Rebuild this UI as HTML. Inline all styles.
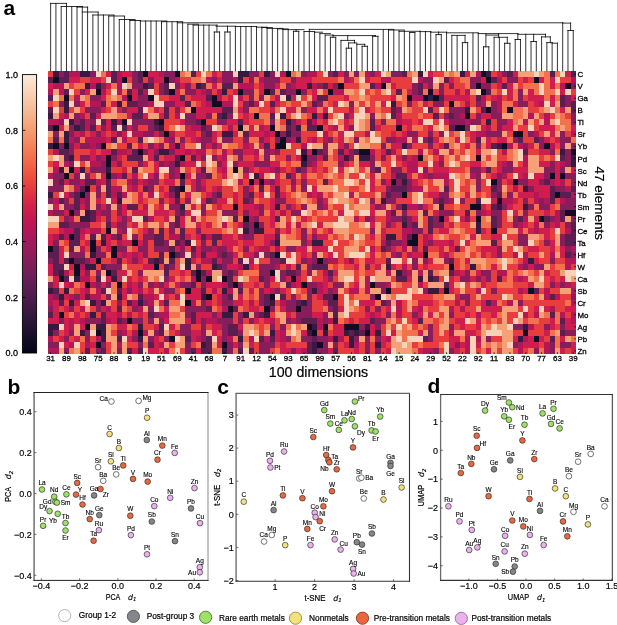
<!DOCTYPE html>
<html><head><meta charset="utf-8"><title>figure</title>
<style>html,body{margin:0;padding:0;background:#fff;}body{width:617px;height:625px;overflow:hidden}svg{display:block}</style>
</head><body>
<svg width="617" height="625" viewBox="0 0 617 625">
<style>.tk{font-family:"Liberation Sans",Arial,sans-serif;fill:#000;stroke:#000;stroke-width:0.28px}.tx{font-family:"Liberation Sans",Arial,sans-serif;fill:#000;stroke:#000;stroke-width:0.2px}.ak{font-family:"Liberation Sans",Arial,sans-serif;fill:#000;stroke:#000;stroke-width:0.16px}.lb{font-family:"Liberation Sans",Arial,sans-serif;fill:#000;stroke:#000;stroke-width:0.12px}</style>
<rect width="617" height="625" fill="#fff"/>
<g shape-rendering="crispEdges">
<path fill="#110c24" d="M143.02 71.20h5.30v6.03h-5.30zM174.70 71.20h5.30v6.03h-5.30zM285.56 71.20h5.30v6.03h-5.30zM480.88 71.20h5.30v6.03h-5.30zM53.28 77.21h5.30v6.03h-5.30zM121.91 77.21h5.30v6.03h-5.30zM164.14 77.21h5.30v6.03h-5.30zM486.16 77.21h5.30v6.03h-5.30zM533.67 77.21h5.30v6.03h-5.30zM338.34 83.23h5.30v6.03h-5.30zM380.58 83.23h5.30v6.03h-5.30zM475.60 83.23h5.30v6.03h-5.30zM565.34 83.23h5.30v6.03h-5.30zM95.51 89.24h5.30v6.03h-5.30zM169.42 89.24h5.30v6.03h-5.30zM238.04 89.24h5.30v6.03h-5.30zM264.44 89.24h5.30v6.03h-5.30zM296.11 89.24h5.30v6.03h-5.30zM327.79 89.24h5.30v6.03h-5.30zM428.09 89.24h5.30v6.03h-5.30zM480.88 89.24h5.30v6.03h-5.30zM63.84 95.26h5.30v6.03h-5.30zM127.19 95.26h5.30v6.03h-5.30zM148.30 95.26h5.30v6.03h-5.30zM211.65 95.26h5.30v6.03h-5.30zM406.97 95.26h5.30v6.03h-5.30zM422.81 95.26h5.30v6.03h-5.30zM433.37 95.26h5.30v6.03h-5.30zM211.65 101.27h5.30v6.03h-5.30zM216.93 101.27h5.30v6.03h-5.30zM449.20 101.27h5.30v6.03h-5.30zM190.53 107.29h5.30v6.03h-5.30zM486.16 107.29h5.30v6.03h-5.30zM507.27 107.29h5.30v6.03h-5.30zM253.88 113.30h5.30v6.03h-5.30zM465.04 113.30h5.30v6.03h-5.30zM121.91 119.32h5.30v6.03h-5.30zM158.86 119.32h5.30v6.03h-5.30zM201.09 119.32h5.30v6.03h-5.30zM53.28 125.33h5.30v6.03h-5.30zM238.04 125.33h5.30v6.03h-5.30zM269.72 125.33h5.30v6.03h-5.30zM317.23 125.33h5.30v6.03h-5.30zM396.41 125.33h5.30v6.03h-5.30zM454.48 125.33h5.30v6.03h-5.30zM459.76 125.33h5.30v6.03h-5.30zM164.14 131.35h5.30v6.03h-5.30zM275.00 131.35h5.30v6.03h-5.30zM512.55 131.35h5.30v6.03h-5.30zM517.83 131.35h5.30v6.03h-5.30zM280.28 137.36h5.30v6.03h-5.30zM53.28 143.38h5.30v6.03h-5.30zM63.84 143.38h5.30v6.03h-5.30zM100.79 143.38h5.30v6.03h-5.30zM275.00 143.38h5.30v6.03h-5.30zM280.28 143.38h5.30v6.03h-5.30zM501.99 143.38h5.30v6.03h-5.30zM544.23 143.38h5.30v6.03h-5.30zM137.74 149.39h5.30v6.03h-5.30zM311.95 149.39h5.30v6.03h-5.30zM359.46 149.39h5.30v6.03h-5.30zM364.74 149.39h5.30v6.03h-5.30zM570.62 149.39h5.30v6.03h-5.30zM106.07 155.41h5.30v6.03h-5.30zM179.97 155.41h5.30v6.03h-5.30zM301.39 155.41h5.30v6.03h-5.30zM417.53 155.41h5.30v6.03h-5.30zM475.60 155.41h5.30v6.03h-5.30zM106.07 161.42h5.30v6.03h-5.30zM69.12 167.44h5.30v6.03h-5.30zM232.76 167.44h5.30v6.03h-5.30zM63.84 173.45h5.30v6.03h-5.30zM106.07 173.45h5.30v6.03h-5.30zM179.97 173.45h5.30v6.03h-5.30zM549.50 173.45h5.30v6.03h-5.30zM560.06 173.45h5.30v6.03h-5.30zM248.60 179.47h5.30v6.03h-5.30zM259.16 179.47h5.30v6.03h-5.30zM391.13 179.47h5.30v6.03h-5.30zM491.44 179.47h5.30v6.03h-5.30zM512.55 179.47h5.30v6.03h-5.30zM84.95 185.48h5.30v6.03h-5.30zM179.97 185.48h5.30v6.03h-5.30zM79.67 191.50h5.30v6.03h-5.30zM401.69 191.50h5.30v6.03h-5.30zM554.78 191.50h5.30v6.03h-5.30zM496.71 197.51h5.30v6.03h-5.30zM232.76 203.53h5.30v6.03h-5.30zM470.32 203.53h5.30v6.03h-5.30zM475.60 203.53h5.30v6.03h-5.30zM69.12 209.54h5.30v6.03h-5.30zM565.34 209.54h5.30v6.03h-5.30zM570.62 209.54h5.30v6.03h-5.30zM243.32 215.56h5.30v6.03h-5.30zM438.65 215.56h5.30v6.03h-5.30zM475.60 215.56h5.30v6.03h-5.30zM538.95 215.56h5.30v6.03h-5.30zM253.88 221.57h5.30v6.03h-5.30zM106.07 227.59h5.30v6.03h-5.30zM491.44 227.59h5.30v6.03h-5.30zM69.12 233.60h5.30v6.03h-5.30zM412.25 233.60h5.30v6.03h-5.30zM90.23 239.62h5.30v6.03h-5.30zM132.46 239.62h5.30v6.03h-5.30zM406.97 239.62h5.30v6.03h-5.30zM412.25 239.62h5.30v6.03h-5.30zM48.00 245.63h5.30v6.03h-5.30zM90.23 245.63h5.30v6.03h-5.30zM111.35 245.63h5.30v6.03h-5.30zM111.35 251.65h5.30v6.03h-5.30zM169.42 251.65h5.30v6.03h-5.30zM275.00 251.65h5.30v6.03h-5.30zM422.81 251.65h5.30v6.03h-5.30zM69.12 257.66h5.30v6.03h-5.30zM95.51 257.66h5.30v6.03h-5.30zM317.23 257.66h5.30v6.03h-5.30zM74.39 263.68h5.30v6.03h-5.30zM153.58 263.68h5.30v6.03h-5.30zM449.20 263.68h5.30v6.03h-5.30zM74.39 269.69h5.30v6.03h-5.30zM106.07 269.69h5.30v6.03h-5.30zM195.81 269.69h5.30v6.03h-5.30zM269.72 269.69h5.30v6.03h-5.30zM58.56 275.71h5.30v6.03h-5.30zM195.81 275.71h5.30v6.03h-5.30zM206.37 275.71h5.30v6.03h-5.30zM222.21 275.71h5.30v6.03h-5.30zM290.83 275.71h5.30v6.03h-5.30zM84.95 281.72h5.30v6.03h-5.30zM116.63 281.72h5.30v6.03h-5.30zM232.76 281.72h5.30v6.03h-5.30zM301.39 281.72h5.30v6.03h-5.30zM370.02 281.72h5.30v6.03h-5.30zM185.25 287.74h5.30v6.03h-5.30zM385.86 287.74h5.30v6.03h-5.30zM443.93 287.74h5.30v6.03h-5.30zM528.39 287.74h5.30v6.03h-5.30zM206.37 293.75h5.30v6.03h-5.30zM269.72 293.75h5.30v6.03h-5.30zM333.07 293.75h5.30v6.03h-5.30zM375.30 293.75h5.30v6.03h-5.30zM185.25 299.77h5.30v6.03h-5.30zM227.49 305.78h5.30v6.03h-5.30zM264.44 305.78h5.30v6.03h-5.30zM296.11 305.78h5.30v6.03h-5.30zM58.56 311.80h5.30v6.03h-5.30zM127.19 317.81h5.30v6.03h-5.30zM84.95 323.83h5.30v6.03h-5.30zM306.67 323.83h5.30v6.03h-5.30zM322.51 323.83h5.30v6.03h-5.30zM343.62 323.83h5.30v6.03h-5.30zM348.90 323.83h5.30v6.03h-5.30zM354.18 323.83h5.30v6.03h-5.30zM95.51 329.84h5.30v6.03h-5.30zM137.74 329.84h5.30v6.03h-5.30zM311.95 329.84h5.30v6.03h-5.30zM364.74 329.84h5.30v6.03h-5.30zM523.11 329.84h5.30v6.03h-5.30zM169.42 335.86h5.30v6.03h-5.30zM533.67 335.86h5.30v6.03h-5.30zM95.51 341.87h5.30v6.03h-5.30zM222.21 341.87h5.30v6.03h-5.30zM317.23 341.87h5.30v6.03h-5.30z"/>
<path fill="#381a40" d="M53.28 71.20h5.30v6.03h-5.30zM79.67 71.20h5.30v6.03h-5.30zM84.95 71.20h5.30v6.03h-5.30zM238.04 71.20h5.30v6.03h-5.30zM243.32 71.20h5.30v6.03h-5.30zM264.44 71.20h5.30v6.03h-5.30zM417.53 71.20h5.30v6.03h-5.30zM459.76 71.20h5.30v6.03h-5.30zM486.16 71.20h5.30v6.03h-5.30zM238.04 77.21h5.30v6.03h-5.30zM84.95 83.23h5.30v6.03h-5.30zM95.51 83.23h5.30v6.03h-5.30zM143.02 83.23h5.30v6.03h-5.30zM195.81 83.23h5.30v6.03h-5.30zM306.67 83.23h5.30v6.03h-5.30zM222.21 89.24h5.30v6.03h-5.30zM285.56 95.26h5.30v6.03h-5.30zM428.09 95.26h5.30v6.03h-5.30zM63.84 101.27h5.30v6.03h-5.30zM116.63 101.27h5.30v6.03h-5.30zM391.13 101.27h5.30v6.03h-5.30zM63.84 107.29h5.30v6.03h-5.30zM465.04 107.29h5.30v6.03h-5.30zM48.00 113.30h5.30v6.03h-5.30zM222.21 113.30h5.30v6.03h-5.30zM280.28 113.30h5.30v6.03h-5.30zM311.95 113.30h5.30v6.03h-5.30zM322.51 113.30h5.30v6.03h-5.30zM69.12 119.32h5.30v6.03h-5.30zM111.35 119.32h5.30v6.03h-5.30zM153.58 119.32h5.30v6.03h-5.30zM285.56 119.32h5.30v6.03h-5.30zM486.16 119.32h5.30v6.03h-5.30zM74.39 125.33h5.30v6.03h-5.30zM158.86 125.33h5.30v6.03h-5.30zM296.11 125.33h5.30v6.03h-5.30zM63.84 131.35h5.30v6.03h-5.30zM222.21 131.35h5.30v6.03h-5.30zM227.49 131.35h5.30v6.03h-5.30zM285.56 131.35h5.30v6.03h-5.30zM63.84 137.36h5.30v6.03h-5.30zM296.11 137.36h5.30v6.03h-5.30zM48.00 143.38h5.30v6.03h-5.30zM174.70 143.38h5.30v6.03h-5.30zM401.69 143.38h5.30v6.03h-5.30zM496.71 143.38h5.30v6.03h-5.30zM158.86 149.39h5.30v6.03h-5.30zM164.14 149.39h5.30v6.03h-5.30zM301.39 149.39h5.30v6.03h-5.30zM560.06 149.39h5.30v6.03h-5.30zM69.12 155.41h5.30v6.03h-5.30zM343.62 155.41h5.30v6.03h-5.30zM359.46 155.41h5.30v6.03h-5.30zM364.74 155.41h5.30v6.03h-5.30zM570.62 155.41h5.30v6.03h-5.30zM174.70 161.42h5.30v6.03h-5.30zM301.39 161.42h5.30v6.03h-5.30zM570.62 161.42h5.30v6.03h-5.30zM58.56 167.44h5.30v6.03h-5.30zM79.67 167.44h5.30v6.03h-5.30zM106.07 167.44h5.30v6.03h-5.30zM253.88 173.45h5.30v6.03h-5.30zM401.69 179.47h5.30v6.03h-5.30zM174.70 185.48h5.30v6.03h-5.30zM523.11 185.48h5.30v6.03h-5.30zM48.00 191.50h5.30v6.03h-5.30zM174.70 191.50h5.30v6.03h-5.30zM116.63 197.51h5.30v6.03h-5.30zM380.58 197.51h5.30v6.03h-5.30zM179.97 203.53h5.30v6.03h-5.30zM275.00 203.53h5.30v6.03h-5.30zM401.69 203.53h5.30v6.03h-5.30zM438.65 203.53h5.30v6.03h-5.30zM496.71 203.53h5.30v6.03h-5.30zM523.11 203.53h5.30v6.03h-5.30zM84.95 209.54h5.30v6.03h-5.30zM79.67 215.56h5.30v6.03h-5.30zM84.95 215.56h5.30v6.03h-5.30zM401.69 221.57h5.30v6.03h-5.30zM475.60 221.57h5.30v6.03h-5.30zM243.32 227.59h5.30v6.03h-5.30zM253.88 227.59h5.30v6.03h-5.30zM259.16 227.59h5.30v6.03h-5.30zM475.60 227.59h5.30v6.03h-5.30zM385.86 233.60h5.30v6.03h-5.30zM391.13 233.60h5.30v6.03h-5.30zM100.79 239.62h5.30v6.03h-5.30zM185.25 239.62h5.30v6.03h-5.30zM275.00 239.62h5.30v6.03h-5.30zM311.95 239.62h5.30v6.03h-5.30zM317.23 239.62h5.30v6.03h-5.30zM90.23 251.65h5.30v6.03h-5.30zM153.58 257.66h5.30v6.03h-5.30zM185.25 257.66h5.30v6.03h-5.30zM528.39 257.66h5.30v6.03h-5.30zM84.95 263.68h5.30v6.03h-5.30zM90.23 263.68h5.30v6.03h-5.30zM185.25 263.68h5.30v6.03h-5.30zM211.65 263.68h5.30v6.03h-5.30zM243.32 263.68h5.30v6.03h-5.30zM385.86 263.68h5.30v6.03h-5.30zM470.32 263.68h5.30v6.03h-5.30zM58.56 269.69h5.30v6.03h-5.30zM396.41 269.69h5.30v6.03h-5.30zM74.39 275.71h5.30v6.03h-5.30zM111.35 275.71h5.30v6.03h-5.30zM417.53 275.71h5.30v6.03h-5.30zM428.09 275.71h5.30v6.03h-5.30zM48.00 287.74h5.30v6.03h-5.30zM63.84 287.74h5.30v6.03h-5.30zM222.21 287.74h5.30v6.03h-5.30zM311.95 287.74h5.30v6.03h-5.30zM428.09 287.74h5.30v6.03h-5.30zM433.37 287.74h5.30v6.03h-5.30zM58.56 293.75h5.30v6.03h-5.30zM116.63 293.75h5.30v6.03h-5.30zM201.09 293.75h5.30v6.03h-5.30zM69.12 299.77h5.30v6.03h-5.30zM90.23 299.77h5.30v6.03h-5.30zM100.79 299.77h5.30v6.03h-5.30zM137.74 299.77h5.30v6.03h-5.30zM269.72 299.77h5.30v6.03h-5.30zM301.39 299.77h5.30v6.03h-5.30zM90.23 311.80h5.30v6.03h-5.30zM222.21 311.80h5.30v6.03h-5.30zM227.49 311.80h5.30v6.03h-5.30zM243.32 311.80h5.30v6.03h-5.30zM264.44 311.80h5.30v6.03h-5.30zM333.07 317.81h5.30v6.03h-5.30zM48.00 323.83h5.30v6.03h-5.30zM53.28 323.83h5.30v6.03h-5.30zM95.51 323.83h5.30v6.03h-5.30zM100.79 323.83h5.30v6.03h-5.30zM137.74 323.83h5.30v6.03h-5.30zM311.95 323.83h5.30v6.03h-5.30zM364.74 323.83h5.30v6.03h-5.30zM523.11 323.83h5.30v6.03h-5.30zM48.00 329.84h5.30v6.03h-5.30zM79.67 329.84h5.30v6.03h-5.30zM100.79 329.84h5.30v6.03h-5.30zM269.72 329.84h5.30v6.03h-5.30zM306.67 329.84h5.30v6.03h-5.30zM322.51 329.84h5.30v6.03h-5.30zM343.62 329.84h5.30v6.03h-5.30zM354.18 329.84h5.30v6.03h-5.30zM375.30 329.84h5.30v6.03h-5.30zM100.79 335.86h5.30v6.03h-5.30zM137.74 335.86h5.30v6.03h-5.30zM238.04 335.86h5.30v6.03h-5.30zM333.07 335.86h5.30v6.03h-5.30zM348.90 335.86h5.30v6.03h-5.30zM517.83 335.86h5.30v6.03h-5.30zM201.09 341.87h5.30v6.03h-5.30zM311.95 341.87h5.30v6.03h-5.30zM348.90 341.87h5.30v6.03h-5.30zM375.30 341.87h5.30v6.03h-5.30zM222.21 347.89h5.30v6.03h-5.30zM311.95 347.89h5.30v6.03h-5.30z"/>
<path fill="#5b1e51" d="M63.84 71.20h5.30v6.03h-5.30zM111.35 71.20h5.30v6.03h-5.30zM137.74 71.20h5.30v6.03h-5.30zM190.53 71.20h5.30v6.03h-5.30zM333.07 71.20h5.30v6.03h-5.30zM401.69 71.20h5.30v6.03h-5.30zM507.27 71.20h5.30v6.03h-5.30zM549.50 71.20h5.30v6.03h-5.30zM570.62 71.20h5.30v6.03h-5.30zM48.00 77.21h5.30v6.03h-5.30zM58.56 77.21h5.30v6.03h-5.30zM63.84 77.21h5.30v6.03h-5.30zM111.35 77.21h5.30v6.03h-5.30zM137.74 77.21h5.30v6.03h-5.30zM443.93 77.21h5.30v6.03h-5.30zM491.44 77.21h5.30v6.03h-5.30zM148.30 83.23h5.30v6.03h-5.30zM164.14 83.23h5.30v6.03h-5.30zM201.09 83.23h5.30v6.03h-5.30zM222.21 83.23h5.30v6.03h-5.30zM227.49 83.23h5.30v6.03h-5.30zM322.51 83.23h5.30v6.03h-5.30zM370.02 83.23h5.30v6.03h-5.30zM417.53 83.23h5.30v6.03h-5.30zM501.99 83.23h5.30v6.03h-5.30zM63.84 89.24h5.30v6.03h-5.30zM127.19 89.24h5.30v6.03h-5.30zM137.74 89.24h5.30v6.03h-5.30zM164.14 89.24h5.30v6.03h-5.30zM269.72 89.24h5.30v6.03h-5.30zM280.28 89.24h5.30v6.03h-5.30zM396.41 89.24h5.30v6.03h-5.30zM417.53 89.24h5.30v6.03h-5.30zM486.16 89.24h5.30v6.03h-5.30zM48.00 95.26h5.30v6.03h-5.30zM179.97 95.26h5.30v6.03h-5.30zM206.37 95.26h5.30v6.03h-5.30zM317.23 95.26h5.30v6.03h-5.30zM322.51 95.26h5.30v6.03h-5.30zM438.65 95.26h5.30v6.03h-5.30zM475.60 95.26h5.30v6.03h-5.30zM560.06 95.26h5.30v6.03h-5.30zM100.79 101.27h5.30v6.03h-5.30zM127.19 101.27h5.30v6.03h-5.30zM132.46 101.27h5.30v6.03h-5.30zM185.25 101.27h5.30v6.03h-5.30zM248.60 101.27h5.30v6.03h-5.30zM269.72 101.27h5.30v6.03h-5.30zM311.95 101.27h5.30v6.03h-5.30zM560.06 101.27h5.30v6.03h-5.30zM570.62 101.27h5.30v6.03h-5.30zM48.00 107.29h5.30v6.03h-5.30zM137.74 107.29h5.30v6.03h-5.30zM164.14 107.29h5.30v6.03h-5.30zM222.21 107.29h5.30v6.03h-5.30zM227.49 107.29h5.30v6.03h-5.30zM391.13 107.29h5.30v6.03h-5.30zM428.09 107.29h5.30v6.03h-5.30zM480.88 107.29h5.30v6.03h-5.30zM570.62 107.29h5.30v6.03h-5.30zM90.23 113.30h5.30v6.03h-5.30zM132.46 113.30h5.30v6.03h-5.30zM137.74 113.30h5.30v6.03h-5.30zM164.14 113.30h5.30v6.03h-5.30zM216.93 113.30h5.30v6.03h-5.30zM269.72 113.30h5.30v6.03h-5.30zM391.13 113.30h5.30v6.03h-5.30zM433.37 113.30h5.30v6.03h-5.30zM449.20 113.30h5.30v6.03h-5.30zM79.67 119.32h5.30v6.03h-5.30zM100.79 119.32h5.30v6.03h-5.30zM195.81 119.32h5.30v6.03h-5.30zM238.04 119.32h5.30v6.03h-5.30zM306.67 119.32h5.30v6.03h-5.30zM370.02 119.32h5.30v6.03h-5.30zM48.00 125.33h5.30v6.03h-5.30zM79.67 125.33h5.30v6.03h-5.30zM90.23 125.33h5.30v6.03h-5.30zM111.35 125.33h5.30v6.03h-5.30zM121.91 125.33h5.30v6.03h-5.30zM153.58 125.33h5.30v6.03h-5.30zM201.09 125.33h5.30v6.03h-5.30zM285.56 125.33h5.30v6.03h-5.30zM306.67 125.33h5.30v6.03h-5.30zM311.95 125.33h5.30v6.03h-5.30zM370.02 125.33h5.30v6.03h-5.30zM449.20 125.33h5.30v6.03h-5.30zM206.37 131.35h5.30v6.03h-5.30zM243.32 131.35h5.30v6.03h-5.30zM53.28 137.36h5.30v6.03h-5.30zM111.35 137.36h5.30v6.03h-5.30zM137.74 137.36h5.30v6.03h-5.30zM428.09 137.36h5.30v6.03h-5.30zM475.60 137.36h5.30v6.03h-5.30zM517.83 137.36h5.30v6.03h-5.30zM533.67 137.36h5.30v6.03h-5.30zM127.19 143.38h5.30v6.03h-5.30zM264.44 143.38h5.30v6.03h-5.30zM443.93 143.38h5.30v6.03h-5.30zM491.44 143.38h5.30v6.03h-5.30zM58.56 149.39h5.30v6.03h-5.30zM63.84 149.39h5.30v6.03h-5.30zM111.35 149.39h5.30v6.03h-5.30zM132.46 149.39h5.30v6.03h-5.30zM317.23 149.39h5.30v6.03h-5.30zM338.34 149.39h5.30v6.03h-5.30zM354.18 149.39h5.30v6.03h-5.30zM385.86 149.39h5.30v6.03h-5.30zM523.11 149.39h5.30v6.03h-5.30zM63.84 155.41h5.30v6.03h-5.30zM127.19 155.41h5.30v6.03h-5.30zM132.46 155.41h5.30v6.03h-5.30zM137.74 155.41h5.30v6.03h-5.30zM153.58 155.41h5.30v6.03h-5.30zM174.70 155.41h5.30v6.03h-5.30zM190.53 155.41h5.30v6.03h-5.30zM322.51 155.41h5.30v6.03h-5.30zM560.06 155.41h5.30v6.03h-5.30zM132.46 167.44h5.30v6.03h-5.30zM201.09 167.44h5.30v6.03h-5.30zM296.11 167.44h5.30v6.03h-5.30zM375.30 167.44h5.30v6.03h-5.30zM486.16 167.44h5.30v6.03h-5.30zM121.91 173.45h5.30v6.03h-5.30zM206.37 173.45h5.30v6.03h-5.30zM285.56 173.45h5.30v6.03h-5.30zM396.41 173.45h5.30v6.03h-5.30zM401.69 173.45h5.30v6.03h-5.30zM58.56 179.47h5.30v6.03h-5.30zM84.95 179.47h5.30v6.03h-5.30zM90.23 179.47h5.30v6.03h-5.30zM106.07 179.47h5.30v6.03h-5.30zM179.97 179.47h5.30v6.03h-5.30zM322.51 179.47h5.30v6.03h-5.30zM544.23 179.47h5.30v6.03h-5.30zM79.67 185.48h5.30v6.03h-5.30zM106.07 185.48h5.30v6.03h-5.30zM143.02 185.48h5.30v6.03h-5.30zM169.42 185.48h5.30v6.03h-5.30zM259.16 185.48h5.30v6.03h-5.30zM275.00 185.48h5.30v6.03h-5.30zM391.13 185.48h5.30v6.03h-5.30zM396.41 185.48h5.30v6.03h-5.30zM401.69 185.48h5.30v6.03h-5.30zM443.93 185.48h5.30v6.03h-5.30zM491.44 185.48h5.30v6.03h-5.30zM549.50 185.48h5.30v6.03h-5.30zM570.62 185.48h5.30v6.03h-5.30zM74.39 191.50h5.30v6.03h-5.30zM106.07 191.50h5.30v6.03h-5.30zM116.63 191.50h5.30v6.03h-5.30zM216.93 191.50h5.30v6.03h-5.30zM248.60 191.50h5.30v6.03h-5.30zM275.00 191.50h5.30v6.03h-5.30zM385.86 191.50h5.30v6.03h-5.30zM496.71 191.50h5.30v6.03h-5.30zM549.50 191.50h5.30v6.03h-5.30zM560.06 191.50h5.30v6.03h-5.30zM565.34 191.50h5.30v6.03h-5.30zM58.56 197.51h5.30v6.03h-5.30zM74.39 197.51h5.30v6.03h-5.30zM174.70 197.51h5.30v6.03h-5.30zM206.37 197.51h5.30v6.03h-5.30zM243.32 197.51h5.30v6.03h-5.30zM438.65 197.51h5.30v6.03h-5.30zM475.60 197.51h5.30v6.03h-5.30zM549.50 197.51h5.30v6.03h-5.30zM74.39 203.53h5.30v6.03h-5.30zM127.19 203.53h5.30v6.03h-5.30zM132.46 203.53h5.30v6.03h-5.30zM491.44 203.53h5.30v6.03h-5.30zM90.23 209.54h5.30v6.03h-5.30zM179.97 209.54h5.30v6.03h-5.30zM391.13 209.54h5.30v6.03h-5.30zM422.81 209.54h5.30v6.03h-5.30zM465.04 209.54h5.30v6.03h-5.30zM560.06 209.54h5.30v6.03h-5.30zM90.23 215.56h5.30v6.03h-5.30zM143.02 215.56h5.30v6.03h-5.30zM174.70 215.56h5.30v6.03h-5.30zM232.76 215.56h5.30v6.03h-5.30zM275.00 215.56h5.30v6.03h-5.30zM401.69 215.56h5.30v6.03h-5.30zM428.09 215.56h5.30v6.03h-5.30zM491.44 215.56h5.30v6.03h-5.30zM517.83 215.56h5.30v6.03h-5.30zM544.23 215.56h5.30v6.03h-5.30zM560.06 215.56h5.30v6.03h-5.30zM58.56 221.57h5.30v6.03h-5.30zM63.84 221.57h5.30v6.03h-5.30zM106.07 221.57h5.30v6.03h-5.30zM174.70 221.57h5.30v6.03h-5.30zM243.32 221.57h5.30v6.03h-5.30zM412.25 221.57h5.30v6.03h-5.30zM428.09 221.57h5.30v6.03h-5.30zM491.44 221.57h5.30v6.03h-5.30zM570.62 221.57h5.30v6.03h-5.30zM74.39 227.59h5.30v6.03h-5.30zM158.86 227.59h5.30v6.03h-5.30zM179.97 227.59h5.30v6.03h-5.30zM428.09 227.59h5.30v6.03h-5.30zM570.62 227.59h5.30v6.03h-5.30zM58.56 233.60h5.30v6.03h-5.30zM74.39 233.60h5.30v6.03h-5.30zM90.23 233.60h5.30v6.03h-5.30zM100.79 233.60h5.30v6.03h-5.30zM116.63 233.60h5.30v6.03h-5.30zM153.58 233.60h5.30v6.03h-5.30zM158.86 233.60h5.30v6.03h-5.30zM179.97 233.60h5.30v6.03h-5.30zM201.09 233.60h5.30v6.03h-5.30zM211.65 233.60h5.30v6.03h-5.30zM216.93 233.60h5.30v6.03h-5.30zM275.00 233.60h5.30v6.03h-5.30zM406.97 233.60h5.30v6.03h-5.30zM565.34 233.60h5.30v6.03h-5.30zM570.62 233.60h5.30v6.03h-5.30zM69.12 239.62h5.30v6.03h-5.30zM74.39 239.62h5.30v6.03h-5.30zM153.58 239.62h5.30v6.03h-5.30zM158.86 239.62h5.30v6.03h-5.30zM174.70 239.62h5.30v6.03h-5.30zM211.65 239.62h5.30v6.03h-5.30zM385.86 239.62h5.30v6.03h-5.30zM491.44 239.62h5.30v6.03h-5.30zM565.34 239.62h5.30v6.03h-5.30zM570.62 239.62h5.30v6.03h-5.30zM53.28 245.63h5.30v6.03h-5.30zM69.12 245.63h5.30v6.03h-5.30zM169.42 245.63h5.30v6.03h-5.30zM190.53 245.63h5.30v6.03h-5.30zM380.58 245.63h5.30v6.03h-5.30zM422.81 245.63h5.30v6.03h-5.30zM454.48 245.63h5.30v6.03h-5.30zM48.00 251.65h5.30v6.03h-5.30zM53.28 251.65h5.30v6.03h-5.30zM158.86 251.65h5.30v6.03h-5.30zM174.70 251.65h5.30v6.03h-5.30zM201.09 251.65h5.30v6.03h-5.30zM222.21 251.65h5.30v6.03h-5.30zM269.72 251.65h5.30v6.03h-5.30zM565.34 251.65h5.30v6.03h-5.30zM53.28 257.66h5.30v6.03h-5.30zM63.84 257.66h5.30v6.03h-5.30zM74.39 257.66h5.30v6.03h-5.30zM79.67 257.66h5.30v6.03h-5.30zM116.63 257.66h5.30v6.03h-5.30zM148.30 257.66h5.30v6.03h-5.30zM158.86 257.66h5.30v6.03h-5.30zM169.42 257.66h5.30v6.03h-5.30zM211.65 257.66h5.30v6.03h-5.30zM238.04 257.66h5.30v6.03h-5.30zM280.28 257.66h5.30v6.03h-5.30zM385.86 257.66h5.30v6.03h-5.30zM449.20 257.66h5.30v6.03h-5.30zM53.28 263.68h5.30v6.03h-5.30zM58.56 263.68h5.30v6.03h-5.30zM100.79 263.68h5.30v6.03h-5.30zM164.14 263.68h5.30v6.03h-5.30zM216.93 263.68h5.30v6.03h-5.30zM296.11 263.68h5.30v6.03h-5.30zM311.95 263.68h5.30v6.03h-5.30zM317.23 263.68h5.30v6.03h-5.30zM322.51 263.68h5.30v6.03h-5.30zM53.28 269.69h5.30v6.03h-5.30zM111.35 269.69h5.30v6.03h-5.30zM164.14 269.69h5.30v6.03h-5.30zM190.53 269.69h5.30v6.03h-5.30zM201.09 269.69h5.30v6.03h-5.30zM227.49 269.69h5.30v6.03h-5.30zM285.56 269.69h5.30v6.03h-5.30zM290.83 269.69h5.30v6.03h-5.30zM327.79 269.69h5.30v6.03h-5.30zM428.09 269.69h5.30v6.03h-5.30zM449.20 269.69h5.30v6.03h-5.30zM63.84 275.71h5.30v6.03h-5.30zM95.51 275.71h5.30v6.03h-5.30zM227.49 275.71h5.30v6.03h-5.30zM259.16 275.71h5.30v6.03h-5.30zM396.41 275.71h5.30v6.03h-5.30zM401.69 275.71h5.30v6.03h-5.30zM433.37 275.71h5.30v6.03h-5.30zM496.71 275.71h5.30v6.03h-5.30zM190.53 281.72h5.30v6.03h-5.30zM227.49 281.72h5.30v6.03h-5.30zM285.56 281.72h5.30v6.03h-5.30zM443.93 281.72h5.30v6.03h-5.30zM53.28 287.74h5.30v6.03h-5.30zM100.79 287.74h5.30v6.03h-5.30zM116.63 287.74h5.30v6.03h-5.30zM201.09 287.74h5.30v6.03h-5.30zM238.04 287.74h5.30v6.03h-5.30zM533.67 287.74h5.30v6.03h-5.30zM84.95 293.75h5.30v6.03h-5.30zM137.74 293.75h5.30v6.03h-5.30zM227.49 293.75h5.30v6.03h-5.30zM264.44 293.75h5.30v6.03h-5.30zM280.28 293.75h5.30v6.03h-5.30zM322.51 293.75h5.30v6.03h-5.30zM327.79 293.75h5.30v6.03h-5.30zM549.50 293.75h5.30v6.03h-5.30zM58.56 299.77h5.30v6.03h-5.30zM127.19 299.77h5.30v6.03h-5.30zM164.14 299.77h5.30v6.03h-5.30zM264.44 299.77h5.30v6.03h-5.30zM296.11 299.77h5.30v6.03h-5.30zM327.79 299.77h5.30v6.03h-5.30zM333.07 299.77h5.30v6.03h-5.30zM380.58 299.77h5.30v6.03h-5.30zM486.16 299.77h5.30v6.03h-5.30zM116.63 305.78h5.30v6.03h-5.30zM206.37 305.78h5.30v6.03h-5.30zM232.76 305.78h5.30v6.03h-5.30zM333.07 305.78h5.30v6.03h-5.30zM48.00 311.80h5.30v6.03h-5.30zM100.79 311.80h5.30v6.03h-5.30zM148.30 311.80h5.30v6.03h-5.30zM190.53 311.80h5.30v6.03h-5.30zM259.16 311.80h5.30v6.03h-5.30zM333.07 311.80h5.30v6.03h-5.30zM549.50 311.80h5.30v6.03h-5.30zM100.79 317.81h5.30v6.03h-5.30zM116.63 317.81h5.30v6.03h-5.30zM190.53 317.81h5.30v6.03h-5.30zM301.39 317.81h5.30v6.03h-5.30zM306.67 317.81h5.30v6.03h-5.30zM311.95 317.81h5.30v6.03h-5.30zM370.02 317.81h5.30v6.03h-5.30zM417.53 317.81h5.30v6.03h-5.30zM560.06 317.81h5.30v6.03h-5.30zM158.86 323.83h5.30v6.03h-5.30zM227.49 323.83h5.30v6.03h-5.30zM232.76 323.83h5.30v6.03h-5.30zM158.86 329.84h5.30v6.03h-5.30zM227.49 329.84h5.30v6.03h-5.30zM232.76 329.84h5.30v6.03h-5.30zM348.90 329.84h5.30v6.03h-5.30zM359.46 329.84h5.30v6.03h-5.30zM560.06 329.84h5.30v6.03h-5.30zM116.63 335.86h5.30v6.03h-5.30zM185.25 335.86h5.30v6.03h-5.30zM206.37 335.86h5.30v6.03h-5.30zM259.16 335.86h5.30v6.03h-5.30zM269.72 335.86h5.30v6.03h-5.30zM311.95 335.86h5.30v6.03h-5.30zM422.81 335.86h5.30v6.03h-5.30zM549.50 335.86h5.30v6.03h-5.30zM148.30 341.87h5.30v6.03h-5.30zM206.37 341.87h5.30v6.03h-5.30zM306.67 341.87h5.30v6.03h-5.30zM84.95 347.89h5.30v6.03h-5.30zM100.79 347.89h5.30v6.03h-5.30zM127.19 347.89h5.30v6.03h-5.30zM137.74 347.89h5.30v6.03h-5.30zM190.53 347.89h5.30v6.03h-5.30zM201.09 347.89h5.30v6.03h-5.30zM206.37 347.89h5.30v6.03h-5.30zM238.04 347.89h5.30v6.03h-5.30zM248.60 347.89h5.30v6.03h-5.30zM306.67 347.89h5.30v6.03h-5.30zM333.07 347.89h5.30v6.03h-5.30z"/>
<path fill="#871e5b" d="M58.56 71.20h5.30v6.03h-5.30zM90.23 71.20h5.30v6.03h-5.30zM132.46 71.20h5.30v6.03h-5.30zM164.14 71.20h5.30v6.03h-5.30zM169.42 71.20h5.30v6.03h-5.30zM222.21 71.20h5.30v6.03h-5.30zM227.49 71.20h5.30v6.03h-5.30zM248.60 71.20h5.30v6.03h-5.30zM253.88 71.20h5.30v6.03h-5.30zM269.72 71.20h5.30v6.03h-5.30zM301.39 71.20h5.30v6.03h-5.30zM327.79 71.20h5.30v6.03h-5.30zM343.62 71.20h5.30v6.03h-5.30zM354.18 71.20h5.30v6.03h-5.30zM370.02 71.20h5.30v6.03h-5.30zM391.13 71.20h5.30v6.03h-5.30zM396.41 71.20h5.30v6.03h-5.30zM501.99 71.20h5.30v6.03h-5.30zM132.46 77.21h5.30v6.03h-5.30zM148.30 77.21h5.30v6.03h-5.30zM169.42 77.21h5.30v6.03h-5.30zM211.65 77.21h5.30v6.03h-5.30zM222.21 77.21h5.30v6.03h-5.30zM227.49 77.21h5.30v6.03h-5.30zM248.60 77.21h5.30v6.03h-5.30zM264.44 77.21h5.30v6.03h-5.30zM269.72 77.21h5.30v6.03h-5.30zM275.00 77.21h5.30v6.03h-5.30zM290.83 77.21h5.30v6.03h-5.30zM422.81 77.21h5.30v6.03h-5.30zM428.09 77.21h5.30v6.03h-5.30zM470.32 77.21h5.30v6.03h-5.30zM475.60 77.21h5.30v6.03h-5.30zM507.27 77.21h5.30v6.03h-5.30zM512.55 77.21h5.30v6.03h-5.30zM100.79 83.23h5.30v6.03h-5.30zM132.46 83.23h5.30v6.03h-5.30zM137.74 83.23h5.30v6.03h-5.30zM158.86 83.23h5.30v6.03h-5.30zM174.70 83.23h5.30v6.03h-5.30zM185.25 83.23h5.30v6.03h-5.30zM264.44 83.23h5.30v6.03h-5.30zM269.72 83.23h5.30v6.03h-5.30zM285.56 83.23h5.30v6.03h-5.30zM317.23 83.23h5.30v6.03h-5.30zM333.07 83.23h5.30v6.03h-5.30zM412.25 83.23h5.30v6.03h-5.30zM428.09 83.23h5.30v6.03h-5.30zM438.65 83.23h5.30v6.03h-5.30zM449.20 83.23h5.30v6.03h-5.30zM470.32 83.23h5.30v6.03h-5.30zM480.88 83.23h5.30v6.03h-5.30zM486.16 83.23h5.30v6.03h-5.30zM570.62 83.23h5.30v6.03h-5.30zM79.67 89.24h5.30v6.03h-5.30zM158.86 89.24h5.30v6.03h-5.30zM185.25 89.24h5.30v6.03h-5.30zM190.53 89.24h5.30v6.03h-5.30zM206.37 89.24h5.30v6.03h-5.30zM243.32 89.24h5.30v6.03h-5.30zM248.60 89.24h5.30v6.03h-5.30zM285.56 89.24h5.30v6.03h-5.30zM290.83 89.24h5.30v6.03h-5.30zM301.39 89.24h5.30v6.03h-5.30zM412.25 89.24h5.30v6.03h-5.30zM438.65 89.24h5.30v6.03h-5.30zM517.83 89.24h5.30v6.03h-5.30zM90.23 95.26h5.30v6.03h-5.30zM95.51 95.26h5.30v6.03h-5.30zM137.74 95.26h5.30v6.03h-5.30zM143.02 95.26h5.30v6.03h-5.30zM248.60 95.26h5.30v6.03h-5.30zM259.16 95.26h5.30v6.03h-5.30zM517.83 95.26h5.30v6.03h-5.30zM565.34 95.26h5.30v6.03h-5.30zM58.56 101.27h5.30v6.03h-5.30zM74.39 101.27h5.30v6.03h-5.30zM137.74 101.27h5.30v6.03h-5.30zM143.02 101.27h5.30v6.03h-5.30zM164.14 101.27h5.30v6.03h-5.30zM169.42 101.27h5.30v6.03h-5.30zM243.32 101.27h5.30v6.03h-5.30zM317.23 101.27h5.30v6.03h-5.30zM348.90 101.27h5.30v6.03h-5.30zM406.97 101.27h5.30v6.03h-5.30zM433.37 101.27h5.30v6.03h-5.30zM438.65 101.27h5.30v6.03h-5.30zM475.60 101.27h5.30v6.03h-5.30zM491.44 101.27h5.30v6.03h-5.30zM517.83 101.27h5.30v6.03h-5.30zM523.11 101.27h5.30v6.03h-5.30zM565.34 101.27h5.30v6.03h-5.30zM84.95 107.29h5.30v6.03h-5.30zM90.23 107.29h5.30v6.03h-5.30zM95.51 107.29h5.30v6.03h-5.30zM121.91 107.29h5.30v6.03h-5.30zM174.70 107.29h5.30v6.03h-5.30zM243.32 107.29h5.30v6.03h-5.30zM301.39 107.29h5.30v6.03h-5.30zM396.41 107.29h5.30v6.03h-5.30zM449.20 107.29h5.30v6.03h-5.30zM454.48 107.29h5.30v6.03h-5.30zM459.76 107.29h5.30v6.03h-5.30zM491.44 107.29h5.30v6.03h-5.30zM74.39 113.30h5.30v6.03h-5.30zM185.25 113.30h5.30v6.03h-5.30zM190.53 113.30h5.30v6.03h-5.30zM206.37 113.30h5.30v6.03h-5.30zM227.49 113.30h5.30v6.03h-5.30zM343.62 113.30h5.30v6.03h-5.30zM370.02 113.30h5.30v6.03h-5.30zM443.93 113.30h5.30v6.03h-5.30zM454.48 113.30h5.30v6.03h-5.30zM475.60 113.30h5.30v6.03h-5.30zM491.44 113.30h5.30v6.03h-5.30zM496.71 113.30h5.30v6.03h-5.30zM570.62 113.30h5.30v6.03h-5.30zM58.56 119.32h5.30v6.03h-5.30zM74.39 119.32h5.30v6.03h-5.30zM90.23 119.32h5.30v6.03h-5.30zM132.46 119.32h5.30v6.03h-5.30zM137.74 119.32h5.30v6.03h-5.30zM143.02 119.32h5.30v6.03h-5.30zM148.30 119.32h5.30v6.03h-5.30zM185.25 119.32h5.30v6.03h-5.30zM190.53 119.32h5.30v6.03h-5.30zM216.93 119.32h5.30v6.03h-5.30zM222.21 119.32h5.30v6.03h-5.30zM269.72 119.32h5.30v6.03h-5.30zM290.83 119.32h5.30v6.03h-5.30zM380.58 119.32h5.30v6.03h-5.30zM449.20 119.32h5.30v6.03h-5.30zM454.48 119.32h5.30v6.03h-5.30zM459.76 119.32h5.30v6.03h-5.30zM470.32 119.32h5.30v6.03h-5.30zM475.60 119.32h5.30v6.03h-5.30zM496.71 119.32h5.30v6.03h-5.30zM501.99 119.32h5.30v6.03h-5.30zM570.62 119.32h5.30v6.03h-5.30zM69.12 125.33h5.30v6.03h-5.30zM100.79 125.33h5.30v6.03h-5.30zM132.46 125.33h5.30v6.03h-5.30zM148.30 125.33h5.30v6.03h-5.30zM206.37 125.33h5.30v6.03h-5.30zM290.83 125.33h5.30v6.03h-5.30zM348.90 125.33h5.30v6.03h-5.30zM465.04 125.33h5.30v6.03h-5.30zM496.71 125.33h5.30v6.03h-5.30zM53.28 131.35h5.30v6.03h-5.30zM69.12 131.35h5.30v6.03h-5.30zM95.51 131.35h5.30v6.03h-5.30zM116.63 131.35h5.30v6.03h-5.30zM143.02 131.35h5.30v6.03h-5.30zM148.30 131.35h5.30v6.03h-5.30zM158.86 131.35h5.30v6.03h-5.30zM201.09 131.35h5.30v6.03h-5.30zM280.28 131.35h5.30v6.03h-5.30zM290.83 131.35h5.30v6.03h-5.30zM296.11 131.35h5.30v6.03h-5.30zM406.97 131.35h5.30v6.03h-5.30zM412.25 131.35h5.30v6.03h-5.30zM428.09 131.35h5.30v6.03h-5.30zM438.65 131.35h5.30v6.03h-5.30zM486.16 131.35h5.30v6.03h-5.30zM491.44 131.35h5.30v6.03h-5.30zM496.71 131.35h5.30v6.03h-5.30zM528.39 131.35h5.30v6.03h-5.30zM560.06 131.35h5.30v6.03h-5.30zM74.39 137.36h5.30v6.03h-5.30zM169.42 137.36h5.30v6.03h-5.30zM179.97 137.36h5.30v6.03h-5.30zM201.09 137.36h5.30v6.03h-5.30zM206.37 137.36h5.30v6.03h-5.30zM222.21 137.36h5.30v6.03h-5.30zM227.49 137.36h5.30v6.03h-5.30zM243.32 137.36h5.30v6.03h-5.30zM259.16 137.36h5.30v6.03h-5.30zM275.00 137.36h5.30v6.03h-5.30zM285.56 137.36h5.30v6.03h-5.30zM327.79 137.36h5.30v6.03h-5.30zM354.18 137.36h5.30v6.03h-5.30zM385.86 137.36h5.30v6.03h-5.30zM391.13 137.36h5.30v6.03h-5.30zM422.81 137.36h5.30v6.03h-5.30zM512.55 137.36h5.30v6.03h-5.30zM538.95 137.36h5.30v6.03h-5.30zM560.06 137.36h5.30v6.03h-5.30zM565.34 137.36h5.30v6.03h-5.30zM58.56 143.38h5.30v6.03h-5.30zM69.12 143.38h5.30v6.03h-5.30zM79.67 143.38h5.30v6.03h-5.30zM84.95 143.38h5.30v6.03h-5.30zM95.51 143.38h5.30v6.03h-5.30zM148.30 143.38h5.30v6.03h-5.30zM158.86 143.38h5.30v6.03h-5.30zM201.09 143.38h5.30v6.03h-5.30zM211.65 143.38h5.30v6.03h-5.30zM322.51 143.38h5.30v6.03h-5.30zM343.62 143.38h5.30v6.03h-5.30zM380.58 143.38h5.30v6.03h-5.30zM406.97 143.38h5.30v6.03h-5.30zM428.09 143.38h5.30v6.03h-5.30zM475.60 143.38h5.30v6.03h-5.30zM523.11 143.38h5.30v6.03h-5.30zM538.95 143.38h5.30v6.03h-5.30zM560.06 143.38h5.30v6.03h-5.30zM570.62 143.38h5.30v6.03h-5.30zM69.12 149.39h5.30v6.03h-5.30zM143.02 149.39h5.30v6.03h-5.30zM153.58 149.39h5.30v6.03h-5.30zM169.42 149.39h5.30v6.03h-5.30zM232.76 149.39h5.30v6.03h-5.30zM238.04 149.39h5.30v6.03h-5.30zM264.44 149.39h5.30v6.03h-5.30zM275.00 149.39h5.30v6.03h-5.30zM322.51 149.39h5.30v6.03h-5.30zM348.90 149.39h5.30v6.03h-5.30zM549.50 149.39h5.30v6.03h-5.30zM565.34 149.39h5.30v6.03h-5.30zM79.67 155.41h5.30v6.03h-5.30zM84.95 155.41h5.30v6.03h-5.30zM95.51 155.41h5.30v6.03h-5.30zM111.35 155.41h5.30v6.03h-5.30zM201.09 155.41h5.30v6.03h-5.30zM211.65 155.41h5.30v6.03h-5.30zM238.04 155.41h5.30v6.03h-5.30zM264.44 155.41h5.30v6.03h-5.30zM285.56 155.41h5.30v6.03h-5.30zM306.67 155.41h5.30v6.03h-5.30zM311.95 155.41h5.30v6.03h-5.30zM348.90 155.41h5.30v6.03h-5.30zM370.02 155.41h5.30v6.03h-5.30zM380.58 155.41h5.30v6.03h-5.30zM401.69 155.41h5.30v6.03h-5.30zM565.34 155.41h5.30v6.03h-5.30zM69.12 161.42h5.30v6.03h-5.30zM100.79 161.42h5.30v6.03h-5.30zM116.63 161.42h5.30v6.03h-5.30zM137.74 161.42h5.30v6.03h-5.30zM158.86 161.42h5.30v6.03h-5.30zM169.42 161.42h5.30v6.03h-5.30zM216.93 161.42h5.30v6.03h-5.30zM232.76 161.42h5.30v6.03h-5.30zM253.88 161.42h5.30v6.03h-5.30zM259.16 161.42h5.30v6.03h-5.30zM264.44 161.42h5.30v6.03h-5.30zM306.67 161.42h5.30v6.03h-5.30zM338.34 161.42h5.30v6.03h-5.30zM370.02 161.42h5.30v6.03h-5.30zM438.65 161.42h5.30v6.03h-5.30zM507.27 161.42h5.30v6.03h-5.30zM549.50 161.42h5.30v6.03h-5.30zM565.34 161.42h5.30v6.03h-5.30zM90.23 167.44h5.30v6.03h-5.30zM95.51 167.44h5.30v6.03h-5.30zM100.79 167.44h5.30v6.03h-5.30zM169.42 167.44h5.30v6.03h-5.30zM243.32 167.44h5.30v6.03h-5.30zM275.00 167.44h5.30v6.03h-5.30zM301.39 167.44h5.30v6.03h-5.30zM370.02 167.44h5.30v6.03h-5.30zM391.13 167.44h5.30v6.03h-5.30zM396.41 167.44h5.30v6.03h-5.30zM422.81 167.44h5.30v6.03h-5.30zM470.32 167.44h5.30v6.03h-5.30zM475.60 167.44h5.30v6.03h-5.30zM501.99 167.44h5.30v6.03h-5.30zM507.27 167.44h5.30v6.03h-5.30zM544.23 167.44h5.30v6.03h-5.30zM549.50 167.44h5.30v6.03h-5.30zM560.06 167.44h5.30v6.03h-5.30zM53.28 173.45h5.30v6.03h-5.30zM58.56 173.45h5.30v6.03h-5.30zM74.39 173.45h5.30v6.03h-5.30zM84.95 173.45h5.30v6.03h-5.30zM111.35 173.45h5.30v6.03h-5.30zM153.58 173.45h5.30v6.03h-5.30zM169.42 173.45h5.30v6.03h-5.30zM195.81 173.45h5.30v6.03h-5.30zM201.09 173.45h5.30v6.03h-5.30zM428.09 173.45h5.30v6.03h-5.30zM475.60 173.45h5.30v6.03h-5.30zM496.71 173.45h5.30v6.03h-5.30zM544.23 173.45h5.30v6.03h-5.30zM565.34 173.45h5.30v6.03h-5.30zM570.62 173.45h5.30v6.03h-5.30zM53.28 179.47h5.30v6.03h-5.30zM69.12 179.47h5.30v6.03h-5.30zM74.39 179.47h5.30v6.03h-5.30zM132.46 179.47h5.30v6.03h-5.30zM148.30 179.47h5.30v6.03h-5.30zM153.58 179.47h5.30v6.03h-5.30zM195.81 179.47h5.30v6.03h-5.30zM269.72 179.47h5.30v6.03h-5.30zM290.83 179.47h5.30v6.03h-5.30zM301.39 179.47h5.30v6.03h-5.30zM380.58 179.47h5.30v6.03h-5.30zM396.41 179.47h5.30v6.03h-5.30zM406.97 179.47h5.30v6.03h-5.30zM475.60 179.47h5.30v6.03h-5.30zM496.71 179.47h5.30v6.03h-5.30zM517.83 179.47h5.30v6.03h-5.30zM523.11 179.47h5.30v6.03h-5.30zM538.95 179.47h5.30v6.03h-5.30zM570.62 179.47h5.30v6.03h-5.30zM48.00 185.48h5.30v6.03h-5.30zM53.28 185.48h5.30v6.03h-5.30zM58.56 185.48h5.30v6.03h-5.30zM95.51 185.48h5.30v6.03h-5.30zM148.30 185.48h5.30v6.03h-5.30zM195.81 185.48h5.30v6.03h-5.30zM243.32 185.48h5.30v6.03h-5.30zM301.39 185.48h5.30v6.03h-5.30zM385.86 185.48h5.30v6.03h-5.30zM406.97 185.48h5.30v6.03h-5.30zM475.60 185.48h5.30v6.03h-5.30zM496.71 185.48h5.30v6.03h-5.30zM528.39 185.48h5.30v6.03h-5.30zM554.78 185.48h5.30v6.03h-5.30zM560.06 185.48h5.30v6.03h-5.30zM69.12 191.50h5.30v6.03h-5.30zM84.95 191.50h5.30v6.03h-5.30zM95.51 191.50h5.30v6.03h-5.30zM169.42 191.50h5.30v6.03h-5.30zM211.65 191.50h5.30v6.03h-5.30zM243.32 191.50h5.30v6.03h-5.30zM391.13 191.50h5.30v6.03h-5.30zM396.41 191.50h5.30v6.03h-5.30zM438.65 191.50h5.30v6.03h-5.30zM443.93 191.50h5.30v6.03h-5.30zM491.44 191.50h5.30v6.03h-5.30zM507.27 191.50h5.30v6.03h-5.30zM48.00 197.51h5.30v6.03h-5.30zM63.84 197.51h5.30v6.03h-5.30zM84.95 197.51h5.30v6.03h-5.30zM158.86 197.51h5.30v6.03h-5.30zM185.25 197.51h5.30v6.03h-5.30zM211.65 197.51h5.30v6.03h-5.30zM248.60 197.51h5.30v6.03h-5.30zM275.00 197.51h5.30v6.03h-5.30zM280.28 197.51h5.30v6.03h-5.30zM317.23 197.51h5.30v6.03h-5.30zM370.02 197.51h5.30v6.03h-5.30zM385.86 197.51h5.30v6.03h-5.30zM391.13 197.51h5.30v6.03h-5.30zM433.37 197.51h5.30v6.03h-5.30zM443.93 197.51h5.30v6.03h-5.30zM459.76 197.51h5.30v6.03h-5.30zM523.11 197.51h5.30v6.03h-5.30zM538.95 197.51h5.30v6.03h-5.30zM565.34 197.51h5.30v6.03h-5.30zM570.62 197.51h5.30v6.03h-5.30zM63.84 203.53h5.30v6.03h-5.30zM69.12 203.53h5.30v6.03h-5.30zM84.95 203.53h5.30v6.03h-5.30zM95.51 203.53h5.30v6.03h-5.30zM106.07 203.53h5.30v6.03h-5.30zM116.63 203.53h5.30v6.03h-5.30zM169.42 203.53h5.30v6.03h-5.30zM174.70 203.53h5.30v6.03h-5.30zM201.09 203.53h5.30v6.03h-5.30zM259.16 203.53h5.30v6.03h-5.30zM285.56 203.53h5.30v6.03h-5.30zM301.39 203.53h5.30v6.03h-5.30zM317.23 203.53h5.30v6.03h-5.30zM375.30 203.53h5.30v6.03h-5.30zM396.41 203.53h5.30v6.03h-5.30zM417.53 203.53h5.30v6.03h-5.30zM501.99 203.53h5.30v6.03h-5.30zM528.39 203.53h5.30v6.03h-5.30zM538.95 203.53h5.30v6.03h-5.30zM544.23 203.53h5.30v6.03h-5.30zM560.06 203.53h5.30v6.03h-5.30zM565.34 203.53h5.30v6.03h-5.30zM570.62 203.53h5.30v6.03h-5.30zM53.28 209.54h5.30v6.03h-5.30zM58.56 209.54h5.30v6.03h-5.30zM74.39 209.54h5.30v6.03h-5.30zM100.79 209.54h5.30v6.03h-5.30zM106.07 209.54h5.30v6.03h-5.30zM116.63 209.54h5.30v6.03h-5.30zM174.70 209.54h5.30v6.03h-5.30zM201.09 209.54h5.30v6.03h-5.30zM222.21 209.54h5.30v6.03h-5.30zM227.49 209.54h5.30v6.03h-5.30zM232.76 209.54h5.30v6.03h-5.30zM243.32 209.54h5.30v6.03h-5.30zM259.16 209.54h5.30v6.03h-5.30zM290.83 209.54h5.30v6.03h-5.30zM296.11 209.54h5.30v6.03h-5.30zM401.69 209.54h5.30v6.03h-5.30zM438.65 209.54h5.30v6.03h-5.30zM443.93 209.54h5.30v6.03h-5.30zM449.20 209.54h5.30v6.03h-5.30zM475.60 209.54h5.30v6.03h-5.30zM491.44 209.54h5.30v6.03h-5.30zM496.71 209.54h5.30v6.03h-5.30zM523.11 209.54h5.30v6.03h-5.30zM63.84 215.56h5.30v6.03h-5.30zM106.07 215.56h5.30v6.03h-5.30zM121.91 215.56h5.30v6.03h-5.30zM253.88 215.56h5.30v6.03h-5.30zM364.74 215.56h5.30v6.03h-5.30zM391.13 215.56h5.30v6.03h-5.30zM396.41 215.56h5.30v6.03h-5.30zM406.97 215.56h5.30v6.03h-5.30zM433.37 215.56h5.30v6.03h-5.30zM465.04 215.56h5.30v6.03h-5.30zM496.71 215.56h5.30v6.03h-5.30zM512.55 215.56h5.30v6.03h-5.30zM549.50 215.56h5.30v6.03h-5.30zM570.62 215.56h5.30v6.03h-5.30zM69.12 221.57h5.30v6.03h-5.30zM74.39 221.57h5.30v6.03h-5.30zM79.67 221.57h5.30v6.03h-5.30zM84.95 221.57h5.30v6.03h-5.30zM116.63 221.57h5.30v6.03h-5.30zM121.91 221.57h5.30v6.03h-5.30zM169.42 221.57h5.30v6.03h-5.30zM248.60 221.57h5.30v6.03h-5.30zM259.16 221.57h5.30v6.03h-5.30zM385.86 221.57h5.30v6.03h-5.30zM406.97 221.57h5.30v6.03h-5.30zM433.37 221.57h5.30v6.03h-5.30zM438.65 221.57h5.30v6.03h-5.30zM496.71 221.57h5.30v6.03h-5.30zM512.55 221.57h5.30v6.03h-5.30zM544.23 221.57h5.30v6.03h-5.30zM565.34 221.57h5.30v6.03h-5.30zM121.91 227.59h5.30v6.03h-5.30zM148.30 227.59h5.30v6.03h-5.30zM169.42 227.59h5.30v6.03h-5.30zM195.81 227.59h5.30v6.03h-5.30zM248.60 227.59h5.30v6.03h-5.30zM275.00 227.59h5.30v6.03h-5.30zM301.39 227.59h5.30v6.03h-5.30zM370.02 227.59h5.30v6.03h-5.30zM412.25 227.59h5.30v6.03h-5.30zM417.53 227.59h5.30v6.03h-5.30zM111.35 233.60h5.30v6.03h-5.30zM132.46 233.60h5.30v6.03h-5.30zM143.02 233.60h5.30v6.03h-5.30zM148.30 233.60h5.30v6.03h-5.30zM243.32 233.60h5.30v6.03h-5.30zM248.60 233.60h5.30v6.03h-5.30zM301.39 233.60h5.30v6.03h-5.30zM311.95 233.60h5.30v6.03h-5.30zM517.83 233.60h5.30v6.03h-5.30zM523.11 233.60h5.30v6.03h-5.30zM560.06 233.60h5.30v6.03h-5.30zM53.28 239.62h5.30v6.03h-5.30zM143.02 239.62h5.30v6.03h-5.30zM164.14 239.62h5.30v6.03h-5.30zM179.97 239.62h5.30v6.03h-5.30zM201.09 239.62h5.30v6.03h-5.30zM269.72 239.62h5.30v6.03h-5.30zM301.39 239.62h5.30v6.03h-5.30zM391.13 239.62h5.30v6.03h-5.30zM396.41 239.62h5.30v6.03h-5.30zM428.09 239.62h5.30v6.03h-5.30zM517.83 239.62h5.30v6.03h-5.30zM523.11 239.62h5.30v6.03h-5.30zM544.23 239.62h5.30v6.03h-5.30zM560.06 239.62h5.30v6.03h-5.30zM95.51 245.63h5.30v6.03h-5.30zM116.63 245.63h5.30v6.03h-5.30zM121.91 245.63h5.30v6.03h-5.30zM137.74 245.63h5.30v6.03h-5.30zM143.02 245.63h5.30v6.03h-5.30zM153.58 245.63h5.30v6.03h-5.30zM158.86 245.63h5.30v6.03h-5.30zM164.14 245.63h5.30v6.03h-5.30zM179.97 245.63h5.30v6.03h-5.30zM201.09 245.63h5.30v6.03h-5.30zM206.37 245.63h5.30v6.03h-5.30zM216.93 245.63h5.30v6.03h-5.30zM222.21 245.63h5.30v6.03h-5.30zM243.32 245.63h5.30v6.03h-5.30zM285.56 245.63h5.30v6.03h-5.30zM290.83 245.63h5.30v6.03h-5.30zM385.86 245.63h5.30v6.03h-5.30zM412.25 245.63h5.30v6.03h-5.30zM496.71 245.63h5.30v6.03h-5.30zM565.34 245.63h5.30v6.03h-5.30zM69.12 251.65h5.30v6.03h-5.30zM74.39 251.65h5.30v6.03h-5.30zM79.67 251.65h5.30v6.03h-5.30zM95.51 251.65h5.30v6.03h-5.30zM100.79 251.65h5.30v6.03h-5.30zM143.02 251.65h5.30v6.03h-5.30zM179.97 251.65h5.30v6.03h-5.30zM190.53 251.65h5.30v6.03h-5.30zM216.93 251.65h5.30v6.03h-5.30zM227.49 251.65h5.30v6.03h-5.30zM253.88 251.65h5.30v6.03h-5.30zM264.44 251.65h5.30v6.03h-5.30zM311.95 251.65h5.30v6.03h-5.30zM396.41 251.65h5.30v6.03h-5.30zM496.71 251.65h5.30v6.03h-5.30zM570.62 251.65h5.30v6.03h-5.30zM48.00 257.66h5.30v6.03h-5.30zM84.95 257.66h5.30v6.03h-5.30zM132.46 257.66h5.30v6.03h-5.30zM222.21 257.66h5.30v6.03h-5.30zM227.49 257.66h5.30v6.03h-5.30zM269.72 257.66h5.30v6.03h-5.30zM275.00 257.66h5.30v6.03h-5.30zM301.39 257.66h5.30v6.03h-5.30zM311.95 257.66h5.30v6.03h-5.30zM322.51 257.66h5.30v6.03h-5.30zM348.90 257.66h5.30v6.03h-5.30zM412.25 257.66h5.30v6.03h-5.30zM422.81 257.66h5.30v6.03h-5.30zM443.93 257.66h5.30v6.03h-5.30zM549.50 257.66h5.30v6.03h-5.30zM106.07 263.68h5.30v6.03h-5.30zM111.35 263.68h5.30v6.03h-5.30zM116.63 263.68h5.30v6.03h-5.30zM169.42 263.68h5.30v6.03h-5.30zM195.81 263.68h5.30v6.03h-5.30zM222.21 263.68h5.30v6.03h-5.30zM259.16 263.68h5.30v6.03h-5.30zM264.44 263.68h5.30v6.03h-5.30zM269.72 263.68h5.30v6.03h-5.30zM306.67 263.68h5.30v6.03h-5.30zM364.74 263.68h5.30v6.03h-5.30zM412.25 263.68h5.30v6.03h-5.30zM523.11 263.68h5.30v6.03h-5.30zM533.67 263.68h5.30v6.03h-5.30zM538.95 263.68h5.30v6.03h-5.30zM84.95 269.69h5.30v6.03h-5.30zM95.51 269.69h5.30v6.03h-5.30zM137.74 269.69h5.30v6.03h-5.30zM222.21 269.69h5.30v6.03h-5.30zM232.76 269.69h5.30v6.03h-5.30zM259.16 269.69h5.30v6.03h-5.30zM264.44 269.69h5.30v6.03h-5.30zM280.28 269.69h5.30v6.03h-5.30zM296.11 269.69h5.30v6.03h-5.30zM306.67 269.69h5.30v6.03h-5.30zM401.69 269.69h5.30v6.03h-5.30zM465.04 269.69h5.30v6.03h-5.30zM480.88 269.69h5.30v6.03h-5.30zM486.16 269.69h5.30v6.03h-5.30zM164.14 275.71h5.30v6.03h-5.30zM201.09 275.71h5.30v6.03h-5.30zM264.44 275.71h5.30v6.03h-5.30zM280.28 275.71h5.30v6.03h-5.30zM327.79 275.71h5.30v6.03h-5.30zM459.76 275.71h5.30v6.03h-5.30zM465.04 275.71h5.30v6.03h-5.30zM475.60 275.71h5.30v6.03h-5.30zM486.16 275.71h5.30v6.03h-5.30zM48.00 281.72h5.30v6.03h-5.30zM95.51 281.72h5.30v6.03h-5.30zM106.07 281.72h5.30v6.03h-5.30zM137.74 281.72h5.30v6.03h-5.30zM148.30 281.72h5.30v6.03h-5.30zM158.86 281.72h5.30v6.03h-5.30zM179.97 281.72h5.30v6.03h-5.30zM185.25 281.72h5.30v6.03h-5.30zM201.09 281.72h5.30v6.03h-5.30zM238.04 281.72h5.30v6.03h-5.30zM264.44 281.72h5.30v6.03h-5.30zM306.67 281.72h5.30v6.03h-5.30zM311.95 281.72h5.30v6.03h-5.30zM333.07 281.72h5.30v6.03h-5.30zM338.34 281.72h5.30v6.03h-5.30zM375.30 281.72h5.30v6.03h-5.30zM380.58 281.72h5.30v6.03h-5.30zM549.50 281.72h5.30v6.03h-5.30zM560.06 281.72h5.30v6.03h-5.30zM127.19 287.74h5.30v6.03h-5.30zM164.14 287.74h5.30v6.03h-5.30zM169.42 287.74h5.30v6.03h-5.30zM259.16 287.74h5.30v6.03h-5.30zM275.00 287.74h5.30v6.03h-5.30zM306.67 287.74h5.30v6.03h-5.30zM327.79 287.74h5.30v6.03h-5.30zM380.58 287.74h5.30v6.03h-5.30zM422.81 287.74h5.30v6.03h-5.30zM491.44 287.74h5.30v6.03h-5.30zM53.28 293.75h5.30v6.03h-5.30zM74.39 293.75h5.30v6.03h-5.30zM106.07 293.75h5.30v6.03h-5.30zM222.21 293.75h5.30v6.03h-5.30zM259.16 293.75h5.30v6.03h-5.30zM290.83 293.75h5.30v6.03h-5.30zM306.67 293.75h5.30v6.03h-5.30zM370.02 293.75h5.30v6.03h-5.30zM459.76 293.75h5.30v6.03h-5.30zM465.04 293.75h5.30v6.03h-5.30zM570.62 293.75h5.30v6.03h-5.30zM95.51 299.77h5.30v6.03h-5.30zM116.63 299.77h5.30v6.03h-5.30zM143.02 299.77h5.30v6.03h-5.30zM201.09 299.77h5.30v6.03h-5.30zM222.21 299.77h5.30v6.03h-5.30zM227.49 299.77h5.30v6.03h-5.30zM259.16 299.77h5.30v6.03h-5.30zM285.56 299.77h5.30v6.03h-5.30zM290.83 299.77h5.30v6.03h-5.30zM306.67 299.77h5.30v6.03h-5.30zM385.86 299.77h5.30v6.03h-5.30zM465.04 299.77h5.30v6.03h-5.30zM517.83 299.77h5.30v6.03h-5.30zM48.00 305.78h5.30v6.03h-5.30zM69.12 305.78h5.30v6.03h-5.30zM95.51 305.78h5.30v6.03h-5.30zM132.46 305.78h5.30v6.03h-5.30zM148.30 305.78h5.30v6.03h-5.30zM185.25 305.78h5.30v6.03h-5.30zM190.53 305.78h5.30v6.03h-5.30zM195.81 305.78h5.30v6.03h-5.30zM201.09 305.78h5.30v6.03h-5.30zM269.72 305.78h5.30v6.03h-5.30zM285.56 305.78h5.30v6.03h-5.30zM290.83 305.78h5.30v6.03h-5.30zM301.39 305.78h5.30v6.03h-5.30zM306.67 305.78h5.30v6.03h-5.30zM327.79 305.78h5.30v6.03h-5.30zM364.74 305.78h5.30v6.03h-5.30zM375.30 305.78h5.30v6.03h-5.30zM153.58 311.80h5.30v6.03h-5.30zM185.25 311.80h5.30v6.03h-5.30zM211.65 311.80h5.30v6.03h-5.30zM238.04 311.80h5.30v6.03h-5.30zM253.88 311.80h5.30v6.03h-5.30zM296.11 311.80h5.30v6.03h-5.30zM301.39 311.80h5.30v6.03h-5.30zM306.67 311.80h5.30v6.03h-5.30zM322.51 311.80h5.30v6.03h-5.30zM385.86 311.80h5.30v6.03h-5.30zM412.25 311.80h5.30v6.03h-5.30zM449.20 311.80h5.30v6.03h-5.30zM58.56 317.81h5.30v6.03h-5.30zM84.95 317.81h5.30v6.03h-5.30zM90.23 317.81h5.30v6.03h-5.30zM95.51 317.81h5.30v6.03h-5.30zM121.91 317.81h5.30v6.03h-5.30zM132.46 317.81h5.30v6.03h-5.30zM137.74 317.81h5.30v6.03h-5.30zM148.30 317.81h5.30v6.03h-5.30zM158.86 317.81h5.30v6.03h-5.30zM201.09 317.81h5.30v6.03h-5.30zM216.93 317.81h5.30v6.03h-5.30zM222.21 317.81h5.30v6.03h-5.30zM227.49 317.81h5.30v6.03h-5.30zM238.04 317.81h5.30v6.03h-5.30zM248.60 317.81h5.30v6.03h-5.30zM285.56 317.81h5.30v6.03h-5.30zM296.11 317.81h5.30v6.03h-5.30zM322.51 317.81h5.30v6.03h-5.30zM375.30 317.81h5.30v6.03h-5.30zM380.58 317.81h5.30v6.03h-5.30zM179.97 323.83h5.30v6.03h-5.30zM185.25 323.83h5.30v6.03h-5.30zM201.09 323.83h5.30v6.03h-5.30zM222.21 323.83h5.30v6.03h-5.30zM269.72 323.83h5.30v6.03h-5.30zM280.28 323.83h5.30v6.03h-5.30zM359.46 323.83h5.30v6.03h-5.30zM375.30 323.83h5.30v6.03h-5.30zM428.09 323.83h5.30v6.03h-5.30zM449.20 323.83h5.30v6.03h-5.30zM512.55 323.83h5.30v6.03h-5.30zM517.83 323.83h5.30v6.03h-5.30zM544.23 323.83h5.30v6.03h-5.30zM560.06 323.83h5.30v6.03h-5.30zM53.28 329.84h5.30v6.03h-5.30zM69.12 329.84h5.30v6.03h-5.30zM84.95 329.84h5.30v6.03h-5.30zM116.63 329.84h5.30v6.03h-5.30zM153.58 329.84h5.30v6.03h-5.30zM179.97 329.84h5.30v6.03h-5.30zM185.25 329.84h5.30v6.03h-5.30zM201.09 329.84h5.30v6.03h-5.30zM222.21 329.84h5.30v6.03h-5.30zM238.04 329.84h5.30v6.03h-5.30zM428.09 329.84h5.30v6.03h-5.30zM565.34 329.84h5.30v6.03h-5.30zM570.62 329.84h5.30v6.03h-5.30zM63.84 335.86h5.30v6.03h-5.30zM84.95 335.86h5.30v6.03h-5.30zM132.46 335.86h5.30v6.03h-5.30zM148.30 335.86h5.30v6.03h-5.30zM164.14 335.86h5.30v6.03h-5.30zM201.09 335.86h5.30v6.03h-5.30zM222.21 335.86h5.30v6.03h-5.30zM285.56 335.86h5.30v6.03h-5.30zM301.39 335.86h5.30v6.03h-5.30zM306.67 335.86h5.30v6.03h-5.30zM317.23 335.86h5.30v6.03h-5.30zM322.51 335.86h5.30v6.03h-5.30zM354.18 335.86h5.30v6.03h-5.30zM364.74 335.86h5.30v6.03h-5.30zM375.30 335.86h5.30v6.03h-5.30zM428.09 335.86h5.30v6.03h-5.30zM486.16 335.86h5.30v6.03h-5.30zM48.00 341.87h5.30v6.03h-5.30zM53.28 341.87h5.30v6.03h-5.30zM100.79 341.87h5.30v6.03h-5.30zM137.74 341.87h5.30v6.03h-5.30zM185.25 341.87h5.30v6.03h-5.30zM227.49 341.87h5.30v6.03h-5.30zM238.04 341.87h5.30v6.03h-5.30zM259.16 341.87h5.30v6.03h-5.30zM264.44 341.87h5.30v6.03h-5.30zM269.72 341.87h5.30v6.03h-5.30zM322.51 341.87h5.30v6.03h-5.30zM333.07 341.87h5.30v6.03h-5.30zM364.74 341.87h5.30v6.03h-5.30zM454.48 341.87h5.30v6.03h-5.30zM512.55 341.87h5.30v6.03h-5.30zM549.50 341.87h5.30v6.03h-5.30zM560.06 341.87h5.30v6.03h-5.30zM565.34 341.87h5.30v6.03h-5.30zM63.84 347.89h5.30v6.03h-5.30zM95.51 347.89h5.30v6.03h-5.30zM116.63 347.89h5.30v6.03h-5.30zM185.25 347.89h5.30v6.03h-5.30zM227.49 347.89h5.30v6.03h-5.30zM259.16 347.89h5.30v6.03h-5.30zM264.44 347.89h5.30v6.03h-5.30zM290.83 347.89h5.30v6.03h-5.30zM317.23 347.89h5.30v6.03h-5.30zM322.51 347.89h5.30v6.03h-5.30zM364.74 347.89h5.30v6.03h-5.30zM375.30 347.89h5.30v6.03h-5.30zM433.37 347.89h5.30v6.03h-5.30zM449.20 347.89h5.30v6.03h-5.30zM533.67 347.89h5.30v6.03h-5.30zM549.50 347.89h5.30v6.03h-5.30z"/>
<path fill="#b51657" d="M69.12 71.20h5.30v6.03h-5.30zM74.39 71.20h5.30v6.03h-5.30zM116.63 71.20h5.30v6.03h-5.30zM158.86 71.20h5.30v6.03h-5.30zM280.28 71.20h5.30v6.03h-5.30zM306.67 71.20h5.30v6.03h-5.30zM311.95 71.20h5.30v6.03h-5.30zM364.74 71.20h5.30v6.03h-5.30zM475.60 71.20h5.30v6.03h-5.30zM116.63 77.21h5.30v6.03h-5.30zM174.70 77.21h5.30v6.03h-5.30zM206.37 77.21h5.30v6.03h-5.30zM232.76 77.21h5.30v6.03h-5.30zM259.16 77.21h5.30v6.03h-5.30zM343.62 77.21h5.30v6.03h-5.30zM380.58 77.21h5.30v6.03h-5.30zM385.86 77.21h5.30v6.03h-5.30zM417.53 77.21h5.30v6.03h-5.30zM496.71 77.21h5.30v6.03h-5.30zM570.62 77.21h5.30v6.03h-5.30zM53.28 83.23h5.30v6.03h-5.30zM58.56 83.23h5.30v6.03h-5.30zM90.23 83.23h5.30v6.03h-5.30zM116.63 83.23h5.30v6.03h-5.30zM238.04 83.23h5.30v6.03h-5.30zM243.32 83.23h5.30v6.03h-5.30zM248.60 83.23h5.30v6.03h-5.30zM290.83 83.23h5.30v6.03h-5.30zM311.95 83.23h5.30v6.03h-5.30zM375.30 83.23h5.30v6.03h-5.30zM560.06 83.23h5.30v6.03h-5.30zM48.00 89.24h5.30v6.03h-5.30zM58.56 89.24h5.30v6.03h-5.30zM100.79 89.24h5.30v6.03h-5.30zM116.63 89.24h5.30v6.03h-5.30zM143.02 89.24h5.30v6.03h-5.30zM201.09 89.24h5.30v6.03h-5.30zM216.93 89.24h5.30v6.03h-5.30zM333.07 89.24h5.30v6.03h-5.30zM338.34 89.24h5.30v6.03h-5.30zM454.48 89.24h5.30v6.03h-5.30zM465.04 89.24h5.30v6.03h-5.30zM74.39 95.26h5.30v6.03h-5.30zM121.91 95.26h5.30v6.03h-5.30zM216.93 95.26h5.30v6.03h-5.30zM238.04 95.26h5.30v6.03h-5.30zM275.00 95.26h5.30v6.03h-5.30zM412.25 95.26h5.30v6.03h-5.30zM417.53 95.26h5.30v6.03h-5.30zM480.88 95.26h5.30v6.03h-5.30zM496.71 95.26h5.30v6.03h-5.30zM90.23 101.27h5.30v6.03h-5.30zM95.51 101.27h5.30v6.03h-5.30zM148.30 101.27h5.30v6.03h-5.30zM206.37 101.27h5.30v6.03h-5.30zM222.21 101.27h5.30v6.03h-5.30zM227.49 101.27h5.30v6.03h-5.30zM253.88 101.27h5.30v6.03h-5.30zM465.04 101.27h5.30v6.03h-5.30zM480.88 101.27h5.30v6.03h-5.30zM496.71 101.27h5.30v6.03h-5.30zM538.95 101.27h5.30v6.03h-5.30zM348.90 107.29h5.30v6.03h-5.30zM496.71 107.29h5.30v6.03h-5.30zM63.84 113.30h5.30v6.03h-5.30zM79.67 113.30h5.30v6.03h-5.30zM174.70 113.30h5.30v6.03h-5.30zM396.41 113.30h5.30v6.03h-5.30zM459.76 113.30h5.30v6.03h-5.30zM528.39 113.30h5.30v6.03h-5.30zM544.23 113.30h5.30v6.03h-5.30zM48.00 119.32h5.30v6.03h-5.30zM53.28 119.32h5.30v6.03h-5.30zM84.95 119.32h5.30v6.03h-5.30zM116.63 119.32h5.30v6.03h-5.30zM311.95 119.32h5.30v6.03h-5.30zM396.41 119.32h5.30v6.03h-5.30zM465.04 119.32h5.30v6.03h-5.30zM523.11 119.32h5.30v6.03h-5.30zM544.23 119.32h5.30v6.03h-5.30zM84.95 125.33h5.30v6.03h-5.30zM190.53 125.33h5.30v6.03h-5.30zM195.81 125.33h5.30v6.03h-5.30zM227.49 125.33h5.30v6.03h-5.30zM259.16 125.33h5.30v6.03h-5.30zM333.07 125.33h5.30v6.03h-5.30zM486.16 125.33h5.30v6.03h-5.30zM79.67 131.35h5.30v6.03h-5.30zM132.46 131.35h5.30v6.03h-5.30zM137.74 131.35h5.30v6.03h-5.30zM169.42 131.35h5.30v6.03h-5.30zM264.44 131.35h5.30v6.03h-5.30zM322.51 131.35h5.30v6.03h-5.30zM364.74 131.35h5.30v6.03h-5.30zM475.60 131.35h5.30v6.03h-5.30zM480.88 131.35h5.30v6.03h-5.30zM533.67 131.35h5.30v6.03h-5.30zM570.62 131.35h5.30v6.03h-5.30zM69.12 137.36h5.30v6.03h-5.30zM84.95 137.36h5.30v6.03h-5.30zM90.23 137.36h5.30v6.03h-5.30zM95.51 137.36h5.30v6.03h-5.30zM100.79 137.36h5.30v6.03h-5.30zM121.91 137.36h5.30v6.03h-5.30zM164.14 137.36h5.30v6.03h-5.30zM195.81 137.36h5.30v6.03h-5.30zM290.83 137.36h5.30v6.03h-5.30zM311.95 137.36h5.30v6.03h-5.30zM322.51 137.36h5.30v6.03h-5.30zM396.41 137.36h5.30v6.03h-5.30zM401.69 137.36h5.30v6.03h-5.30zM412.25 137.36h5.30v6.03h-5.30zM90.23 143.38h5.30v6.03h-5.30zM169.42 143.38h5.30v6.03h-5.30zM243.32 143.38h5.30v6.03h-5.30zM301.39 143.38h5.30v6.03h-5.30zM507.27 143.38h5.30v6.03h-5.30zM517.83 143.38h5.30v6.03h-5.30zM549.50 143.38h5.30v6.03h-5.30zM53.28 149.39h5.30v6.03h-5.30zM116.63 149.39h5.30v6.03h-5.30zM121.91 149.39h5.30v6.03h-5.30zM185.25 149.39h5.30v6.03h-5.30zM195.81 149.39h5.30v6.03h-5.30zM201.09 149.39h5.30v6.03h-5.30zM222.21 149.39h5.30v6.03h-5.30zM253.88 149.39h5.30v6.03h-5.30zM269.72 149.39h5.30v6.03h-5.30zM370.02 149.39h5.30v6.03h-5.30zM391.13 149.39h5.30v6.03h-5.30zM417.53 149.39h5.30v6.03h-5.30zM433.37 149.39h5.30v6.03h-5.30zM501.99 149.39h5.30v6.03h-5.30zM100.79 155.41h5.30v6.03h-5.30zM222.21 155.41h5.30v6.03h-5.30zM338.34 155.41h5.30v6.03h-5.30zM412.25 155.41h5.30v6.03h-5.30zM438.65 155.41h5.30v6.03h-5.30zM523.11 155.41h5.30v6.03h-5.30zM63.84 161.42h5.30v6.03h-5.30zM90.23 161.42h5.30v6.03h-5.30zM95.51 161.42h5.30v6.03h-5.30zM164.14 161.42h5.30v6.03h-5.30zM179.97 161.42h5.30v6.03h-5.30zM311.95 161.42h5.30v6.03h-5.30zM406.97 161.42h5.30v6.03h-5.30zM412.25 161.42h5.30v6.03h-5.30zM501.99 161.42h5.30v6.03h-5.30zM523.11 161.42h5.30v6.03h-5.30zM560.06 161.42h5.30v6.03h-5.30zM53.28 167.44h5.30v6.03h-5.30zM174.70 167.44h5.30v6.03h-5.30zM222.21 167.44h5.30v6.03h-5.30zM269.72 167.44h5.30v6.03h-5.30zM406.97 167.44h5.30v6.03h-5.30zM412.25 167.44h5.30v6.03h-5.30zM48.00 173.45h5.30v6.03h-5.30zM116.63 173.45h5.30v6.03h-5.30zM132.46 173.45h5.30v6.03h-5.30zM174.70 173.45h5.30v6.03h-5.30zM259.16 173.45h5.30v6.03h-5.30zM290.83 173.45h5.30v6.03h-5.30zM391.13 173.45h5.30v6.03h-5.30zM422.81 173.45h5.30v6.03h-5.30zM433.37 173.45h5.30v6.03h-5.30zM438.65 173.45h5.30v6.03h-5.30zM443.93 173.45h5.30v6.03h-5.30zM470.32 173.45h5.30v6.03h-5.30zM501.99 173.45h5.30v6.03h-5.30zM523.11 173.45h5.30v6.03h-5.30zM79.67 179.47h5.30v6.03h-5.30zM95.51 179.47h5.30v6.03h-5.30zM127.19 179.47h5.30v6.03h-5.30zM143.02 179.47h5.30v6.03h-5.30zM238.04 179.47h5.30v6.03h-5.30zM264.44 179.47h5.30v6.03h-5.30zM443.93 179.47h5.30v6.03h-5.30zM549.50 179.47h5.30v6.03h-5.30zM560.06 179.47h5.30v6.03h-5.30zM74.39 185.48h5.30v6.03h-5.30zM111.35 185.48h5.30v6.03h-5.30zM116.63 185.48h5.30v6.03h-5.30zM132.46 185.48h5.30v6.03h-5.30zM201.09 185.48h5.30v6.03h-5.30zM216.93 185.48h5.30v6.03h-5.30zM290.83 185.48h5.30v6.03h-5.30zM412.25 185.48h5.30v6.03h-5.30zM417.53 185.48h5.30v6.03h-5.30zM512.55 185.48h5.30v6.03h-5.30zM565.34 185.48h5.30v6.03h-5.30zM111.35 191.50h5.30v6.03h-5.30zM121.91 191.50h5.30v6.03h-5.30zM148.30 191.50h5.30v6.03h-5.30zM306.67 191.50h5.30v6.03h-5.30zM317.23 191.50h5.30v6.03h-5.30zM348.90 191.50h5.30v6.03h-5.30zM533.67 191.50h5.30v6.03h-5.30zM570.62 191.50h5.30v6.03h-5.30zM53.28 197.51h5.30v6.03h-5.30zM79.67 197.51h5.30v6.03h-5.30zM449.20 197.51h5.30v6.03h-5.30zM501.99 197.51h5.30v6.03h-5.30zM507.27 197.51h5.30v6.03h-5.30zM533.67 197.51h5.30v6.03h-5.30zM544.23 197.51h5.30v6.03h-5.30zM560.06 197.51h5.30v6.03h-5.30zM143.02 203.53h5.30v6.03h-5.30zM253.88 203.53h5.30v6.03h-5.30zM322.51 203.53h5.30v6.03h-5.30zM380.58 203.53h5.30v6.03h-5.30zM406.97 203.53h5.30v6.03h-5.30zM412.25 203.53h5.30v6.03h-5.30zM48.00 209.54h5.30v6.03h-5.30zM95.51 209.54h5.30v6.03h-5.30zM280.28 209.54h5.30v6.03h-5.30zM385.86 209.54h5.30v6.03h-5.30zM480.88 209.54h5.30v6.03h-5.30zM554.78 209.54h5.30v6.03h-5.30zM69.12 215.56h5.30v6.03h-5.30zM148.30 215.56h5.30v6.03h-5.30zM190.53 215.56h5.30v6.03h-5.30zM248.60 215.56h5.30v6.03h-5.30zM354.18 215.56h5.30v6.03h-5.30zM370.02 215.56h5.30v6.03h-5.30zM385.86 215.56h5.30v6.03h-5.30zM523.11 215.56h5.30v6.03h-5.30zM554.78 215.56h5.30v6.03h-5.30zM222.21 221.57h5.30v6.03h-5.30zM296.11 221.57h5.30v6.03h-5.30zM517.83 221.57h5.30v6.03h-5.30zM533.67 221.57h5.30v6.03h-5.30zM554.78 221.57h5.30v6.03h-5.30zM63.84 227.59h5.30v6.03h-5.30zM69.12 227.59h5.30v6.03h-5.30zM79.67 227.59h5.30v6.03h-5.30zM90.23 227.59h5.30v6.03h-5.30zM95.51 227.59h5.30v6.03h-5.30zM116.63 227.59h5.30v6.03h-5.30zM401.69 227.59h5.30v6.03h-5.30zM406.97 227.59h5.30v6.03h-5.30zM533.67 227.59h5.30v6.03h-5.30zM565.34 227.59h5.30v6.03h-5.30zM53.28 233.60h5.30v6.03h-5.30zM63.84 233.60h5.30v6.03h-5.30zM169.42 233.60h5.30v6.03h-5.30zM174.70 233.60h5.30v6.03h-5.30zM206.37 233.60h5.30v6.03h-5.30zM238.04 233.60h5.30v6.03h-5.30zM401.69 233.60h5.30v6.03h-5.30zM422.81 233.60h5.30v6.03h-5.30zM116.63 239.62h5.30v6.03h-5.30zM380.58 239.62h5.30v6.03h-5.30zM401.69 239.62h5.30v6.03h-5.30zM422.81 239.62h5.30v6.03h-5.30zM449.20 239.62h5.30v6.03h-5.30zM79.67 245.63h5.30v6.03h-5.30zM211.65 245.63h5.30v6.03h-5.30zM259.16 245.63h5.30v6.03h-5.30zM264.44 245.63h5.30v6.03h-5.30zM275.00 245.63h5.30v6.03h-5.30zM370.02 245.63h5.30v6.03h-5.30zM401.69 245.63h5.30v6.03h-5.30zM570.62 245.63h5.30v6.03h-5.30zM121.91 251.65h5.30v6.03h-5.30zM132.46 251.65h5.30v6.03h-5.30zM391.13 251.65h5.30v6.03h-5.30zM406.97 251.65h5.30v6.03h-5.30zM443.93 251.65h5.30v6.03h-5.30zM512.55 251.65h5.30v6.03h-5.30zM523.11 251.65h5.30v6.03h-5.30zM549.50 251.65h5.30v6.03h-5.30zM201.09 257.66h5.30v6.03h-5.30zM206.37 257.66h5.30v6.03h-5.30zM248.60 257.66h5.30v6.03h-5.30zM306.67 257.66h5.30v6.03h-5.30zM327.79 257.66h5.30v6.03h-5.30zM333.07 257.66h5.30v6.03h-5.30zM523.11 257.66h5.30v6.03h-5.30zM565.34 257.66h5.30v6.03h-5.30zM570.62 257.66h5.30v6.03h-5.30zM79.67 263.68h5.30v6.03h-5.30zM238.04 263.68h5.30v6.03h-5.30zM275.00 263.68h5.30v6.03h-5.30zM285.56 263.68h5.30v6.03h-5.30zM401.69 263.68h5.30v6.03h-5.30zM517.83 263.68h5.30v6.03h-5.30zM565.34 263.68h5.30v6.03h-5.30zM63.84 269.69h5.30v6.03h-5.30zM206.37 269.69h5.30v6.03h-5.30zM322.51 269.69h5.30v6.03h-5.30zM385.86 269.69h5.30v6.03h-5.30zM406.97 269.69h5.30v6.03h-5.30zM417.53 269.69h5.30v6.03h-5.30zM454.48 269.69h5.30v6.03h-5.30zM496.71 269.69h5.30v6.03h-5.30zM501.99 269.69h5.30v6.03h-5.30zM79.67 275.71h5.30v6.03h-5.30zM84.95 275.71h5.30v6.03h-5.30zM190.53 275.71h5.30v6.03h-5.30zM364.74 275.71h5.30v6.03h-5.30zM517.83 275.71h5.30v6.03h-5.30zM69.12 281.72h5.30v6.03h-5.30zM90.23 281.72h5.30v6.03h-5.30zM127.19 281.72h5.30v6.03h-5.30zM153.58 281.72h5.30v6.03h-5.30zM222.21 281.72h5.30v6.03h-5.30zM290.83 281.72h5.30v6.03h-5.30zM317.23 281.72h5.30v6.03h-5.30zM364.74 281.72h5.30v6.03h-5.30zM385.86 281.72h5.30v6.03h-5.30zM417.53 281.72h5.30v6.03h-5.30zM565.34 281.72h5.30v6.03h-5.30zM84.95 287.74h5.30v6.03h-5.30zM95.51 287.74h5.30v6.03h-5.30zM137.74 287.74h5.30v6.03h-5.30zM211.65 287.74h5.30v6.03h-5.30zM227.49 287.74h5.30v6.03h-5.30zM269.72 287.74h5.30v6.03h-5.30zM317.23 287.74h5.30v6.03h-5.30zM333.07 287.74h5.30v6.03h-5.30zM348.90 287.74h5.30v6.03h-5.30zM354.18 287.74h5.30v6.03h-5.30zM364.74 287.74h5.30v6.03h-5.30zM475.60 287.74h5.30v6.03h-5.30zM517.83 287.74h5.30v6.03h-5.30zM544.23 287.74h5.30v6.03h-5.30zM570.62 287.74h5.30v6.03h-5.30zM48.00 293.75h5.30v6.03h-5.30zM69.12 293.75h5.30v6.03h-5.30zM90.23 293.75h5.30v6.03h-5.30zM95.51 293.75h5.30v6.03h-5.30zM143.02 293.75h5.30v6.03h-5.30zM148.30 293.75h5.30v6.03h-5.30zM174.70 293.75h5.30v6.03h-5.30zM544.23 293.75h5.30v6.03h-5.30zM554.78 293.75h5.30v6.03h-5.30zM48.00 299.77h5.30v6.03h-5.30zM132.46 299.77h5.30v6.03h-5.30zM148.30 299.77h5.30v6.03h-5.30zM190.53 299.77h5.30v6.03h-5.30zM248.60 299.77h5.30v6.03h-5.30zM280.28 299.77h5.30v6.03h-5.30zM396.41 299.77h5.30v6.03h-5.30zM454.48 299.77h5.30v6.03h-5.30zM491.44 299.77h5.30v6.03h-5.30zM507.27 299.77h5.30v6.03h-5.30zM570.62 299.77h5.30v6.03h-5.30zM79.67 305.78h5.30v6.03h-5.30zM106.07 305.78h5.30v6.03h-5.30zM137.74 305.78h5.30v6.03h-5.30zM222.21 305.78h5.30v6.03h-5.30zM396.41 305.78h5.30v6.03h-5.30zM417.53 305.78h5.30v6.03h-5.30zM449.20 305.78h5.30v6.03h-5.30zM459.76 305.78h5.30v6.03h-5.30zM549.50 305.78h5.30v6.03h-5.30zM116.63 311.80h5.30v6.03h-5.30zM127.19 311.80h5.30v6.03h-5.30zM158.86 311.80h5.30v6.03h-5.30zM164.14 311.80h5.30v6.03h-5.30zM370.02 311.80h5.30v6.03h-5.30zM396.41 311.80h5.30v6.03h-5.30zM475.60 311.80h5.30v6.03h-5.30zM523.11 311.80h5.30v6.03h-5.30zM533.67 311.80h5.30v6.03h-5.30zM560.06 311.80h5.30v6.03h-5.30zM570.62 311.80h5.30v6.03h-5.30zM69.12 317.81h5.30v6.03h-5.30zM79.67 317.81h5.30v6.03h-5.30zM106.07 317.81h5.30v6.03h-5.30zM206.37 317.81h5.30v6.03h-5.30zM211.65 317.81h5.30v6.03h-5.30zM269.72 317.81h5.30v6.03h-5.30zM290.83 317.81h5.30v6.03h-5.30zM317.23 317.81h5.30v6.03h-5.30zM327.79 317.81h5.30v6.03h-5.30zM570.62 317.81h5.30v6.03h-5.30zM69.12 323.83h5.30v6.03h-5.30zM317.23 323.83h5.30v6.03h-5.30zM528.39 323.83h5.30v6.03h-5.30zM121.91 329.84h5.30v6.03h-5.30zM132.46 329.84h5.30v6.03h-5.30zM143.02 329.84h5.30v6.03h-5.30zM280.28 329.84h5.30v6.03h-5.30zM449.20 329.84h5.30v6.03h-5.30zM48.00 335.86h5.30v6.03h-5.30zM95.51 335.86h5.30v6.03h-5.30zM195.81 335.86h5.30v6.03h-5.30zM227.49 335.86h5.30v6.03h-5.30zM248.60 335.86h5.30v6.03h-5.30zM264.44 335.86h5.30v6.03h-5.30zM280.28 335.86h5.30v6.03h-5.30zM327.79 335.86h5.30v6.03h-5.30zM338.34 335.86h5.30v6.03h-5.30zM385.86 335.86h5.30v6.03h-5.30zM465.04 335.86h5.30v6.03h-5.30zM475.60 335.86h5.30v6.03h-5.30zM523.11 335.86h5.30v6.03h-5.30zM69.12 341.87h5.30v6.03h-5.30zM84.95 341.87h5.30v6.03h-5.30zM116.63 341.87h5.30v6.03h-5.30zM158.86 341.87h5.30v6.03h-5.30zM354.18 341.87h5.30v6.03h-5.30zM465.04 341.87h5.30v6.03h-5.30zM517.83 341.87h5.30v6.03h-5.30zM544.23 341.87h5.30v6.03h-5.30zM48.00 347.89h5.30v6.03h-5.30zM53.28 347.89h5.30v6.03h-5.30zM164.14 347.89h5.30v6.03h-5.30zM301.39 347.89h5.30v6.03h-5.30zM422.81 347.89h5.30v6.03h-5.30zM428.09 347.89h5.30v6.03h-5.30zM465.04 347.89h5.30v6.03h-5.30zM517.83 347.89h5.30v6.03h-5.30zM544.23 347.89h5.30v6.03h-5.30z"/>
<path fill="#ce1d4e" d="M106.07 71.20h5.30v6.03h-5.30zM121.91 71.20h5.30v6.03h-5.30zM127.19 71.20h5.30v6.03h-5.30zM148.30 71.20h5.30v6.03h-5.30zM153.58 71.20h5.30v6.03h-5.30zM211.65 71.20h5.30v6.03h-5.30zM338.34 71.20h5.30v6.03h-5.30zM375.30 71.20h5.30v6.03h-5.30zM428.09 71.20h5.30v6.03h-5.30zM465.04 71.20h5.30v6.03h-5.30zM496.71 71.20h5.30v6.03h-5.30zM512.55 71.20h5.30v6.03h-5.30zM565.34 71.20h5.30v6.03h-5.30zM69.12 77.21h5.30v6.03h-5.30zM74.39 77.21h5.30v6.03h-5.30zM90.23 77.21h5.30v6.03h-5.30zM95.51 77.21h5.30v6.03h-5.30zM153.58 77.21h5.30v6.03h-5.30zM158.86 77.21h5.30v6.03h-5.30zM216.93 77.21h5.30v6.03h-5.30zM296.11 77.21h5.30v6.03h-5.30zM301.39 77.21h5.30v6.03h-5.30zM306.67 77.21h5.30v6.03h-5.30zM348.90 77.21h5.30v6.03h-5.30zM364.74 77.21h5.30v6.03h-5.30zM449.20 77.21h5.30v6.03h-5.30zM480.88 77.21h5.30v6.03h-5.30zM523.11 77.21h5.30v6.03h-5.30zM538.95 77.21h5.30v6.03h-5.30zM549.50 77.21h5.30v6.03h-5.30zM48.00 83.23h5.30v6.03h-5.30zM106.07 83.23h5.30v6.03h-5.30zM179.97 83.23h5.30v6.03h-5.30zM211.65 83.23h5.30v6.03h-5.30zM259.16 83.23h5.30v6.03h-5.30zM275.00 83.23h5.30v6.03h-5.30zM296.11 83.23h5.30v6.03h-5.30zM301.39 83.23h5.30v6.03h-5.30zM327.79 83.23h5.30v6.03h-5.30zM391.13 83.23h5.30v6.03h-5.30zM422.81 83.23h5.30v6.03h-5.30zM496.71 83.23h5.30v6.03h-5.30zM507.27 83.23h5.30v6.03h-5.30zM549.50 83.23h5.30v6.03h-5.30zM84.95 89.24h5.30v6.03h-5.30zM132.46 89.24h5.30v6.03h-5.30zM174.70 89.24h5.30v6.03h-5.30zM195.81 89.24h5.30v6.03h-5.30zM232.76 89.24h5.30v6.03h-5.30zM259.16 89.24h5.30v6.03h-5.30zM311.95 89.24h5.30v6.03h-5.30zM406.97 89.24h5.30v6.03h-5.30zM507.27 89.24h5.30v6.03h-5.30zM528.39 89.24h5.30v6.03h-5.30zM560.06 89.24h5.30v6.03h-5.30zM100.79 95.26h5.30v6.03h-5.30zM132.46 95.26h5.30v6.03h-5.30zM169.42 95.26h5.30v6.03h-5.30zM174.70 95.26h5.30v6.03h-5.30zM190.53 95.26h5.30v6.03h-5.30zM195.81 95.26h5.30v6.03h-5.30zM201.09 95.26h5.30v6.03h-5.30zM227.49 95.26h5.30v6.03h-5.30zM290.83 95.26h5.30v6.03h-5.30zM311.95 95.26h5.30v6.03h-5.30zM343.62 95.26h5.30v6.03h-5.30zM391.13 95.26h5.30v6.03h-5.30zM443.93 95.26h5.30v6.03h-5.30zM449.20 95.26h5.30v6.03h-5.30zM454.48 95.26h5.30v6.03h-5.30zM459.76 95.26h5.30v6.03h-5.30zM465.04 95.26h5.30v6.03h-5.30zM491.44 95.26h5.30v6.03h-5.30zM507.27 95.26h5.30v6.03h-5.30zM528.39 95.26h5.30v6.03h-5.30zM533.67 95.26h5.30v6.03h-5.30zM538.95 95.26h5.30v6.03h-5.30zM549.50 95.26h5.30v6.03h-5.30zM570.62 95.26h5.30v6.03h-5.30zM79.67 101.27h5.30v6.03h-5.30zM111.35 101.27h5.30v6.03h-5.30zM174.70 101.27h5.30v6.03h-5.30zM179.97 101.27h5.30v6.03h-5.30zM201.09 101.27h5.30v6.03h-5.30zM275.00 101.27h5.30v6.03h-5.30zM333.07 101.27h5.30v6.03h-5.30zM380.58 101.27h5.30v6.03h-5.30zM422.81 101.27h5.30v6.03h-5.30zM512.55 101.27h5.30v6.03h-5.30zM533.67 101.27h5.30v6.03h-5.30zM549.50 101.27h5.30v6.03h-5.30zM100.79 107.29h5.30v6.03h-5.30zM116.63 107.29h5.30v6.03h-5.30zM127.19 107.29h5.30v6.03h-5.30zM132.46 107.29h5.30v6.03h-5.30zM153.58 107.29h5.30v6.03h-5.30zM195.81 107.29h5.30v6.03h-5.30zM201.09 107.29h5.30v6.03h-5.30zM206.37 107.29h5.30v6.03h-5.30zM211.65 107.29h5.30v6.03h-5.30zM216.93 107.29h5.30v6.03h-5.30zM238.04 107.29h5.30v6.03h-5.30zM269.72 107.29h5.30v6.03h-5.30zM285.56 107.29h5.30v6.03h-5.30zM290.83 107.29h5.30v6.03h-5.30zM306.67 107.29h5.30v6.03h-5.30zM311.95 107.29h5.30v6.03h-5.30zM322.51 107.29h5.30v6.03h-5.30zM364.74 107.29h5.30v6.03h-5.30zM560.06 107.29h5.30v6.03h-5.30zM58.56 113.30h5.30v6.03h-5.30zM95.51 113.30h5.30v6.03h-5.30zM127.19 113.30h5.30v6.03h-5.30zM143.02 113.30h5.30v6.03h-5.30zM158.86 113.30h5.30v6.03h-5.30zM195.81 113.30h5.30v6.03h-5.30zM201.09 113.30h5.30v6.03h-5.30zM243.32 113.30h5.30v6.03h-5.30zM317.23 113.30h5.30v6.03h-5.30zM348.90 113.30h5.30v6.03h-5.30zM480.88 113.30h5.30v6.03h-5.30zM486.16 113.30h5.30v6.03h-5.30zM106.07 119.32h5.30v6.03h-5.30zM179.97 119.32h5.30v6.03h-5.30zM227.49 119.32h5.30v6.03h-5.30zM232.76 119.32h5.30v6.03h-5.30zM243.32 119.32h5.30v6.03h-5.30zM296.11 119.32h5.30v6.03h-5.30zM322.51 119.32h5.30v6.03h-5.30zM343.62 119.32h5.30v6.03h-5.30zM401.69 119.32h5.30v6.03h-5.30zM406.97 119.32h5.30v6.03h-5.30zM417.53 119.32h5.30v6.03h-5.30zM443.93 119.32h5.30v6.03h-5.30zM507.27 119.32h5.30v6.03h-5.30zM58.56 125.33h5.30v6.03h-5.30zM106.07 125.33h5.30v6.03h-5.30zM127.19 125.33h5.30v6.03h-5.30zM185.25 125.33h5.30v6.03h-5.30zM248.60 125.33h5.30v6.03h-5.30zM264.44 125.33h5.30v6.03h-5.30zM327.79 125.33h5.30v6.03h-5.30zM343.62 125.33h5.30v6.03h-5.30zM375.30 125.33h5.30v6.03h-5.30zM406.97 125.33h5.30v6.03h-5.30zM428.09 125.33h5.30v6.03h-5.30zM480.88 125.33h5.30v6.03h-5.30zM501.99 125.33h5.30v6.03h-5.30zM507.27 125.33h5.30v6.03h-5.30zM538.95 125.33h5.30v6.03h-5.30zM544.23 125.33h5.30v6.03h-5.30zM549.50 125.33h5.30v6.03h-5.30zM570.62 125.33h5.30v6.03h-5.30zM74.39 131.35h5.30v6.03h-5.30zM90.23 131.35h5.30v6.03h-5.30zM100.79 131.35h5.30v6.03h-5.30zM111.35 131.35h5.30v6.03h-5.30zM121.91 131.35h5.30v6.03h-5.30zM153.58 131.35h5.30v6.03h-5.30zM185.25 131.35h5.30v6.03h-5.30zM190.53 131.35h5.30v6.03h-5.30zM211.65 131.35h5.30v6.03h-5.30zM232.76 131.35h5.30v6.03h-5.30zM248.60 131.35h5.30v6.03h-5.30zM253.88 131.35h5.30v6.03h-5.30zM259.16 131.35h5.30v6.03h-5.30zM269.72 131.35h5.30v6.03h-5.30zM338.34 131.35h5.30v6.03h-5.30zM391.13 131.35h5.30v6.03h-5.30zM401.69 131.35h5.30v6.03h-5.30zM470.32 131.35h5.30v6.03h-5.30zM549.50 131.35h5.30v6.03h-5.30zM106.07 137.36h5.30v6.03h-5.30zM190.53 137.36h5.30v6.03h-5.30zM211.65 137.36h5.30v6.03h-5.30zM264.44 137.36h5.30v6.03h-5.30zM306.67 137.36h5.30v6.03h-5.30zM338.34 137.36h5.30v6.03h-5.30zM433.37 137.36h5.30v6.03h-5.30zM454.48 137.36h5.30v6.03h-5.30zM470.32 137.36h5.30v6.03h-5.30zM486.16 137.36h5.30v6.03h-5.30zM496.71 137.36h5.30v6.03h-5.30zM501.99 137.36h5.30v6.03h-5.30zM544.23 137.36h5.30v6.03h-5.30zM554.78 137.36h5.30v6.03h-5.30zM74.39 143.38h5.30v6.03h-5.30zM137.74 143.38h5.30v6.03h-5.30zM153.58 143.38h5.30v6.03h-5.30zM179.97 143.38h5.30v6.03h-5.30zM206.37 143.38h5.30v6.03h-5.30zM216.93 143.38h5.30v6.03h-5.30zM248.60 143.38h5.30v6.03h-5.30zM259.16 143.38h5.30v6.03h-5.30zM338.34 143.38h5.30v6.03h-5.30zM391.13 143.38h5.30v6.03h-5.30zM396.41 143.38h5.30v6.03h-5.30zM438.65 143.38h5.30v6.03h-5.30zM465.04 143.38h5.30v6.03h-5.30zM486.16 143.38h5.30v6.03h-5.30zM528.39 143.38h5.30v6.03h-5.30zM90.23 149.39h5.30v6.03h-5.30zM100.79 149.39h5.30v6.03h-5.30zM106.07 149.39h5.30v6.03h-5.30zM127.19 149.39h5.30v6.03h-5.30zM148.30 149.39h5.30v6.03h-5.30zM174.70 149.39h5.30v6.03h-5.30zM179.97 149.39h5.30v6.03h-5.30zM190.53 149.39h5.30v6.03h-5.30zM243.32 149.39h5.30v6.03h-5.30zM248.60 149.39h5.30v6.03h-5.30zM306.67 149.39h5.30v6.03h-5.30zM343.62 149.39h5.30v6.03h-5.30zM380.58 149.39h5.30v6.03h-5.30zM449.20 149.39h5.30v6.03h-5.30zM475.60 149.39h5.30v6.03h-5.30zM538.95 149.39h5.30v6.03h-5.30zM544.23 149.39h5.30v6.03h-5.30zM90.23 155.41h5.30v6.03h-5.30zM116.63 155.41h5.30v6.03h-5.30zM148.30 155.41h5.30v6.03h-5.30zM164.14 155.41h5.30v6.03h-5.30zM169.42 155.41h5.30v6.03h-5.30zM195.81 155.41h5.30v6.03h-5.30zM216.93 155.41h5.30v6.03h-5.30zM253.88 155.41h5.30v6.03h-5.30zM296.11 155.41h5.30v6.03h-5.30zM317.23 155.41h5.30v6.03h-5.30zM396.41 155.41h5.30v6.03h-5.30zM406.97 155.41h5.30v6.03h-5.30zM53.28 161.42h5.30v6.03h-5.30zM111.35 161.42h5.30v6.03h-5.30zM143.02 161.42h5.30v6.03h-5.30zM153.58 161.42h5.30v6.03h-5.30zM185.25 161.42h5.30v6.03h-5.30zM190.53 161.42h5.30v6.03h-5.30zM222.21 161.42h5.30v6.03h-5.30zM238.04 161.42h5.30v6.03h-5.30zM243.32 161.42h5.30v6.03h-5.30zM248.60 161.42h5.30v6.03h-5.30zM269.72 161.42h5.30v6.03h-5.30zM275.00 161.42h5.30v6.03h-5.30zM343.62 161.42h5.30v6.03h-5.30zM359.46 161.42h5.30v6.03h-5.30zM364.74 161.42h5.30v6.03h-5.30zM401.69 161.42h5.30v6.03h-5.30zM433.37 161.42h5.30v6.03h-5.30zM470.32 161.42h5.30v6.03h-5.30zM475.60 161.42h5.30v6.03h-5.30zM496.71 161.42h5.30v6.03h-5.30zM538.95 161.42h5.30v6.03h-5.30zM544.23 161.42h5.30v6.03h-5.30zM554.78 161.42h5.30v6.03h-5.30zM74.39 167.44h5.30v6.03h-5.30zM121.91 167.44h5.30v6.03h-5.30zM153.58 167.44h5.30v6.03h-5.30zM195.81 167.44h5.30v6.03h-5.30zM216.93 167.44h5.30v6.03h-5.30zM248.60 167.44h5.30v6.03h-5.30zM259.16 167.44h5.30v6.03h-5.30zM264.44 167.44h5.30v6.03h-5.30zM280.28 167.44h5.30v6.03h-5.30zM290.83 167.44h5.30v6.03h-5.30zM311.95 167.44h5.30v6.03h-5.30zM322.51 167.44h5.30v6.03h-5.30zM338.34 167.44h5.30v6.03h-5.30zM433.37 167.44h5.30v6.03h-5.30zM438.65 167.44h5.30v6.03h-5.30zM443.93 167.44h5.30v6.03h-5.30zM480.88 167.44h5.30v6.03h-5.30zM496.71 167.44h5.30v6.03h-5.30zM512.55 167.44h5.30v6.03h-5.30zM517.83 167.44h5.30v6.03h-5.30zM523.11 167.44h5.30v6.03h-5.30zM554.78 167.44h5.30v6.03h-5.30zM570.62 167.44h5.30v6.03h-5.30zM100.79 173.45h5.30v6.03h-5.30zM148.30 173.45h5.30v6.03h-5.30zM185.25 173.45h5.30v6.03h-5.30zM222.21 173.45h5.30v6.03h-5.30zM243.32 173.45h5.30v6.03h-5.30zM275.00 173.45h5.30v6.03h-5.30zM301.39 173.45h5.30v6.03h-5.30zM370.02 173.45h5.30v6.03h-5.30zM406.97 173.45h5.30v6.03h-5.30zM417.53 173.45h5.30v6.03h-5.30zM491.44 173.45h5.30v6.03h-5.30zM517.83 173.45h5.30v6.03h-5.30zM533.67 173.45h5.30v6.03h-5.30zM538.95 173.45h5.30v6.03h-5.30zM554.78 173.45h5.30v6.03h-5.30zM63.84 179.47h5.30v6.03h-5.30zM100.79 179.47h5.30v6.03h-5.30zM137.74 179.47h5.30v6.03h-5.30zM164.14 179.47h5.30v6.03h-5.30zM169.42 179.47h5.30v6.03h-5.30zM190.53 179.47h5.30v6.03h-5.30zM201.09 179.47h5.30v6.03h-5.30zM253.88 179.47h5.30v6.03h-5.30zM275.00 179.47h5.30v6.03h-5.30zM370.02 179.47h5.30v6.03h-5.30zM385.86 179.47h5.30v6.03h-5.30zM412.25 179.47h5.30v6.03h-5.30zM507.27 179.47h5.30v6.03h-5.30zM528.39 179.47h5.30v6.03h-5.30zM533.67 179.47h5.30v6.03h-5.30zM554.78 179.47h5.30v6.03h-5.30zM127.19 185.48h5.30v6.03h-5.30zM158.86 185.48h5.30v6.03h-5.30zM190.53 185.48h5.30v6.03h-5.30zM211.65 185.48h5.30v6.03h-5.30zM248.60 185.48h5.30v6.03h-5.30zM269.72 185.48h5.30v6.03h-5.30zM311.95 185.48h5.30v6.03h-5.30zM370.02 185.48h5.30v6.03h-5.30zM533.67 185.48h5.30v6.03h-5.30zM538.95 185.48h5.30v6.03h-5.30zM544.23 185.48h5.30v6.03h-5.30zM63.84 191.50h5.30v6.03h-5.30zM137.74 191.50h5.30v6.03h-5.30zM164.14 191.50h5.30v6.03h-5.30zM185.25 191.50h5.30v6.03h-5.30zM206.37 191.50h5.30v6.03h-5.30zM232.76 191.50h5.30v6.03h-5.30zM259.16 191.50h5.30v6.03h-5.30zM280.28 191.50h5.30v6.03h-5.30zM311.95 191.50h5.30v6.03h-5.30zM380.58 191.50h5.30v6.03h-5.30zM428.09 191.50h5.30v6.03h-5.30zM433.37 191.50h5.30v6.03h-5.30zM465.04 191.50h5.30v6.03h-5.30zM517.83 191.50h5.30v6.03h-5.30zM523.11 191.50h5.30v6.03h-5.30zM528.39 191.50h5.30v6.03h-5.30zM538.95 191.50h5.30v6.03h-5.30zM544.23 191.50h5.30v6.03h-5.30zM95.51 197.51h5.30v6.03h-5.30zM111.35 197.51h5.30v6.03h-5.30zM137.74 197.51h5.30v6.03h-5.30zM169.42 197.51h5.30v6.03h-5.30zM201.09 197.51h5.30v6.03h-5.30zM216.93 197.51h5.30v6.03h-5.30zM222.21 197.51h5.30v6.03h-5.30zM232.76 197.51h5.30v6.03h-5.30zM269.72 197.51h5.30v6.03h-5.30zM322.51 197.51h5.30v6.03h-5.30zM491.44 197.51h5.30v6.03h-5.30zM512.55 197.51h5.30v6.03h-5.30zM53.28 203.53h5.30v6.03h-5.30zM79.67 203.53h5.30v6.03h-5.30zM100.79 203.53h5.30v6.03h-5.30zM121.91 203.53h5.30v6.03h-5.30zM158.86 203.53h5.30v6.03h-5.30zM190.53 203.53h5.30v6.03h-5.30zM216.93 203.53h5.30v6.03h-5.30zM243.32 203.53h5.30v6.03h-5.30zM248.60 203.53h5.30v6.03h-5.30zM269.72 203.53h5.30v6.03h-5.30zM290.83 203.53h5.30v6.03h-5.30zM370.02 203.53h5.30v6.03h-5.30zM422.81 203.53h5.30v6.03h-5.30zM480.88 203.53h5.30v6.03h-5.30zM507.27 203.53h5.30v6.03h-5.30zM63.84 209.54h5.30v6.03h-5.30zM121.91 209.54h5.30v6.03h-5.30zM132.46 209.54h5.30v6.03h-5.30zM137.74 209.54h5.30v6.03h-5.30zM143.02 209.54h5.30v6.03h-5.30zM153.58 209.54h5.30v6.03h-5.30zM158.86 209.54h5.30v6.03h-5.30zM164.14 209.54h5.30v6.03h-5.30zM185.25 209.54h5.30v6.03h-5.30zM248.60 209.54h5.30v6.03h-5.30zM253.88 209.54h5.30v6.03h-5.30zM269.72 209.54h5.30v6.03h-5.30zM338.34 209.54h5.30v6.03h-5.30zM370.02 209.54h5.30v6.03h-5.30zM433.37 209.54h5.30v6.03h-5.30zM486.16 209.54h5.30v6.03h-5.30zM512.55 209.54h5.30v6.03h-5.30zM544.23 209.54h5.30v6.03h-5.30zM95.51 215.56h5.30v6.03h-5.30zM116.63 215.56h5.30v6.03h-5.30zM127.19 215.56h5.30v6.03h-5.30zM164.14 215.56h5.30v6.03h-5.30zM179.97 215.56h5.30v6.03h-5.30zM269.72 215.56h5.30v6.03h-5.30zM301.39 215.56h5.30v6.03h-5.30zM412.25 215.56h5.30v6.03h-5.30zM443.93 215.56h5.30v6.03h-5.30zM459.76 215.56h5.30v6.03h-5.30zM533.67 215.56h5.30v6.03h-5.30zM111.35 221.57h5.30v6.03h-5.30zM132.46 221.57h5.30v6.03h-5.30zM179.97 221.57h5.30v6.03h-5.30zM195.81 221.57h5.30v6.03h-5.30zM206.37 221.57h5.30v6.03h-5.30zM238.04 221.57h5.30v6.03h-5.30zM269.72 221.57h5.30v6.03h-5.30zM285.56 221.57h5.30v6.03h-5.30zM317.23 221.57h5.30v6.03h-5.30zM370.02 221.57h5.30v6.03h-5.30zM391.13 221.57h5.30v6.03h-5.30zM449.20 221.57h5.30v6.03h-5.30zM523.11 221.57h5.30v6.03h-5.30zM549.50 221.57h5.30v6.03h-5.30zM58.56 227.59h5.30v6.03h-5.30zM84.95 227.59h5.30v6.03h-5.30zM143.02 227.59h5.30v6.03h-5.30zM285.56 227.59h5.30v6.03h-5.30zM311.95 227.59h5.30v6.03h-5.30zM327.79 227.59h5.30v6.03h-5.30zM380.58 227.59h5.30v6.03h-5.30zM438.65 227.59h5.30v6.03h-5.30zM443.93 227.59h5.30v6.03h-5.30zM480.88 227.59h5.30v6.03h-5.30zM517.83 227.59h5.30v6.03h-5.30zM528.39 227.59h5.30v6.03h-5.30zM538.95 227.59h5.30v6.03h-5.30zM544.23 227.59h5.30v6.03h-5.30zM48.00 233.60h5.30v6.03h-5.30zM79.67 233.60h5.30v6.03h-5.30zM106.07 233.60h5.30v6.03h-5.30zM185.25 233.60h5.30v6.03h-5.30zM195.81 233.60h5.30v6.03h-5.30zM222.21 233.60h5.30v6.03h-5.30zM227.49 233.60h5.30v6.03h-5.30zM264.44 233.60h5.30v6.03h-5.30zM269.72 233.60h5.30v6.03h-5.30zM317.23 233.60h5.30v6.03h-5.30zM322.51 233.60h5.30v6.03h-5.30zM370.02 233.60h5.30v6.03h-5.30zM380.58 233.60h5.30v6.03h-5.30zM428.09 233.60h5.30v6.03h-5.30zM470.32 233.60h5.30v6.03h-5.30zM491.44 233.60h5.30v6.03h-5.30zM496.71 233.60h5.30v6.03h-5.30zM544.23 233.60h5.30v6.03h-5.30zM48.00 239.62h5.30v6.03h-5.30zM84.95 239.62h5.30v6.03h-5.30zM106.07 239.62h5.30v6.03h-5.30zM121.91 239.62h5.30v6.03h-5.30zM127.19 239.62h5.30v6.03h-5.30zM137.74 239.62h5.30v6.03h-5.30zM222.21 239.62h5.30v6.03h-5.30zM227.49 239.62h5.30v6.03h-5.30zM232.76 239.62h5.30v6.03h-5.30zM243.32 239.62h5.30v6.03h-5.30zM248.60 239.62h5.30v6.03h-5.30zM264.44 239.62h5.30v6.03h-5.30zM306.67 239.62h5.30v6.03h-5.30zM433.37 239.62h5.30v6.03h-5.30zM438.65 239.62h5.30v6.03h-5.30zM443.93 239.62h5.30v6.03h-5.30zM465.04 239.62h5.30v6.03h-5.30zM549.50 239.62h5.30v6.03h-5.30zM58.56 245.63h5.30v6.03h-5.30zM106.07 245.63h5.30v6.03h-5.30zM174.70 245.63h5.30v6.03h-5.30zM195.81 245.63h5.30v6.03h-5.30zM227.49 245.63h5.30v6.03h-5.30zM253.88 245.63h5.30v6.03h-5.30zM296.11 245.63h5.30v6.03h-5.30zM301.39 245.63h5.30v6.03h-5.30zM311.95 245.63h5.30v6.03h-5.30zM317.23 245.63h5.30v6.03h-5.30zM322.51 245.63h5.30v6.03h-5.30zM391.13 245.63h5.30v6.03h-5.30zM438.65 245.63h5.30v6.03h-5.30zM449.20 245.63h5.30v6.03h-5.30zM480.88 245.63h5.30v6.03h-5.30zM486.16 245.63h5.30v6.03h-5.30zM491.44 245.63h5.30v6.03h-5.30zM528.39 245.63h5.30v6.03h-5.30zM533.67 245.63h5.30v6.03h-5.30zM549.50 245.63h5.30v6.03h-5.30zM560.06 245.63h5.30v6.03h-5.30zM58.56 251.65h5.30v6.03h-5.30zM116.63 251.65h5.30v6.03h-5.30zM127.19 251.65h5.30v6.03h-5.30zM137.74 251.65h5.30v6.03h-5.30zM195.81 251.65h5.30v6.03h-5.30zM206.37 251.65h5.30v6.03h-5.30zM211.65 251.65h5.30v6.03h-5.30zM232.76 251.65h5.30v6.03h-5.30zM243.32 251.65h5.30v6.03h-5.30zM248.60 251.65h5.30v6.03h-5.30zM301.39 251.65h5.30v6.03h-5.30zM327.79 251.65h5.30v6.03h-5.30zM370.02 251.65h5.30v6.03h-5.30zM412.25 251.65h5.30v6.03h-5.30zM417.53 251.65h5.30v6.03h-5.30zM438.65 251.65h5.30v6.03h-5.30zM480.88 251.65h5.30v6.03h-5.30zM491.44 251.65h5.30v6.03h-5.30zM560.06 251.65h5.30v6.03h-5.30zM58.56 257.66h5.30v6.03h-5.30zM90.23 257.66h5.30v6.03h-5.30zM111.35 257.66h5.30v6.03h-5.30zM127.19 257.66h5.30v6.03h-5.30zM137.74 257.66h5.30v6.03h-5.30zM190.53 257.66h5.30v6.03h-5.30zM216.93 257.66h5.30v6.03h-5.30zM343.62 257.66h5.30v6.03h-5.30zM364.74 257.66h5.30v6.03h-5.30zM370.02 257.66h5.30v6.03h-5.30zM428.09 257.66h5.30v6.03h-5.30zM465.04 257.66h5.30v6.03h-5.30zM533.67 257.66h5.30v6.03h-5.30zM48.00 263.68h5.30v6.03h-5.30zM69.12 263.68h5.30v6.03h-5.30zM143.02 263.68h5.30v6.03h-5.30zM148.30 263.68h5.30v6.03h-5.30zM227.49 263.68h5.30v6.03h-5.30zM232.76 263.68h5.30v6.03h-5.30zM248.60 263.68h5.30v6.03h-5.30zM354.18 263.68h5.30v6.03h-5.30zM375.30 263.68h5.30v6.03h-5.30zM391.13 263.68h5.30v6.03h-5.30zM422.81 263.68h5.30v6.03h-5.30zM491.44 263.68h5.30v6.03h-5.30zM528.39 263.68h5.30v6.03h-5.30zM48.00 269.69h5.30v6.03h-5.30zM79.67 269.69h5.30v6.03h-5.30zM116.63 269.69h5.30v6.03h-5.30zM121.91 269.69h5.30v6.03h-5.30zM179.97 269.69h5.30v6.03h-5.30zM333.07 269.69h5.30v6.03h-5.30zM459.76 269.69h5.30v6.03h-5.30zM475.60 269.69h5.30v6.03h-5.30zM544.23 269.69h5.30v6.03h-5.30zM53.28 275.71h5.30v6.03h-5.30zM106.07 275.71h5.30v6.03h-5.30zM116.63 275.71h5.30v6.03h-5.30zM127.19 275.71h5.30v6.03h-5.30zM137.74 275.71h5.30v6.03h-5.30zM169.42 275.71h5.30v6.03h-5.30zM269.72 275.71h5.30v6.03h-5.30zM285.56 275.71h5.30v6.03h-5.30zM296.11 275.71h5.30v6.03h-5.30zM322.51 275.71h5.30v6.03h-5.30zM406.97 275.71h5.30v6.03h-5.30zM449.20 275.71h5.30v6.03h-5.30zM470.32 275.71h5.30v6.03h-5.30zM480.88 275.71h5.30v6.03h-5.30zM512.55 275.71h5.30v6.03h-5.30zM523.11 275.71h5.30v6.03h-5.30zM549.50 275.71h5.30v6.03h-5.30zM560.06 275.71h5.30v6.03h-5.30zM53.28 281.72h5.30v6.03h-5.30zM63.84 281.72h5.30v6.03h-5.30zM100.79 281.72h5.30v6.03h-5.30zM132.46 281.72h5.30v6.03h-5.30zM164.14 281.72h5.30v6.03h-5.30zM174.70 281.72h5.30v6.03h-5.30zM206.37 281.72h5.30v6.03h-5.30zM211.65 281.72h5.30v6.03h-5.30zM216.93 281.72h5.30v6.03h-5.30zM253.88 281.72h5.30v6.03h-5.30zM296.11 281.72h5.30v6.03h-5.30zM322.51 281.72h5.30v6.03h-5.30zM354.18 281.72h5.30v6.03h-5.30zM449.20 281.72h5.30v6.03h-5.30zM480.88 281.72h5.30v6.03h-5.30zM528.39 281.72h5.30v6.03h-5.30zM554.78 281.72h5.30v6.03h-5.30zM570.62 281.72h5.30v6.03h-5.30zM79.67 287.74h5.30v6.03h-5.30zM121.91 287.74h5.30v6.03h-5.30zM132.46 287.74h5.30v6.03h-5.30zM148.30 287.74h5.30v6.03h-5.30zM158.86 287.74h5.30v6.03h-5.30zM190.53 287.74h5.30v6.03h-5.30zM195.81 287.74h5.30v6.03h-5.30zM248.60 287.74h5.30v6.03h-5.30zM264.44 287.74h5.30v6.03h-5.30zM280.28 287.74h5.30v6.03h-5.30zM322.51 287.74h5.30v6.03h-5.30zM438.65 287.74h5.30v6.03h-5.30zM449.20 287.74h5.30v6.03h-5.30zM523.11 287.74h5.30v6.03h-5.30zM63.84 293.75h5.30v6.03h-5.30zM79.67 293.75h5.30v6.03h-5.30zM121.91 293.75h5.30v6.03h-5.30zM153.58 293.75h5.30v6.03h-5.30zM164.14 293.75h5.30v6.03h-5.30zM185.25 293.75h5.30v6.03h-5.30zM190.53 293.75h5.30v6.03h-5.30zM195.81 293.75h5.30v6.03h-5.30zM216.93 293.75h5.30v6.03h-5.30zM238.04 293.75h5.30v6.03h-5.30zM317.23 293.75h5.30v6.03h-5.30zM454.48 293.75h5.30v6.03h-5.30zM53.28 299.77h5.30v6.03h-5.30zM74.39 299.77h5.30v6.03h-5.30zM158.86 299.77h5.30v6.03h-5.30zM206.37 299.77h5.30v6.03h-5.30zM216.93 299.77h5.30v6.03h-5.30zM232.76 299.77h5.30v6.03h-5.30zM238.04 299.77h5.30v6.03h-5.30zM322.51 299.77h5.30v6.03h-5.30zM359.46 299.77h5.30v6.03h-5.30zM364.74 299.77h5.30v6.03h-5.30zM370.02 299.77h5.30v6.03h-5.30zM417.53 299.77h5.30v6.03h-5.30zM422.81 299.77h5.30v6.03h-5.30zM428.09 299.77h5.30v6.03h-5.30zM480.88 299.77h5.30v6.03h-5.30zM53.28 305.78h5.30v6.03h-5.30zM63.84 305.78h5.30v6.03h-5.30zM100.79 305.78h5.30v6.03h-5.30zM164.14 305.78h5.30v6.03h-5.30zM248.60 305.78h5.30v6.03h-5.30zM253.88 305.78h5.30v6.03h-5.30zM280.28 305.78h5.30v6.03h-5.30zM338.34 305.78h5.30v6.03h-5.30zM385.86 305.78h5.30v6.03h-5.30zM412.25 305.78h5.30v6.03h-5.30zM480.88 305.78h5.30v6.03h-5.30zM486.16 305.78h5.30v6.03h-5.30zM491.44 305.78h5.30v6.03h-5.30zM496.71 305.78h5.30v6.03h-5.30zM533.67 305.78h5.30v6.03h-5.30zM544.23 305.78h5.30v6.03h-5.30zM565.34 305.78h5.30v6.03h-5.30zM570.62 305.78h5.30v6.03h-5.30zM53.28 311.80h5.30v6.03h-5.30zM74.39 311.80h5.30v6.03h-5.30zM84.95 311.80h5.30v6.03h-5.30zM106.07 311.80h5.30v6.03h-5.30zM111.35 311.80h5.30v6.03h-5.30zM137.74 311.80h5.30v6.03h-5.30zM195.81 311.80h5.30v6.03h-5.30zM201.09 311.80h5.30v6.03h-5.30zM206.37 311.80h5.30v6.03h-5.30zM216.93 311.80h5.30v6.03h-5.30zM285.56 311.80h5.30v6.03h-5.30zM311.95 311.80h5.30v6.03h-5.30zM317.23 311.80h5.30v6.03h-5.30zM364.74 311.80h5.30v6.03h-5.30zM375.30 311.80h5.30v6.03h-5.30zM417.53 311.80h5.30v6.03h-5.30zM428.09 311.80h5.30v6.03h-5.30zM465.04 311.80h5.30v6.03h-5.30zM491.44 311.80h5.30v6.03h-5.30zM48.00 317.81h5.30v6.03h-5.30zM53.28 317.81h5.30v6.03h-5.30zM63.84 317.81h5.30v6.03h-5.30zM74.39 317.81h5.30v6.03h-5.30zM111.35 317.81h5.30v6.03h-5.30zM164.14 317.81h5.30v6.03h-5.30zM185.25 317.81h5.30v6.03h-5.30zM195.81 317.81h5.30v6.03h-5.30zM253.88 317.81h5.30v6.03h-5.30zM264.44 317.81h5.30v6.03h-5.30zM348.90 317.81h5.30v6.03h-5.30zM359.46 317.81h5.30v6.03h-5.30zM364.74 317.81h5.30v6.03h-5.30zM412.25 317.81h5.30v6.03h-5.30zM454.48 317.81h5.30v6.03h-5.30zM459.76 317.81h5.30v6.03h-5.30zM475.60 317.81h5.30v6.03h-5.30zM549.50 317.81h5.30v6.03h-5.30zM565.34 317.81h5.30v6.03h-5.30zM63.84 323.83h5.30v6.03h-5.30zM79.67 323.83h5.30v6.03h-5.30zM116.63 323.83h5.30v6.03h-5.30zM121.91 323.83h5.30v6.03h-5.30zM153.58 323.83h5.30v6.03h-5.30zM169.42 323.83h5.30v6.03h-5.30zM211.65 323.83h5.30v6.03h-5.30zM216.93 323.83h5.30v6.03h-5.30zM238.04 323.83h5.30v6.03h-5.30zM333.07 323.83h5.30v6.03h-5.30zM338.34 323.83h5.30v6.03h-5.30zM370.02 323.83h5.30v6.03h-5.30zM459.76 323.83h5.30v6.03h-5.30zM475.60 323.83h5.30v6.03h-5.30zM549.50 323.83h5.30v6.03h-5.30zM565.34 323.83h5.30v6.03h-5.30zM570.62 323.83h5.30v6.03h-5.30zM63.84 329.84h5.30v6.03h-5.30zM174.70 329.84h5.30v6.03h-5.30zM190.53 329.84h5.30v6.03h-5.30zM195.81 329.84h5.30v6.03h-5.30zM211.65 329.84h5.30v6.03h-5.30zM275.00 329.84h5.30v6.03h-5.30zM301.39 329.84h5.30v6.03h-5.30zM333.07 329.84h5.30v6.03h-5.30zM338.34 329.84h5.30v6.03h-5.30zM370.02 329.84h5.30v6.03h-5.30zM391.13 329.84h5.30v6.03h-5.30zM417.53 329.84h5.30v6.03h-5.30zM465.04 329.84h5.30v6.03h-5.30zM470.32 329.84h5.30v6.03h-5.30zM544.23 329.84h5.30v6.03h-5.30zM58.56 335.86h5.30v6.03h-5.30zM74.39 335.86h5.30v6.03h-5.30zM127.19 335.86h5.30v6.03h-5.30zM153.58 335.86h5.30v6.03h-5.30zM190.53 335.86h5.30v6.03h-5.30zM216.93 335.86h5.30v6.03h-5.30zM275.00 335.86h5.30v6.03h-5.30zM380.58 335.86h5.30v6.03h-5.30zM449.20 335.86h5.30v6.03h-5.30zM454.48 335.86h5.30v6.03h-5.30zM512.55 335.86h5.30v6.03h-5.30zM528.39 335.86h5.30v6.03h-5.30zM538.95 335.86h5.30v6.03h-5.30zM560.06 335.86h5.30v6.03h-5.30zM63.84 341.87h5.30v6.03h-5.30zM90.23 341.87h5.30v6.03h-5.30zM153.58 341.87h5.30v6.03h-5.30zM216.93 341.87h5.30v6.03h-5.30zM232.76 341.87h5.30v6.03h-5.30zM248.60 341.87h5.30v6.03h-5.30zM280.28 341.87h5.30v6.03h-5.30zM343.62 341.87h5.30v6.03h-5.30zM380.58 341.87h5.30v6.03h-5.30zM449.20 341.87h5.30v6.03h-5.30zM459.76 341.87h5.30v6.03h-5.30zM475.60 341.87h5.30v6.03h-5.30zM523.11 341.87h5.30v6.03h-5.30zM528.39 341.87h5.30v6.03h-5.30zM533.67 341.87h5.30v6.03h-5.30zM570.62 341.87h5.30v6.03h-5.30zM132.46 347.89h5.30v6.03h-5.30zM148.30 347.89h5.30v6.03h-5.30zM153.58 347.89h5.30v6.03h-5.30zM195.81 347.89h5.30v6.03h-5.30zM280.28 347.89h5.30v6.03h-5.30zM285.56 347.89h5.30v6.03h-5.30zM296.11 347.89h5.30v6.03h-5.30zM327.79 347.89h5.30v6.03h-5.30zM354.18 347.89h5.30v6.03h-5.30zM385.86 347.89h5.30v6.03h-5.30zM417.53 347.89h5.30v6.03h-5.30zM454.48 347.89h5.30v6.03h-5.30zM486.16 347.89h5.30v6.03h-5.30zM560.06 347.89h5.30v6.03h-5.30zM570.62 347.89h5.30v6.03h-5.30z"/>
<path fill="#e73d3f" d="M48.00 71.20h5.30v6.03h-5.30zM195.81 71.20h5.30v6.03h-5.30zM216.93 71.20h5.30v6.03h-5.30zM259.16 71.20h5.30v6.03h-5.30zM317.23 71.20h5.30v6.03h-5.30zM433.37 71.20h5.30v6.03h-5.30zM438.65 71.20h5.30v6.03h-5.30zM491.44 71.20h5.30v6.03h-5.30zM79.67 77.21h5.30v6.03h-5.30zM84.95 77.21h5.30v6.03h-5.30zM100.79 77.21h5.30v6.03h-5.30zM127.19 77.21h5.30v6.03h-5.30zM143.02 77.21h5.30v6.03h-5.30zM179.97 77.21h5.30v6.03h-5.30zM185.25 77.21h5.30v6.03h-5.30zM243.32 77.21h5.30v6.03h-5.30zM280.28 77.21h5.30v6.03h-5.30zM285.56 77.21h5.30v6.03h-5.30zM311.95 77.21h5.30v6.03h-5.30zM317.23 77.21h5.30v6.03h-5.30zM322.51 77.21h5.30v6.03h-5.30zM327.79 77.21h5.30v6.03h-5.30zM333.07 77.21h5.30v6.03h-5.30zM370.02 77.21h5.30v6.03h-5.30zM375.30 77.21h5.30v6.03h-5.30zM391.13 77.21h5.30v6.03h-5.30zM396.41 77.21h5.30v6.03h-5.30zM401.69 77.21h5.30v6.03h-5.30zM406.97 77.21h5.30v6.03h-5.30zM454.48 77.21h5.30v6.03h-5.30zM501.99 77.21h5.30v6.03h-5.30zM517.83 77.21h5.30v6.03h-5.30zM528.39 77.21h5.30v6.03h-5.30zM560.06 77.21h5.30v6.03h-5.30zM565.34 77.21h5.30v6.03h-5.30zM69.12 83.23h5.30v6.03h-5.30zM153.58 83.23h5.30v6.03h-5.30zM190.53 83.23h5.30v6.03h-5.30zM253.88 83.23h5.30v6.03h-5.30zM343.62 83.23h5.30v6.03h-5.30zM348.90 83.23h5.30v6.03h-5.30zM354.18 83.23h5.30v6.03h-5.30zM396.41 83.23h5.30v6.03h-5.30zM401.69 83.23h5.30v6.03h-5.30zM406.97 83.23h5.30v6.03h-5.30zM443.93 83.23h5.30v6.03h-5.30zM454.48 83.23h5.30v6.03h-5.30zM459.76 83.23h5.30v6.03h-5.30zM491.44 83.23h5.30v6.03h-5.30zM517.83 83.23h5.30v6.03h-5.30zM74.39 89.24h5.30v6.03h-5.30zM106.07 89.24h5.30v6.03h-5.30zM153.58 89.24h5.30v6.03h-5.30zM211.65 89.24h5.30v6.03h-5.30zM227.49 89.24h5.30v6.03h-5.30zM306.67 89.24h5.30v6.03h-5.30zM322.51 89.24h5.30v6.03h-5.30zM364.74 89.24h5.30v6.03h-5.30zM375.30 89.24h5.30v6.03h-5.30zM391.13 89.24h5.30v6.03h-5.30zM433.37 89.24h5.30v6.03h-5.30zM443.93 89.24h5.30v6.03h-5.30zM449.20 89.24h5.30v6.03h-5.30zM459.76 89.24h5.30v6.03h-5.30zM496.71 89.24h5.30v6.03h-5.30zM570.62 89.24h5.30v6.03h-5.30zM158.86 95.26h5.30v6.03h-5.30zM164.14 95.26h5.30v6.03h-5.30zM185.25 95.26h5.30v6.03h-5.30zM222.21 95.26h5.30v6.03h-5.30zM243.32 95.26h5.30v6.03h-5.30zM269.72 95.26h5.30v6.03h-5.30zM301.39 95.26h5.30v6.03h-5.30zM327.79 95.26h5.30v6.03h-5.30zM333.07 95.26h5.30v6.03h-5.30zM338.34 95.26h5.30v6.03h-5.30zM370.02 95.26h5.30v6.03h-5.30zM375.30 95.26h5.30v6.03h-5.30zM380.58 95.26h5.30v6.03h-5.30zM385.86 95.26h5.30v6.03h-5.30zM470.32 95.26h5.30v6.03h-5.30zM486.16 95.26h5.30v6.03h-5.30zM501.99 95.26h5.30v6.03h-5.30zM523.11 95.26h5.30v6.03h-5.30zM48.00 101.27h5.30v6.03h-5.30zM195.81 101.27h5.30v6.03h-5.30zM238.04 101.27h5.30v6.03h-5.30zM264.44 101.27h5.30v6.03h-5.30zM280.28 101.27h5.30v6.03h-5.30zM290.83 101.27h5.30v6.03h-5.30zM296.11 101.27h5.30v6.03h-5.30zM306.67 101.27h5.30v6.03h-5.30zM327.79 101.27h5.30v6.03h-5.30zM359.46 101.27h5.30v6.03h-5.30zM370.02 101.27h5.30v6.03h-5.30zM396.41 101.27h5.30v6.03h-5.30zM412.25 101.27h5.30v6.03h-5.30zM428.09 101.27h5.30v6.03h-5.30zM443.93 101.27h5.30v6.03h-5.30zM459.76 101.27h5.30v6.03h-5.30zM470.32 101.27h5.30v6.03h-5.30zM528.39 101.27h5.30v6.03h-5.30zM58.56 107.29h5.30v6.03h-5.30zM69.12 107.29h5.30v6.03h-5.30zM79.67 107.29h5.30v6.03h-5.30zM106.07 107.29h5.30v6.03h-5.30zM158.86 107.29h5.30v6.03h-5.30zM169.42 107.29h5.30v6.03h-5.30zM179.97 107.29h5.30v6.03h-5.30zM259.16 107.29h5.30v6.03h-5.30zM264.44 107.29h5.30v6.03h-5.30zM333.07 107.29h5.30v6.03h-5.30zM338.34 107.29h5.30v6.03h-5.30zM343.62 107.29h5.30v6.03h-5.30zM370.02 107.29h5.30v6.03h-5.30zM380.58 107.29h5.30v6.03h-5.30zM385.86 107.29h5.30v6.03h-5.30zM412.25 107.29h5.30v6.03h-5.30zM417.53 107.29h5.30v6.03h-5.30zM433.37 107.29h5.30v6.03h-5.30zM475.60 107.29h5.30v6.03h-5.30zM528.39 107.29h5.30v6.03h-5.30zM533.67 107.29h5.30v6.03h-5.30zM84.95 113.30h5.30v6.03h-5.30zM169.42 113.30h5.30v6.03h-5.30zM238.04 113.30h5.30v6.03h-5.30zM248.60 113.30h5.30v6.03h-5.30zM285.56 113.30h5.30v6.03h-5.30zM306.67 113.30h5.30v6.03h-5.30zM327.79 113.30h5.30v6.03h-5.30zM401.69 113.30h5.30v6.03h-5.30zM406.97 113.30h5.30v6.03h-5.30zM412.25 113.30h5.30v6.03h-5.30zM422.81 113.30h5.30v6.03h-5.30zM428.09 113.30h5.30v6.03h-5.30zM438.65 113.30h5.30v6.03h-5.30zM470.32 113.30h5.30v6.03h-5.30zM538.95 113.30h5.30v6.03h-5.30zM549.50 113.30h5.30v6.03h-5.30zM565.34 113.30h5.30v6.03h-5.30zM164.14 119.32h5.30v6.03h-5.30zM169.42 119.32h5.30v6.03h-5.30zM174.70 119.32h5.30v6.03h-5.30zM206.37 119.32h5.30v6.03h-5.30zM211.65 119.32h5.30v6.03h-5.30zM248.60 119.32h5.30v6.03h-5.30zM253.88 119.32h5.30v6.03h-5.30zM259.16 119.32h5.30v6.03h-5.30zM280.28 119.32h5.30v6.03h-5.30zM301.39 119.32h5.30v6.03h-5.30zM317.23 119.32h5.30v6.03h-5.30zM348.90 119.32h5.30v6.03h-5.30zM375.30 119.32h5.30v6.03h-5.30zM412.25 119.32h5.30v6.03h-5.30zM433.37 119.32h5.30v6.03h-5.30zM480.88 119.32h5.30v6.03h-5.30zM491.44 119.32h5.30v6.03h-5.30zM533.67 119.32h5.30v6.03h-5.30zM95.51 125.33h5.30v6.03h-5.30zM137.74 125.33h5.30v6.03h-5.30zM143.02 125.33h5.30v6.03h-5.30zM164.14 125.33h5.30v6.03h-5.30zM222.21 125.33h5.30v6.03h-5.30zM232.76 125.33h5.30v6.03h-5.30zM322.51 125.33h5.30v6.03h-5.30zM380.58 125.33h5.30v6.03h-5.30zM385.86 125.33h5.30v6.03h-5.30zM391.13 125.33h5.30v6.03h-5.30zM401.69 125.33h5.30v6.03h-5.30zM422.81 125.33h5.30v6.03h-5.30zM491.44 125.33h5.30v6.03h-5.30zM517.83 125.33h5.30v6.03h-5.30zM523.11 125.33h5.30v6.03h-5.30zM533.67 125.33h5.30v6.03h-5.30zM84.95 131.35h5.30v6.03h-5.30zM106.07 131.35h5.30v6.03h-5.30zM174.70 131.35h5.30v6.03h-5.30zM179.97 131.35h5.30v6.03h-5.30zM195.81 131.35h5.30v6.03h-5.30zM216.93 131.35h5.30v6.03h-5.30zM301.39 131.35h5.30v6.03h-5.30zM306.67 131.35h5.30v6.03h-5.30zM311.95 131.35h5.30v6.03h-5.30zM327.79 131.35h5.30v6.03h-5.30zM354.18 131.35h5.30v6.03h-5.30zM359.46 131.35h5.30v6.03h-5.30zM380.58 131.35h5.30v6.03h-5.30zM385.86 131.35h5.30v6.03h-5.30zM396.41 131.35h5.30v6.03h-5.30zM417.53 131.35h5.30v6.03h-5.30zM422.81 131.35h5.30v6.03h-5.30zM433.37 131.35h5.30v6.03h-5.30zM449.20 131.35h5.30v6.03h-5.30zM465.04 131.35h5.30v6.03h-5.30zM507.27 131.35h5.30v6.03h-5.30zM523.11 131.35h5.30v6.03h-5.30zM538.95 131.35h5.30v6.03h-5.30zM565.34 131.35h5.30v6.03h-5.30zM127.19 137.36h5.30v6.03h-5.30zM132.46 137.36h5.30v6.03h-5.30zM185.25 137.36h5.30v6.03h-5.30zM232.76 137.36h5.30v6.03h-5.30zM238.04 137.36h5.30v6.03h-5.30zM269.72 137.36h5.30v6.03h-5.30zM301.39 137.36h5.30v6.03h-5.30zM317.23 137.36h5.30v6.03h-5.30zM333.07 137.36h5.30v6.03h-5.30zM380.58 137.36h5.30v6.03h-5.30zM491.44 137.36h5.30v6.03h-5.30zM523.11 137.36h5.30v6.03h-5.30zM528.39 137.36h5.30v6.03h-5.30zM549.50 137.36h5.30v6.03h-5.30zM116.63 143.38h5.30v6.03h-5.30zM121.91 143.38h5.30v6.03h-5.30zM143.02 143.38h5.30v6.03h-5.30zM238.04 143.38h5.30v6.03h-5.30zM269.72 143.38h5.30v6.03h-5.30zM290.83 143.38h5.30v6.03h-5.30zM296.11 143.38h5.30v6.03h-5.30zM348.90 143.38h5.30v6.03h-5.30zM412.25 143.38h5.30v6.03h-5.30zM417.53 143.38h5.30v6.03h-5.30zM422.81 143.38h5.30v6.03h-5.30zM433.37 143.38h5.30v6.03h-5.30zM459.76 143.38h5.30v6.03h-5.30zM554.78 143.38h5.30v6.03h-5.30zM48.00 149.39h5.30v6.03h-5.30zM74.39 149.39h5.30v6.03h-5.30zM79.67 149.39h5.30v6.03h-5.30zM84.95 149.39h5.30v6.03h-5.30zM95.51 149.39h5.30v6.03h-5.30zM211.65 149.39h5.30v6.03h-5.30zM227.49 149.39h5.30v6.03h-5.30zM280.28 149.39h5.30v6.03h-5.30zM285.56 149.39h5.30v6.03h-5.30zM290.83 149.39h5.30v6.03h-5.30zM333.07 149.39h5.30v6.03h-5.30zM375.30 149.39h5.30v6.03h-5.30zM396.41 149.39h5.30v6.03h-5.30zM428.09 149.39h5.30v6.03h-5.30zM459.76 149.39h5.30v6.03h-5.30zM496.71 149.39h5.30v6.03h-5.30zM528.39 149.39h5.30v6.03h-5.30zM533.67 149.39h5.30v6.03h-5.30zM74.39 155.41h5.30v6.03h-5.30zM121.91 155.41h5.30v6.03h-5.30zM158.86 155.41h5.30v6.03h-5.30zM185.25 155.41h5.30v6.03h-5.30zM243.32 155.41h5.30v6.03h-5.30zM248.60 155.41h5.30v6.03h-5.30zM275.00 155.41h5.30v6.03h-5.30zM280.28 155.41h5.30v6.03h-5.30zM290.83 155.41h5.30v6.03h-5.30zM333.07 155.41h5.30v6.03h-5.30zM375.30 155.41h5.30v6.03h-5.30zM385.86 155.41h5.30v6.03h-5.30zM433.37 155.41h5.30v6.03h-5.30zM454.48 155.41h5.30v6.03h-5.30zM486.16 155.41h5.30v6.03h-5.30zM496.71 155.41h5.30v6.03h-5.30zM501.99 155.41h5.30v6.03h-5.30zM538.95 155.41h5.30v6.03h-5.30zM549.50 155.41h5.30v6.03h-5.30zM48.00 161.42h5.30v6.03h-5.30zM79.67 161.42h5.30v6.03h-5.30zM121.91 161.42h5.30v6.03h-5.30zM127.19 161.42h5.30v6.03h-5.30zM132.46 161.42h5.30v6.03h-5.30zM201.09 161.42h5.30v6.03h-5.30zM285.56 161.42h5.30v6.03h-5.30zM317.23 161.42h5.30v6.03h-5.30zM348.90 161.42h5.30v6.03h-5.30zM380.58 161.42h5.30v6.03h-5.30zM385.86 161.42h5.30v6.03h-5.30zM396.41 161.42h5.30v6.03h-5.30zM417.53 161.42h5.30v6.03h-5.30zM422.81 161.42h5.30v6.03h-5.30zM459.76 161.42h5.30v6.03h-5.30zM465.04 161.42h5.30v6.03h-5.30zM517.83 161.42h5.30v6.03h-5.30zM84.95 167.44h5.30v6.03h-5.30zM111.35 167.44h5.30v6.03h-5.30zM116.63 167.44h5.30v6.03h-5.30zM185.25 167.44h5.30v6.03h-5.30zM253.88 167.44h5.30v6.03h-5.30zM285.56 167.44h5.30v6.03h-5.30zM306.67 167.44h5.30v6.03h-5.30zM317.23 167.44h5.30v6.03h-5.30zM359.46 167.44h5.30v6.03h-5.30zM385.86 167.44h5.30v6.03h-5.30zM401.69 167.44h5.30v6.03h-5.30zM428.09 167.44h5.30v6.03h-5.30zM449.20 167.44h5.30v6.03h-5.30zM454.48 167.44h5.30v6.03h-5.30zM459.76 167.44h5.30v6.03h-5.30zM491.44 167.44h5.30v6.03h-5.30zM69.12 173.45h5.30v6.03h-5.30zM90.23 173.45h5.30v6.03h-5.30zM127.19 173.45h5.30v6.03h-5.30zM164.14 173.45h5.30v6.03h-5.30zM216.93 173.45h5.30v6.03h-5.30zM317.23 173.45h5.30v6.03h-5.30zM338.34 173.45h5.30v6.03h-5.30zM348.90 173.45h5.30v6.03h-5.30zM354.18 173.45h5.30v6.03h-5.30zM380.58 173.45h5.30v6.03h-5.30zM385.86 173.45h5.30v6.03h-5.30zM486.16 173.45h5.30v6.03h-5.30zM507.27 173.45h5.30v6.03h-5.30zM111.35 179.47h5.30v6.03h-5.30zM158.86 179.47h5.30v6.03h-5.30zM185.25 179.47h5.30v6.03h-5.30zM206.37 179.47h5.30v6.03h-5.30zM211.65 179.47h5.30v6.03h-5.30zM216.93 179.47h5.30v6.03h-5.30zM243.32 179.47h5.30v6.03h-5.30zM280.28 179.47h5.30v6.03h-5.30zM285.56 179.47h5.30v6.03h-5.30zM296.11 179.47h5.30v6.03h-5.30zM306.67 179.47h5.30v6.03h-5.30zM311.95 179.47h5.30v6.03h-5.30zM327.79 179.47h5.30v6.03h-5.30zM359.46 179.47h5.30v6.03h-5.30zM417.53 179.47h5.30v6.03h-5.30zM428.09 179.47h5.30v6.03h-5.30zM449.20 179.47h5.30v6.03h-5.30zM465.04 179.47h5.30v6.03h-5.30zM480.88 179.47h5.30v6.03h-5.30zM501.99 179.47h5.30v6.03h-5.30zM565.34 179.47h5.30v6.03h-5.30zM90.23 185.48h5.30v6.03h-5.30zM137.74 185.48h5.30v6.03h-5.30zM164.14 185.48h5.30v6.03h-5.30zM206.37 185.48h5.30v6.03h-5.30zM222.21 185.48h5.30v6.03h-5.30zM227.49 185.48h5.30v6.03h-5.30zM238.04 185.48h5.30v6.03h-5.30zM280.28 185.48h5.30v6.03h-5.30zM348.90 185.48h5.30v6.03h-5.30zM354.18 185.48h5.30v6.03h-5.30zM375.30 185.48h5.30v6.03h-5.30zM380.58 185.48h5.30v6.03h-5.30zM428.09 185.48h5.30v6.03h-5.30zM433.37 185.48h5.30v6.03h-5.30zM449.20 185.48h5.30v6.03h-5.30zM459.76 185.48h5.30v6.03h-5.30zM465.04 185.48h5.30v6.03h-5.30zM480.88 185.48h5.30v6.03h-5.30zM486.16 185.48h5.30v6.03h-5.30zM507.27 185.48h5.30v6.03h-5.30zM517.83 185.48h5.30v6.03h-5.30zM53.28 191.50h5.30v6.03h-5.30zM100.79 191.50h5.30v6.03h-5.30zM158.86 191.50h5.30v6.03h-5.30zM201.09 191.50h5.30v6.03h-5.30zM222.21 191.50h5.30v6.03h-5.30zM227.49 191.50h5.30v6.03h-5.30zM238.04 191.50h5.30v6.03h-5.30zM253.88 191.50h5.30v6.03h-5.30zM269.72 191.50h5.30v6.03h-5.30zM285.56 191.50h5.30v6.03h-5.30zM327.79 191.50h5.30v6.03h-5.30zM359.46 191.50h5.30v6.03h-5.30zM364.74 191.50h5.30v6.03h-5.30zM370.02 191.50h5.30v6.03h-5.30zM406.97 191.50h5.30v6.03h-5.30zM422.81 191.50h5.30v6.03h-5.30zM475.60 191.50h5.30v6.03h-5.30zM486.16 191.50h5.30v6.03h-5.30zM69.12 197.51h5.30v6.03h-5.30zM100.79 197.51h5.30v6.03h-5.30zM143.02 197.51h5.30v6.03h-5.30zM164.14 197.51h5.30v6.03h-5.30zM179.97 197.51h5.30v6.03h-5.30zM238.04 197.51h5.30v6.03h-5.30zM259.16 197.51h5.30v6.03h-5.30zM264.44 197.51h5.30v6.03h-5.30zM285.56 197.51h5.30v6.03h-5.30zM290.83 197.51h5.30v6.03h-5.30zM311.95 197.51h5.30v6.03h-5.30zM354.18 197.51h5.30v6.03h-5.30zM396.41 197.51h5.30v6.03h-5.30zM401.69 197.51h5.30v6.03h-5.30zM406.97 197.51h5.30v6.03h-5.30zM465.04 197.51h5.30v6.03h-5.30zM470.32 197.51h5.30v6.03h-5.30zM517.83 197.51h5.30v6.03h-5.30zM528.39 197.51h5.30v6.03h-5.30zM554.78 197.51h5.30v6.03h-5.30zM137.74 203.53h5.30v6.03h-5.30zM153.58 203.53h5.30v6.03h-5.30zM211.65 203.53h5.30v6.03h-5.30zM222.21 203.53h5.30v6.03h-5.30zM227.49 203.53h5.30v6.03h-5.30zM238.04 203.53h5.30v6.03h-5.30zM264.44 203.53h5.30v6.03h-5.30zM280.28 203.53h5.30v6.03h-5.30zM296.11 203.53h5.30v6.03h-5.30zM333.07 203.53h5.30v6.03h-5.30zM338.34 203.53h5.30v6.03h-5.30zM391.13 203.53h5.30v6.03h-5.30zM428.09 203.53h5.30v6.03h-5.30zM443.93 203.53h5.30v6.03h-5.30zM449.20 203.53h5.30v6.03h-5.30zM459.76 203.53h5.30v6.03h-5.30zM465.04 203.53h5.30v6.03h-5.30zM486.16 203.53h5.30v6.03h-5.30zM512.55 203.53h5.30v6.03h-5.30zM517.83 203.53h5.30v6.03h-5.30zM549.50 203.53h5.30v6.03h-5.30zM111.35 209.54h5.30v6.03h-5.30zM169.42 209.54h5.30v6.03h-5.30zM206.37 209.54h5.30v6.03h-5.30zM211.65 209.54h5.30v6.03h-5.30zM238.04 209.54h5.30v6.03h-5.30zM275.00 209.54h5.30v6.03h-5.30zM285.56 209.54h5.30v6.03h-5.30zM311.95 209.54h5.30v6.03h-5.30zM327.79 209.54h5.30v6.03h-5.30zM406.97 209.54h5.30v6.03h-5.30zM412.25 209.54h5.30v6.03h-5.30zM454.48 209.54h5.30v6.03h-5.30zM459.76 209.54h5.30v6.03h-5.30zM501.99 209.54h5.30v6.03h-5.30zM528.39 209.54h5.30v6.03h-5.30zM533.67 209.54h5.30v6.03h-5.30zM538.95 209.54h5.30v6.03h-5.30zM549.50 209.54h5.30v6.03h-5.30zM58.56 215.56h5.30v6.03h-5.30zM100.79 215.56h5.30v6.03h-5.30zM111.35 215.56h5.30v6.03h-5.30zM153.58 215.56h5.30v6.03h-5.30zM158.86 215.56h5.30v6.03h-5.30zM201.09 215.56h5.30v6.03h-5.30zM259.16 215.56h5.30v6.03h-5.30zM264.44 215.56h5.30v6.03h-5.30zM285.56 215.56h5.30v6.03h-5.30zM306.67 215.56h5.30v6.03h-5.30zM317.23 215.56h5.30v6.03h-5.30zM322.51 215.56h5.30v6.03h-5.30zM327.79 215.56h5.30v6.03h-5.30zM333.07 215.56h5.30v6.03h-5.30zM359.46 215.56h5.30v6.03h-5.30zM375.30 215.56h5.30v6.03h-5.30zM380.58 215.56h5.30v6.03h-5.30zM422.81 215.56h5.30v6.03h-5.30zM470.32 215.56h5.30v6.03h-5.30zM501.99 215.56h5.30v6.03h-5.30zM90.23 221.57h5.30v6.03h-5.30zM95.51 221.57h5.30v6.03h-5.30zM127.19 221.57h5.30v6.03h-5.30zM143.02 221.57h5.30v6.03h-5.30zM158.86 221.57h5.30v6.03h-5.30zM201.09 221.57h5.30v6.03h-5.30zM232.76 221.57h5.30v6.03h-5.30zM264.44 221.57h5.30v6.03h-5.30zM380.58 221.57h5.30v6.03h-5.30zM396.41 221.57h5.30v6.03h-5.30zM422.81 221.57h5.30v6.03h-5.30zM443.93 221.57h5.30v6.03h-5.30zM459.76 221.57h5.30v6.03h-5.30zM465.04 221.57h5.30v6.03h-5.30zM501.99 221.57h5.30v6.03h-5.30zM507.27 221.57h5.30v6.03h-5.30zM528.39 221.57h5.30v6.03h-5.30zM560.06 221.57h5.30v6.03h-5.30zM48.00 227.59h5.30v6.03h-5.30zM53.28 227.59h5.30v6.03h-5.30zM100.79 227.59h5.30v6.03h-5.30zM137.74 227.59h5.30v6.03h-5.30zM164.14 227.59h5.30v6.03h-5.30zM185.25 227.59h5.30v6.03h-5.30zM190.53 227.59h5.30v6.03h-5.30zM201.09 227.59h5.30v6.03h-5.30zM206.37 227.59h5.30v6.03h-5.30zM211.65 227.59h5.30v6.03h-5.30zM216.93 227.59h5.30v6.03h-5.30zM232.76 227.59h5.30v6.03h-5.30zM264.44 227.59h5.30v6.03h-5.30zM269.72 227.59h5.30v6.03h-5.30zM280.28 227.59h5.30v6.03h-5.30zM296.11 227.59h5.30v6.03h-5.30zM322.51 227.59h5.30v6.03h-5.30zM385.86 227.59h5.30v6.03h-5.30zM391.13 227.59h5.30v6.03h-5.30zM396.41 227.59h5.30v6.03h-5.30zM422.81 227.59h5.30v6.03h-5.30zM433.37 227.59h5.30v6.03h-5.30zM465.04 227.59h5.30v6.03h-5.30zM470.32 227.59h5.30v6.03h-5.30zM486.16 227.59h5.30v6.03h-5.30zM496.71 227.59h5.30v6.03h-5.30zM501.99 227.59h5.30v6.03h-5.30zM549.50 227.59h5.30v6.03h-5.30zM560.06 227.59h5.30v6.03h-5.30zM121.91 233.60h5.30v6.03h-5.30zM137.74 233.60h5.30v6.03h-5.30zM164.14 233.60h5.30v6.03h-5.30zM190.53 233.60h5.30v6.03h-5.30zM232.76 233.60h5.30v6.03h-5.30zM253.88 233.60h5.30v6.03h-5.30zM259.16 233.60h5.30v6.03h-5.30zM296.11 233.60h5.30v6.03h-5.30zM306.67 233.60h5.30v6.03h-5.30zM333.07 233.60h5.30v6.03h-5.30zM348.90 233.60h5.30v6.03h-5.30zM364.74 233.60h5.30v6.03h-5.30zM396.41 233.60h5.30v6.03h-5.30zM417.53 233.60h5.30v6.03h-5.30zM449.20 233.60h5.30v6.03h-5.30zM454.48 233.60h5.30v6.03h-5.30zM480.88 233.60h5.30v6.03h-5.30zM486.16 233.60h5.30v6.03h-5.30zM507.27 233.60h5.30v6.03h-5.30zM512.55 233.60h5.30v6.03h-5.30zM549.50 233.60h5.30v6.03h-5.30zM63.84 239.62h5.30v6.03h-5.30zM79.67 239.62h5.30v6.03h-5.30zM95.51 239.62h5.30v6.03h-5.30zM111.35 239.62h5.30v6.03h-5.30zM148.30 239.62h5.30v6.03h-5.30zM195.81 239.62h5.30v6.03h-5.30zM206.37 239.62h5.30v6.03h-5.30zM216.93 239.62h5.30v6.03h-5.30zM238.04 239.62h5.30v6.03h-5.30zM253.88 239.62h5.30v6.03h-5.30zM259.16 239.62h5.30v6.03h-5.30zM322.51 239.62h5.30v6.03h-5.30zM327.79 239.62h5.30v6.03h-5.30zM338.34 239.62h5.30v6.03h-5.30zM343.62 239.62h5.30v6.03h-5.30zM364.74 239.62h5.30v6.03h-5.30zM370.02 239.62h5.30v6.03h-5.30zM417.53 239.62h5.30v6.03h-5.30zM454.48 239.62h5.30v6.03h-5.30zM496.71 239.62h5.30v6.03h-5.30zM512.55 239.62h5.30v6.03h-5.30zM538.95 239.62h5.30v6.03h-5.30zM84.95 245.63h5.30v6.03h-5.30zM100.79 245.63h5.30v6.03h-5.30zM132.46 245.63h5.30v6.03h-5.30zM148.30 245.63h5.30v6.03h-5.30zM185.25 245.63h5.30v6.03h-5.30zM238.04 245.63h5.30v6.03h-5.30zM248.60 245.63h5.30v6.03h-5.30zM269.72 245.63h5.30v6.03h-5.30zM280.28 245.63h5.30v6.03h-5.30zM333.07 245.63h5.30v6.03h-5.30zM338.34 245.63h5.30v6.03h-5.30zM359.46 245.63h5.30v6.03h-5.30zM375.30 245.63h5.30v6.03h-5.30zM396.41 245.63h5.30v6.03h-5.30zM417.53 245.63h5.30v6.03h-5.30zM428.09 245.63h5.30v6.03h-5.30zM433.37 245.63h5.30v6.03h-5.30zM459.76 245.63h5.30v6.03h-5.30zM475.60 245.63h5.30v6.03h-5.30zM507.27 245.63h5.30v6.03h-5.30zM523.11 245.63h5.30v6.03h-5.30zM538.95 245.63h5.30v6.03h-5.30zM544.23 245.63h5.30v6.03h-5.30zM148.30 251.65h5.30v6.03h-5.30zM153.58 251.65h5.30v6.03h-5.30zM285.56 251.65h5.30v6.03h-5.30zM296.11 251.65h5.30v6.03h-5.30zM306.67 251.65h5.30v6.03h-5.30zM322.51 251.65h5.30v6.03h-5.30zM338.34 251.65h5.30v6.03h-5.30zM380.58 251.65h5.30v6.03h-5.30zM401.69 251.65h5.30v6.03h-5.30zM449.20 251.65h5.30v6.03h-5.30zM470.32 251.65h5.30v6.03h-5.30zM486.16 251.65h5.30v6.03h-5.30zM501.99 251.65h5.30v6.03h-5.30zM507.27 251.65h5.30v6.03h-5.30zM528.39 251.65h5.30v6.03h-5.30zM533.67 251.65h5.30v6.03h-5.30zM544.23 251.65h5.30v6.03h-5.30zM100.79 257.66h5.30v6.03h-5.30zM106.07 257.66h5.30v6.03h-5.30zM121.91 257.66h5.30v6.03h-5.30zM143.02 257.66h5.30v6.03h-5.30zM174.70 257.66h5.30v6.03h-5.30zM195.81 257.66h5.30v6.03h-5.30zM232.76 257.66h5.30v6.03h-5.30zM259.16 257.66h5.30v6.03h-5.30zM264.44 257.66h5.30v6.03h-5.30zM296.11 257.66h5.30v6.03h-5.30zM338.34 257.66h5.30v6.03h-5.30zM354.18 257.66h5.30v6.03h-5.30zM375.30 257.66h5.30v6.03h-5.30zM380.58 257.66h5.30v6.03h-5.30zM401.69 257.66h5.30v6.03h-5.30zM454.48 257.66h5.30v6.03h-5.30zM517.83 257.66h5.30v6.03h-5.30zM538.95 257.66h5.30v6.03h-5.30zM544.23 257.66h5.30v6.03h-5.30zM554.78 257.66h5.30v6.03h-5.30zM560.06 257.66h5.30v6.03h-5.30zM95.51 263.68h5.30v6.03h-5.30zM127.19 263.68h5.30v6.03h-5.30zM132.46 263.68h5.30v6.03h-5.30zM137.74 263.68h5.30v6.03h-5.30zM158.86 263.68h5.30v6.03h-5.30zM174.70 263.68h5.30v6.03h-5.30zM201.09 263.68h5.30v6.03h-5.30zM206.37 263.68h5.30v6.03h-5.30zM253.88 263.68h5.30v6.03h-5.30zM280.28 263.68h5.30v6.03h-5.30zM290.83 263.68h5.30v6.03h-5.30zM333.07 263.68h5.30v6.03h-5.30zM343.62 263.68h5.30v6.03h-5.30zM348.90 263.68h5.30v6.03h-5.30zM370.02 263.68h5.30v6.03h-5.30zM396.41 263.68h5.30v6.03h-5.30zM406.97 263.68h5.30v6.03h-5.30zM417.53 263.68h5.30v6.03h-5.30zM428.09 263.68h5.30v6.03h-5.30zM433.37 263.68h5.30v6.03h-5.30zM438.65 263.68h5.30v6.03h-5.30zM454.48 263.68h5.30v6.03h-5.30zM465.04 263.68h5.30v6.03h-5.30zM507.27 263.68h5.30v6.03h-5.30zM512.55 263.68h5.30v6.03h-5.30zM549.50 263.68h5.30v6.03h-5.30zM570.62 263.68h5.30v6.03h-5.30zM69.12 269.69h5.30v6.03h-5.30zM132.46 269.69h5.30v6.03h-5.30zM169.42 269.69h5.30v6.03h-5.30zM174.70 269.69h5.30v6.03h-5.30zM185.25 269.69h5.30v6.03h-5.30zM238.04 269.69h5.30v6.03h-5.30zM301.39 269.69h5.30v6.03h-5.30zM317.23 269.69h5.30v6.03h-5.30zM354.18 269.69h5.30v6.03h-5.30zM364.74 269.69h5.30v6.03h-5.30zM370.02 269.69h5.30v6.03h-5.30zM491.44 269.69h5.30v6.03h-5.30zM512.55 269.69h5.30v6.03h-5.30zM533.67 269.69h5.30v6.03h-5.30zM549.50 269.69h5.30v6.03h-5.30zM554.78 269.69h5.30v6.03h-5.30zM90.23 275.71h5.30v6.03h-5.30zM132.46 275.71h5.30v6.03h-5.30zM143.02 275.71h5.30v6.03h-5.30zM179.97 275.71h5.30v6.03h-5.30zM232.76 275.71h5.30v6.03h-5.30zM248.60 275.71h5.30v6.03h-5.30zM253.88 275.71h5.30v6.03h-5.30zM301.39 275.71h5.30v6.03h-5.30zM311.95 275.71h5.30v6.03h-5.30zM317.23 275.71h5.30v6.03h-5.30zM333.07 275.71h5.30v6.03h-5.30zM354.18 275.71h5.30v6.03h-5.30zM391.13 275.71h5.30v6.03h-5.30zM438.65 275.71h5.30v6.03h-5.30zM454.48 275.71h5.30v6.03h-5.30zM491.44 275.71h5.30v6.03h-5.30zM501.99 275.71h5.30v6.03h-5.30zM544.23 275.71h5.30v6.03h-5.30zM554.78 275.71h5.30v6.03h-5.30zM79.67 281.72h5.30v6.03h-5.30zM121.91 281.72h5.30v6.03h-5.30zM195.81 281.72h5.30v6.03h-5.30zM243.32 281.72h5.30v6.03h-5.30zM248.60 281.72h5.30v6.03h-5.30zM259.16 281.72h5.30v6.03h-5.30zM269.72 281.72h5.30v6.03h-5.30zM275.00 281.72h5.30v6.03h-5.30zM327.79 281.72h5.30v6.03h-5.30zM348.90 281.72h5.30v6.03h-5.30zM401.69 281.72h5.30v6.03h-5.30zM406.97 281.72h5.30v6.03h-5.30zM422.81 281.72h5.30v6.03h-5.30zM465.04 281.72h5.30v6.03h-5.30zM486.16 281.72h5.30v6.03h-5.30zM491.44 281.72h5.30v6.03h-5.30zM512.55 281.72h5.30v6.03h-5.30zM517.83 281.72h5.30v6.03h-5.30zM523.11 281.72h5.30v6.03h-5.30zM544.23 281.72h5.30v6.03h-5.30zM58.56 287.74h5.30v6.03h-5.30zM74.39 287.74h5.30v6.03h-5.30zM143.02 287.74h5.30v6.03h-5.30zM174.70 287.74h5.30v6.03h-5.30zM206.37 287.74h5.30v6.03h-5.30zM216.93 287.74h5.30v6.03h-5.30zM285.56 287.74h5.30v6.03h-5.30zM301.39 287.74h5.30v6.03h-5.30zM343.62 287.74h5.30v6.03h-5.30zM391.13 287.74h5.30v6.03h-5.30zM396.41 287.74h5.30v6.03h-5.30zM401.69 287.74h5.30v6.03h-5.30zM454.48 287.74h5.30v6.03h-5.30zM465.04 287.74h5.30v6.03h-5.30zM470.32 287.74h5.30v6.03h-5.30zM486.16 287.74h5.30v6.03h-5.30zM496.71 287.74h5.30v6.03h-5.30zM501.99 287.74h5.30v6.03h-5.30zM507.27 287.74h5.30v6.03h-5.30zM512.55 287.74h5.30v6.03h-5.30zM538.95 287.74h5.30v6.03h-5.30zM549.50 287.74h5.30v6.03h-5.30zM554.78 287.74h5.30v6.03h-5.30zM100.79 293.75h5.30v6.03h-5.30zM169.42 293.75h5.30v6.03h-5.30zM211.65 293.75h5.30v6.03h-5.30zM248.60 293.75h5.30v6.03h-5.30zM285.56 293.75h5.30v6.03h-5.30zM296.11 293.75h5.30v6.03h-5.30zM311.95 293.75h5.30v6.03h-5.30zM338.34 293.75h5.30v6.03h-5.30zM348.90 293.75h5.30v6.03h-5.30zM412.25 293.75h5.30v6.03h-5.30zM417.53 293.75h5.30v6.03h-5.30zM422.81 293.75h5.30v6.03h-5.30zM428.09 293.75h5.30v6.03h-5.30zM470.32 293.75h5.30v6.03h-5.30zM480.88 293.75h5.30v6.03h-5.30zM486.16 293.75h5.30v6.03h-5.30zM491.44 293.75h5.30v6.03h-5.30zM496.71 293.75h5.30v6.03h-5.30zM512.55 293.75h5.30v6.03h-5.30zM517.83 293.75h5.30v6.03h-5.30zM533.67 293.75h5.30v6.03h-5.30zM560.06 293.75h5.30v6.03h-5.30zM565.34 293.75h5.30v6.03h-5.30zM63.84 299.77h5.30v6.03h-5.30zM111.35 299.77h5.30v6.03h-5.30zM121.91 299.77h5.30v6.03h-5.30zM211.65 299.77h5.30v6.03h-5.30zM243.32 299.77h5.30v6.03h-5.30zM253.88 299.77h5.30v6.03h-5.30zM275.00 299.77h5.30v6.03h-5.30zM311.95 299.77h5.30v6.03h-5.30zM317.23 299.77h5.30v6.03h-5.30zM338.34 299.77h5.30v6.03h-5.30zM401.69 299.77h5.30v6.03h-5.30zM433.37 299.77h5.30v6.03h-5.30zM443.93 299.77h5.30v6.03h-5.30zM449.20 299.77h5.30v6.03h-5.30zM459.76 299.77h5.30v6.03h-5.30zM470.32 299.77h5.30v6.03h-5.30zM475.60 299.77h5.30v6.03h-5.30zM501.99 299.77h5.30v6.03h-5.30zM523.11 299.77h5.30v6.03h-5.30zM528.39 299.77h5.30v6.03h-5.30zM533.67 299.77h5.30v6.03h-5.30zM538.95 299.77h5.30v6.03h-5.30zM544.23 299.77h5.30v6.03h-5.30zM549.50 299.77h5.30v6.03h-5.30zM554.78 299.77h5.30v6.03h-5.30zM560.06 299.77h5.30v6.03h-5.30zM58.56 305.78h5.30v6.03h-5.30zM74.39 305.78h5.30v6.03h-5.30zM90.23 305.78h5.30v6.03h-5.30zM111.35 305.78h5.30v6.03h-5.30zM127.19 305.78h5.30v6.03h-5.30zM179.97 305.78h5.30v6.03h-5.30zM216.93 305.78h5.30v6.03h-5.30zM243.32 305.78h5.30v6.03h-5.30zM259.16 305.78h5.30v6.03h-5.30zM311.95 305.78h5.30v6.03h-5.30zM317.23 305.78h5.30v6.03h-5.30zM359.46 305.78h5.30v6.03h-5.30zM370.02 305.78h5.30v6.03h-5.30zM380.58 305.78h5.30v6.03h-5.30zM401.69 305.78h5.30v6.03h-5.30zM428.09 305.78h5.30v6.03h-5.30zM433.37 305.78h5.30v6.03h-5.30zM454.48 305.78h5.30v6.03h-5.30zM465.04 305.78h5.30v6.03h-5.30zM470.32 305.78h5.30v6.03h-5.30zM517.83 305.78h5.30v6.03h-5.30zM528.39 305.78h5.30v6.03h-5.30zM554.78 305.78h5.30v6.03h-5.30zM560.06 305.78h5.30v6.03h-5.30zM63.84 311.80h5.30v6.03h-5.30zM79.67 311.80h5.30v6.03h-5.30zM95.51 311.80h5.30v6.03h-5.30zM121.91 311.80h5.30v6.03h-5.30zM132.46 311.80h5.30v6.03h-5.30zM143.02 311.80h5.30v6.03h-5.30zM232.76 311.80h5.30v6.03h-5.30zM269.72 311.80h5.30v6.03h-5.30zM290.83 311.80h5.30v6.03h-5.30zM348.90 311.80h5.30v6.03h-5.30zM354.18 311.80h5.30v6.03h-5.30zM359.46 311.80h5.30v6.03h-5.30zM380.58 311.80h5.30v6.03h-5.30zM401.69 311.80h5.30v6.03h-5.30zM406.97 311.80h5.30v6.03h-5.30zM438.65 311.80h5.30v6.03h-5.30zM454.48 311.80h5.30v6.03h-5.30zM459.76 311.80h5.30v6.03h-5.30zM470.32 311.80h5.30v6.03h-5.30zM480.88 311.80h5.30v6.03h-5.30zM486.16 311.80h5.30v6.03h-5.30zM507.27 311.80h5.30v6.03h-5.30zM512.55 311.80h5.30v6.03h-5.30zM528.39 311.80h5.30v6.03h-5.30zM565.34 311.80h5.30v6.03h-5.30zM143.02 317.81h5.30v6.03h-5.30zM232.76 317.81h5.30v6.03h-5.30zM243.32 317.81h5.30v6.03h-5.30zM259.16 317.81h5.30v6.03h-5.30zM275.00 317.81h5.30v6.03h-5.30zM343.62 317.81h5.30v6.03h-5.30zM354.18 317.81h5.30v6.03h-5.30zM396.41 317.81h5.30v6.03h-5.30zM406.97 317.81h5.30v6.03h-5.30zM433.37 317.81h5.30v6.03h-5.30zM449.20 317.81h5.30v6.03h-5.30zM486.16 317.81h5.30v6.03h-5.30zM496.71 317.81h5.30v6.03h-5.30zM507.27 317.81h5.30v6.03h-5.30zM523.11 317.81h5.30v6.03h-5.30zM538.95 317.81h5.30v6.03h-5.30zM544.23 317.81h5.30v6.03h-5.30zM132.46 323.83h5.30v6.03h-5.30zM143.02 323.83h5.30v6.03h-5.30zM148.30 323.83h5.30v6.03h-5.30zM190.53 323.83h5.30v6.03h-5.30zM195.81 323.83h5.30v6.03h-5.30zM206.37 323.83h5.30v6.03h-5.30zM259.16 323.83h5.30v6.03h-5.30zM275.00 323.83h5.30v6.03h-5.30zM380.58 323.83h5.30v6.03h-5.30zM391.13 323.83h5.30v6.03h-5.30zM412.25 323.83h5.30v6.03h-5.30zM422.81 323.83h5.30v6.03h-5.30zM433.37 323.83h5.30v6.03h-5.30zM454.48 323.83h5.30v6.03h-5.30zM465.04 323.83h5.30v6.03h-5.30zM470.32 323.83h5.30v6.03h-5.30zM533.67 323.83h5.30v6.03h-5.30zM538.95 323.83h5.30v6.03h-5.30zM554.78 323.83h5.30v6.03h-5.30zM58.56 329.84h5.30v6.03h-5.30zM111.35 329.84h5.30v6.03h-5.30zM127.19 329.84h5.30v6.03h-5.30zM169.42 329.84h5.30v6.03h-5.30zM216.93 329.84h5.30v6.03h-5.30zM259.16 329.84h5.30v6.03h-5.30zM317.23 329.84h5.30v6.03h-5.30zM327.79 329.84h5.30v6.03h-5.30zM380.58 329.84h5.30v6.03h-5.30zM433.37 329.84h5.30v6.03h-5.30zM443.93 329.84h5.30v6.03h-5.30zM475.60 329.84h5.30v6.03h-5.30zM512.55 329.84h5.30v6.03h-5.30zM517.83 329.84h5.30v6.03h-5.30zM528.39 329.84h5.30v6.03h-5.30zM533.67 329.84h5.30v6.03h-5.30zM538.95 329.84h5.30v6.03h-5.30zM53.28 335.86h5.30v6.03h-5.30zM69.12 335.86h5.30v6.03h-5.30zM90.23 335.86h5.30v6.03h-5.30zM158.86 335.86h5.30v6.03h-5.30zM343.62 335.86h5.30v6.03h-5.30zM433.37 335.86h5.30v6.03h-5.30zM438.65 335.86h5.30v6.03h-5.30zM443.93 335.86h5.30v6.03h-5.30zM491.44 335.86h5.30v6.03h-5.30zM496.71 335.86h5.30v6.03h-5.30zM544.23 335.86h5.30v6.03h-5.30zM79.67 341.87h5.30v6.03h-5.30zM106.07 341.87h5.30v6.03h-5.30zM127.19 341.87h5.30v6.03h-5.30zM132.46 341.87h5.30v6.03h-5.30zM169.42 341.87h5.30v6.03h-5.30zM190.53 341.87h5.30v6.03h-5.30zM253.88 341.87h5.30v6.03h-5.30zM275.00 341.87h5.30v6.03h-5.30zM285.56 341.87h5.30v6.03h-5.30zM290.83 341.87h5.30v6.03h-5.30zM296.11 341.87h5.30v6.03h-5.30zM301.39 341.87h5.30v6.03h-5.30zM338.34 341.87h5.30v6.03h-5.30zM359.46 341.87h5.30v6.03h-5.30zM370.02 341.87h5.30v6.03h-5.30zM385.86 341.87h5.30v6.03h-5.30zM412.25 341.87h5.30v6.03h-5.30zM422.81 341.87h5.30v6.03h-5.30zM428.09 341.87h5.30v6.03h-5.30zM433.37 341.87h5.30v6.03h-5.30zM538.95 341.87h5.30v6.03h-5.30zM79.67 347.89h5.30v6.03h-5.30zM90.23 347.89h5.30v6.03h-5.30zM106.07 347.89h5.30v6.03h-5.30zM158.86 347.89h5.30v6.03h-5.30zM179.97 347.89h5.30v6.03h-5.30zM253.88 347.89h5.30v6.03h-5.30zM269.72 347.89h5.30v6.03h-5.30zM338.34 347.89h5.30v6.03h-5.30zM343.62 347.89h5.30v6.03h-5.30zM348.90 347.89h5.30v6.03h-5.30zM359.46 347.89h5.30v6.03h-5.30zM370.02 347.89h5.30v6.03h-5.30zM380.58 347.89h5.30v6.03h-5.30zM438.65 347.89h5.30v6.03h-5.30zM459.76 347.89h5.30v6.03h-5.30zM475.60 347.89h5.30v6.03h-5.30zM496.71 347.89h5.30v6.03h-5.30zM512.55 347.89h5.30v6.03h-5.30zM523.11 347.89h5.30v6.03h-5.30zM565.34 347.89h5.30v6.03h-5.30z"/>
<path fill="#f3714d" d="M100.79 71.20h5.30v6.03h-5.30zM179.97 71.20h5.30v6.03h-5.30zM206.37 71.20h5.30v6.03h-5.30zM290.83 71.20h5.30v6.03h-5.30zM406.97 71.20h5.30v6.03h-5.30zM449.20 71.20h5.30v6.03h-5.30zM544.23 71.20h5.30v6.03h-5.30zM554.78 71.20h5.30v6.03h-5.30zM190.53 77.21h5.30v6.03h-5.30zM195.81 77.21h5.30v6.03h-5.30zM253.88 77.21h5.30v6.03h-5.30zM338.34 77.21h5.30v6.03h-5.30zM354.18 77.21h5.30v6.03h-5.30zM459.76 77.21h5.30v6.03h-5.30zM465.04 77.21h5.30v6.03h-5.30zM544.23 77.21h5.30v6.03h-5.30zM74.39 83.23h5.30v6.03h-5.30zM79.67 83.23h5.30v6.03h-5.30zM111.35 83.23h5.30v6.03h-5.30zM206.37 83.23h5.30v6.03h-5.30zM216.93 83.23h5.30v6.03h-5.30zM280.28 83.23h5.30v6.03h-5.30zM465.04 83.23h5.30v6.03h-5.30zM523.11 83.23h5.30v6.03h-5.30zM528.39 83.23h5.30v6.03h-5.30zM533.67 83.23h5.30v6.03h-5.30zM544.23 83.23h5.30v6.03h-5.30zM554.78 83.23h5.30v6.03h-5.30zM121.91 89.24h5.30v6.03h-5.30zM179.97 89.24h5.30v6.03h-5.30zM253.88 89.24h5.30v6.03h-5.30zM275.00 89.24h5.30v6.03h-5.30zM354.18 89.24h5.30v6.03h-5.30zM370.02 89.24h5.30v6.03h-5.30zM401.69 89.24h5.30v6.03h-5.30zM422.81 89.24h5.30v6.03h-5.30zM491.44 89.24h5.30v6.03h-5.30zM512.55 89.24h5.30v6.03h-5.30zM533.67 89.24h5.30v6.03h-5.30zM544.23 89.24h5.30v6.03h-5.30zM549.50 89.24h5.30v6.03h-5.30zM58.56 95.26h5.30v6.03h-5.30zM69.12 95.26h5.30v6.03h-5.30zM84.95 95.26h5.30v6.03h-5.30zM106.07 95.26h5.30v6.03h-5.30zM116.63 95.26h5.30v6.03h-5.30zM253.88 95.26h5.30v6.03h-5.30zM348.90 95.26h5.30v6.03h-5.30zM354.18 95.26h5.30v6.03h-5.30zM364.74 95.26h5.30v6.03h-5.30zM401.69 95.26h5.30v6.03h-5.30zM512.55 95.26h5.30v6.03h-5.30zM544.23 95.26h5.30v6.03h-5.30zM554.78 95.26h5.30v6.03h-5.30zM53.28 101.27h5.30v6.03h-5.30zM84.95 101.27h5.30v6.03h-5.30zM106.07 101.27h5.30v6.03h-5.30zM121.91 101.27h5.30v6.03h-5.30zM190.53 101.27h5.30v6.03h-5.30zM285.56 101.27h5.30v6.03h-5.30zM322.51 101.27h5.30v6.03h-5.30zM401.69 101.27h5.30v6.03h-5.30zM417.53 101.27h5.30v6.03h-5.30zM454.48 101.27h5.30v6.03h-5.30zM501.99 101.27h5.30v6.03h-5.30zM507.27 101.27h5.30v6.03h-5.30zM148.30 107.29h5.30v6.03h-5.30zM248.60 107.29h5.30v6.03h-5.30zM253.88 107.29h5.30v6.03h-5.30zM275.00 107.29h5.30v6.03h-5.30zM317.23 107.29h5.30v6.03h-5.30zM354.18 107.29h5.30v6.03h-5.30zM375.30 107.29h5.30v6.03h-5.30zM406.97 107.29h5.30v6.03h-5.30zM443.93 107.29h5.30v6.03h-5.30zM501.99 107.29h5.30v6.03h-5.30zM512.55 107.29h5.30v6.03h-5.30zM517.83 107.29h5.30v6.03h-5.30zM538.95 107.29h5.30v6.03h-5.30zM554.78 107.29h5.30v6.03h-5.30zM116.63 113.30h5.30v6.03h-5.30zM121.91 113.30h5.30v6.03h-5.30zM211.65 113.30h5.30v6.03h-5.30zM259.16 113.30h5.30v6.03h-5.30zM264.44 113.30h5.30v6.03h-5.30zM301.39 113.30h5.30v6.03h-5.30zM380.58 113.30h5.30v6.03h-5.30zM417.53 113.30h5.30v6.03h-5.30zM512.55 113.30h5.30v6.03h-5.30zM517.83 113.30h5.30v6.03h-5.30zM560.06 113.30h5.30v6.03h-5.30zM264.44 119.32h5.30v6.03h-5.30zM338.34 119.32h5.30v6.03h-5.30zM364.74 119.32h5.30v6.03h-5.30zM385.86 119.32h5.30v6.03h-5.30zM391.13 119.32h5.30v6.03h-5.30zM512.55 119.32h5.30v6.03h-5.30zM560.06 119.32h5.30v6.03h-5.30zM565.34 119.32h5.30v6.03h-5.30zM169.42 125.33h5.30v6.03h-5.30zM280.28 125.33h5.30v6.03h-5.30zM301.39 125.33h5.30v6.03h-5.30zM364.74 125.33h5.30v6.03h-5.30zM412.25 125.33h5.30v6.03h-5.30zM417.53 125.33h5.30v6.03h-5.30zM443.93 125.33h5.30v6.03h-5.30zM554.78 125.33h5.30v6.03h-5.30zM565.34 125.33h5.30v6.03h-5.30zM333.07 131.35h5.30v6.03h-5.30zM375.30 131.35h5.30v6.03h-5.30zM454.48 131.35h5.30v6.03h-5.30zM48.00 137.36h5.30v6.03h-5.30zM58.56 137.36h5.30v6.03h-5.30zM79.67 137.36h5.30v6.03h-5.30zM158.86 137.36h5.30v6.03h-5.30zM174.70 137.36h5.30v6.03h-5.30zM248.60 137.36h5.30v6.03h-5.30zM253.88 137.36h5.30v6.03h-5.30zM348.90 137.36h5.30v6.03h-5.30zM364.74 137.36h5.30v6.03h-5.30zM438.65 137.36h5.30v6.03h-5.30zM449.20 137.36h5.30v6.03h-5.30zM465.04 137.36h5.30v6.03h-5.30zM507.27 137.36h5.30v6.03h-5.30zM570.62 137.36h5.30v6.03h-5.30zM106.07 143.38h5.30v6.03h-5.30zM132.46 143.38h5.30v6.03h-5.30zM164.14 143.38h5.30v6.03h-5.30zM185.25 143.38h5.30v6.03h-5.30zM190.53 143.38h5.30v6.03h-5.30zM227.49 143.38h5.30v6.03h-5.30zM232.76 143.38h5.30v6.03h-5.30zM370.02 143.38h5.30v6.03h-5.30zM375.30 143.38h5.30v6.03h-5.30zM385.86 143.38h5.30v6.03h-5.30zM449.20 143.38h5.30v6.03h-5.30zM470.32 143.38h5.30v6.03h-5.30zM480.88 143.38h5.30v6.03h-5.30zM512.55 143.38h5.30v6.03h-5.30zM533.67 143.38h5.30v6.03h-5.30zM206.37 149.39h5.30v6.03h-5.30zM216.93 149.39h5.30v6.03h-5.30zM406.97 149.39h5.30v6.03h-5.30zM412.25 149.39h5.30v6.03h-5.30zM454.48 149.39h5.30v6.03h-5.30zM470.32 149.39h5.30v6.03h-5.30zM507.27 149.39h5.30v6.03h-5.30zM554.78 149.39h5.30v6.03h-5.30zM232.76 155.41h5.30v6.03h-5.30zM259.16 155.41h5.30v6.03h-5.30zM327.79 155.41h5.30v6.03h-5.30zM422.81 155.41h5.30v6.03h-5.30zM443.93 155.41h5.30v6.03h-5.30zM470.32 155.41h5.30v6.03h-5.30zM507.27 155.41h5.30v6.03h-5.30zM544.23 155.41h5.30v6.03h-5.30zM148.30 161.42h5.30v6.03h-5.30zM280.28 161.42h5.30v6.03h-5.30zM290.83 161.42h5.30v6.03h-5.30zM296.11 161.42h5.30v6.03h-5.30zM322.51 161.42h5.30v6.03h-5.30zM327.79 161.42h5.30v6.03h-5.30zM333.07 161.42h5.30v6.03h-5.30zM443.93 161.42h5.30v6.03h-5.30zM480.88 161.42h5.30v6.03h-5.30zM127.19 167.44h5.30v6.03h-5.30zM143.02 167.44h5.30v6.03h-5.30zM148.30 167.44h5.30v6.03h-5.30zM190.53 167.44h5.30v6.03h-5.30zM211.65 167.44h5.30v6.03h-5.30zM327.79 167.44h5.30v6.03h-5.30zM465.04 167.44h5.30v6.03h-5.30zM137.74 173.45h5.30v6.03h-5.30zM211.65 173.45h5.30v6.03h-5.30zM280.28 173.45h5.30v6.03h-5.30zM296.11 173.45h5.30v6.03h-5.30zM306.67 173.45h5.30v6.03h-5.30zM311.95 173.45h5.30v6.03h-5.30zM322.51 173.45h5.30v6.03h-5.30zM333.07 173.45h5.30v6.03h-5.30zM364.74 173.45h5.30v6.03h-5.30zM412.25 173.45h5.30v6.03h-5.30zM459.76 173.45h5.30v6.03h-5.30zM116.63 179.47h5.30v6.03h-5.30zM121.91 179.47h5.30v6.03h-5.30zM174.70 179.47h5.30v6.03h-5.30zM317.23 179.47h5.30v6.03h-5.30zM333.07 179.47h5.30v6.03h-5.30zM338.34 179.47h5.30v6.03h-5.30zM375.30 179.47h5.30v6.03h-5.30zM422.81 179.47h5.30v6.03h-5.30zM459.76 179.47h5.30v6.03h-5.30zM470.32 179.47h5.30v6.03h-5.30zM69.12 185.48h5.30v6.03h-5.30zM153.58 185.48h5.30v6.03h-5.30zM253.88 185.48h5.30v6.03h-5.30zM264.44 185.48h5.30v6.03h-5.30zM285.56 185.48h5.30v6.03h-5.30zM296.11 185.48h5.30v6.03h-5.30zM338.34 185.48h5.30v6.03h-5.30zM343.62 185.48h5.30v6.03h-5.30zM359.46 185.48h5.30v6.03h-5.30zM132.46 191.50h5.30v6.03h-5.30zM143.02 191.50h5.30v6.03h-5.30zM179.97 191.50h5.30v6.03h-5.30zM290.83 191.50h5.30v6.03h-5.30zM301.39 191.50h5.30v6.03h-5.30zM322.51 191.50h5.30v6.03h-5.30zM449.20 191.50h5.30v6.03h-5.30zM459.76 191.50h5.30v6.03h-5.30zM480.88 191.50h5.30v6.03h-5.30zM501.99 191.50h5.30v6.03h-5.30zM512.55 191.50h5.30v6.03h-5.30zM132.46 197.51h5.30v6.03h-5.30zM148.30 197.51h5.30v6.03h-5.30zM153.58 197.51h5.30v6.03h-5.30zM253.88 197.51h5.30v6.03h-5.30zM296.11 197.51h5.30v6.03h-5.30zM306.67 197.51h5.30v6.03h-5.30zM348.90 197.51h5.30v6.03h-5.30zM375.30 197.51h5.30v6.03h-5.30zM422.81 197.51h5.30v6.03h-5.30zM428.09 197.51h5.30v6.03h-5.30zM195.81 203.53h5.30v6.03h-5.30zM327.79 203.53h5.30v6.03h-5.30zM348.90 203.53h5.30v6.03h-5.30zM454.48 203.53h5.30v6.03h-5.30zM533.67 203.53h5.30v6.03h-5.30zM554.78 203.53h5.30v6.03h-5.30zM127.19 209.54h5.30v6.03h-5.30zM264.44 209.54h5.30v6.03h-5.30zM317.23 209.54h5.30v6.03h-5.30zM354.18 209.54h5.30v6.03h-5.30zM396.41 209.54h5.30v6.03h-5.30zM428.09 209.54h5.30v6.03h-5.30zM470.32 209.54h5.30v6.03h-5.30zM517.83 209.54h5.30v6.03h-5.30zM74.39 215.56h5.30v6.03h-5.30zM206.37 215.56h5.30v6.03h-5.30zM211.65 215.56h5.30v6.03h-5.30zM238.04 215.56h5.30v6.03h-5.30zM296.11 215.56h5.30v6.03h-5.30zM311.95 215.56h5.30v6.03h-5.30zM449.20 215.56h5.30v6.03h-5.30zM480.88 215.56h5.30v6.03h-5.30zM100.79 221.57h5.30v6.03h-5.30zM211.65 221.57h5.30v6.03h-5.30zM227.49 221.57h5.30v6.03h-5.30zM275.00 221.57h5.30v6.03h-5.30zM301.39 221.57h5.30v6.03h-5.30zM348.90 221.57h5.30v6.03h-5.30zM354.18 221.57h5.30v6.03h-5.30zM454.48 221.57h5.30v6.03h-5.30zM480.88 221.57h5.30v6.03h-5.30zM486.16 221.57h5.30v6.03h-5.30zM538.95 221.57h5.30v6.03h-5.30zM132.46 227.59h5.30v6.03h-5.30zM153.58 227.59h5.30v6.03h-5.30zM174.70 227.59h5.30v6.03h-5.30zM222.21 227.59h5.30v6.03h-5.30zM290.83 227.59h5.30v6.03h-5.30zM306.67 227.59h5.30v6.03h-5.30zM317.23 227.59h5.30v6.03h-5.30zM348.90 227.59h5.30v6.03h-5.30zM354.18 227.59h5.30v6.03h-5.30zM359.46 227.59h5.30v6.03h-5.30zM364.74 227.59h5.30v6.03h-5.30zM449.20 227.59h5.30v6.03h-5.30zM459.76 227.59h5.30v6.03h-5.30zM523.11 227.59h5.30v6.03h-5.30zM84.95 233.60h5.30v6.03h-5.30zM285.56 233.60h5.30v6.03h-5.30zM290.83 233.60h5.30v6.03h-5.30zM327.79 233.60h5.30v6.03h-5.30zM338.34 233.60h5.30v6.03h-5.30zM375.30 233.60h5.30v6.03h-5.30zM433.37 233.60h5.30v6.03h-5.30zM443.93 233.60h5.30v6.03h-5.30zM459.76 233.60h5.30v6.03h-5.30zM538.95 233.60h5.30v6.03h-5.30zM58.56 239.62h5.30v6.03h-5.30zM348.90 239.62h5.30v6.03h-5.30zM359.46 239.62h5.30v6.03h-5.30zM375.30 239.62h5.30v6.03h-5.30zM470.32 239.62h5.30v6.03h-5.30zM533.67 239.62h5.30v6.03h-5.30zM63.84 245.63h5.30v6.03h-5.30zM127.19 245.63h5.30v6.03h-5.30zM232.76 245.63h5.30v6.03h-5.30zM406.97 245.63h5.30v6.03h-5.30zM443.93 245.63h5.30v6.03h-5.30zM470.32 245.63h5.30v6.03h-5.30zM554.78 245.63h5.30v6.03h-5.30zM84.95 251.65h5.30v6.03h-5.30zM106.07 251.65h5.30v6.03h-5.30zM164.14 251.65h5.30v6.03h-5.30zM238.04 251.65h5.30v6.03h-5.30zM364.74 251.65h5.30v6.03h-5.30zM375.30 251.65h5.30v6.03h-5.30zM385.86 251.65h5.30v6.03h-5.30zM428.09 251.65h5.30v6.03h-5.30zM433.37 251.65h5.30v6.03h-5.30zM454.48 251.65h5.30v6.03h-5.30zM459.76 251.65h5.30v6.03h-5.30zM475.60 251.65h5.30v6.03h-5.30zM359.46 257.66h5.30v6.03h-5.30zM459.76 257.66h5.30v6.03h-5.30zM486.16 257.66h5.30v6.03h-5.30zM491.44 257.66h5.30v6.03h-5.30zM512.55 257.66h5.30v6.03h-5.30zM301.39 263.68h5.30v6.03h-5.30zM327.79 263.68h5.30v6.03h-5.30zM338.34 263.68h5.30v6.03h-5.30zM359.46 263.68h5.30v6.03h-5.30zM443.93 263.68h5.30v6.03h-5.30zM459.76 263.68h5.30v6.03h-5.30zM475.60 263.68h5.30v6.03h-5.30zM486.16 263.68h5.30v6.03h-5.30zM496.71 263.68h5.30v6.03h-5.30zM554.78 263.68h5.30v6.03h-5.30zM560.06 263.68h5.30v6.03h-5.30zM90.23 269.69h5.30v6.03h-5.30zM243.32 269.69h5.30v6.03h-5.30zM248.60 269.69h5.30v6.03h-5.30zM253.88 269.69h5.30v6.03h-5.30zM359.46 269.69h5.30v6.03h-5.30zM433.37 269.69h5.30v6.03h-5.30zM470.32 269.69h5.30v6.03h-5.30zM507.27 269.69h5.30v6.03h-5.30zM517.83 269.69h5.30v6.03h-5.30zM528.39 269.69h5.30v6.03h-5.30zM153.58 275.71h5.30v6.03h-5.30zM174.70 275.71h5.30v6.03h-5.30zM185.25 275.71h5.30v6.03h-5.30zM507.27 275.71h5.30v6.03h-5.30zM533.67 275.71h5.30v6.03h-5.30zM74.39 281.72h5.30v6.03h-5.30zM111.35 281.72h5.30v6.03h-5.30zM143.02 281.72h5.30v6.03h-5.30zM169.42 281.72h5.30v6.03h-5.30zM396.41 281.72h5.30v6.03h-5.30zM475.60 281.72h5.30v6.03h-5.30zM496.71 281.72h5.30v6.03h-5.30zM501.99 281.72h5.30v6.03h-5.30zM507.27 281.72h5.30v6.03h-5.30zM69.12 287.74h5.30v6.03h-5.30zM90.23 287.74h5.30v6.03h-5.30zM111.35 287.74h5.30v6.03h-5.30zM179.97 287.74h5.30v6.03h-5.30zM243.32 287.74h5.30v6.03h-5.30zM253.88 287.74h5.30v6.03h-5.30zM296.11 287.74h5.30v6.03h-5.30zM359.46 287.74h5.30v6.03h-5.30zM132.46 293.75h5.30v6.03h-5.30zM243.32 293.75h5.30v6.03h-5.30zM253.88 293.75h5.30v6.03h-5.30zM301.39 293.75h5.30v6.03h-5.30zM354.18 293.75h5.30v6.03h-5.30zM359.46 293.75h5.30v6.03h-5.30zM364.74 293.75h5.30v6.03h-5.30zM391.13 293.75h5.30v6.03h-5.30zM433.37 293.75h5.30v6.03h-5.30zM438.65 293.75h5.30v6.03h-5.30zM523.11 293.75h5.30v6.03h-5.30zM528.39 293.75h5.30v6.03h-5.30zM169.42 299.77h5.30v6.03h-5.30zM174.70 299.77h5.30v6.03h-5.30zM195.81 299.77h5.30v6.03h-5.30zM348.90 299.77h5.30v6.03h-5.30zM375.30 299.77h5.30v6.03h-5.30zM412.25 299.77h5.30v6.03h-5.30zM438.65 299.77h5.30v6.03h-5.30zM496.71 299.77h5.30v6.03h-5.30zM565.34 299.77h5.30v6.03h-5.30zM121.91 305.78h5.30v6.03h-5.30zM158.86 305.78h5.30v6.03h-5.30zM211.65 305.78h5.30v6.03h-5.30zM238.04 305.78h5.30v6.03h-5.30zM275.00 305.78h5.30v6.03h-5.30zM322.51 305.78h5.30v6.03h-5.30zM354.18 305.78h5.30v6.03h-5.30zM422.81 305.78h5.30v6.03h-5.30zM69.12 311.80h5.30v6.03h-5.30zM169.42 311.80h5.30v6.03h-5.30zM174.70 311.80h5.30v6.03h-5.30zM391.13 311.80h5.30v6.03h-5.30zM496.71 311.80h5.30v6.03h-5.30zM544.23 311.80h5.30v6.03h-5.30zM554.78 311.80h5.30v6.03h-5.30zM338.34 317.81h5.30v6.03h-5.30zM385.86 317.81h5.30v6.03h-5.30zM422.81 317.81h5.30v6.03h-5.30zM428.09 317.81h5.30v6.03h-5.30zM438.65 317.81h5.30v6.03h-5.30zM480.88 317.81h5.30v6.03h-5.30zM491.44 317.81h5.30v6.03h-5.30zM528.39 317.81h5.30v6.03h-5.30zM533.67 317.81h5.30v6.03h-5.30zM554.78 317.81h5.30v6.03h-5.30zM111.35 323.83h5.30v6.03h-5.30zM127.19 323.83h5.30v6.03h-5.30zM174.70 323.83h5.30v6.03h-5.30zM253.88 323.83h5.30v6.03h-5.30zM264.44 323.83h5.30v6.03h-5.30zM285.56 323.83h5.30v6.03h-5.30zM296.11 323.83h5.30v6.03h-5.30zM327.79 323.83h5.30v6.03h-5.30zM401.69 323.83h5.30v6.03h-5.30zM417.53 323.83h5.30v6.03h-5.30zM486.16 323.83h5.30v6.03h-5.30zM401.69 329.84h5.30v6.03h-5.30zM406.97 329.84h5.30v6.03h-5.30zM412.25 329.84h5.30v6.03h-5.30zM549.50 329.84h5.30v6.03h-5.30zM79.67 335.86h5.30v6.03h-5.30zM232.76 335.86h5.30v6.03h-5.30zM243.32 335.86h5.30v6.03h-5.30zM290.83 335.86h5.30v6.03h-5.30zM370.02 335.86h5.30v6.03h-5.30zM401.69 335.86h5.30v6.03h-5.30zM459.76 335.86h5.30v6.03h-5.30zM554.78 335.86h5.30v6.03h-5.30zM570.62 335.86h5.30v6.03h-5.30zM143.02 341.87h5.30v6.03h-5.30zM195.81 341.87h5.30v6.03h-5.30zM417.53 341.87h5.30v6.03h-5.30zM438.65 341.87h5.30v6.03h-5.30zM486.16 341.87h5.30v6.03h-5.30zM496.71 341.87h5.30v6.03h-5.30zM554.78 341.87h5.30v6.03h-5.30zM69.12 347.89h5.30v6.03h-5.30zM169.42 347.89h5.30v6.03h-5.30zM211.65 347.89h5.30v6.03h-5.30zM216.93 347.89h5.30v6.03h-5.30zM232.76 347.89h5.30v6.03h-5.30zM275.00 347.89h5.30v6.03h-5.30zM412.25 347.89h5.30v6.03h-5.30zM480.88 347.89h5.30v6.03h-5.30zM528.39 347.89h5.30v6.03h-5.30zM538.95 347.89h5.30v6.03h-5.30z"/>
<path fill="#f6a077" d="M185.25 71.20h5.30v6.03h-5.30zM296.11 71.20h5.30v6.03h-5.30zM348.90 71.20h5.30v6.03h-5.30zM359.46 71.20h5.30v6.03h-5.30zM385.86 71.20h5.30v6.03h-5.30zM412.25 71.20h5.30v6.03h-5.30zM443.93 71.20h5.30v6.03h-5.30zM454.48 71.20h5.30v6.03h-5.30zM470.32 71.20h5.30v6.03h-5.30zM517.83 71.20h5.30v6.03h-5.30zM523.11 71.20h5.30v6.03h-5.30zM528.39 71.20h5.30v6.03h-5.30zM538.95 71.20h5.30v6.03h-5.30zM201.09 77.21h5.30v6.03h-5.30zM438.65 77.21h5.30v6.03h-5.30zM63.84 83.23h5.30v6.03h-5.30zM127.19 83.23h5.30v6.03h-5.30zM232.76 83.23h5.30v6.03h-5.30zM359.46 83.23h5.30v6.03h-5.30zM364.74 83.23h5.30v6.03h-5.30zM385.86 83.23h5.30v6.03h-5.30zM433.37 83.23h5.30v6.03h-5.30zM512.55 83.23h5.30v6.03h-5.30zM53.28 89.24h5.30v6.03h-5.30zM90.23 89.24h5.30v6.03h-5.30zM317.23 89.24h5.30v6.03h-5.30zM343.62 89.24h5.30v6.03h-5.30zM348.90 89.24h5.30v6.03h-5.30zM380.58 89.24h5.30v6.03h-5.30zM470.32 89.24h5.30v6.03h-5.30zM523.11 89.24h5.30v6.03h-5.30zM79.67 95.26h5.30v6.03h-5.30zM111.35 95.26h5.30v6.03h-5.30zM264.44 95.26h5.30v6.03h-5.30zM306.67 95.26h5.30v6.03h-5.30zM359.46 95.26h5.30v6.03h-5.30zM396.41 95.26h5.30v6.03h-5.30zM301.39 101.27h5.30v6.03h-5.30zM343.62 101.27h5.30v6.03h-5.30zM354.18 101.27h5.30v6.03h-5.30zM364.74 101.27h5.30v6.03h-5.30zM375.30 101.27h5.30v6.03h-5.30zM486.16 101.27h5.30v6.03h-5.30zM554.78 101.27h5.30v6.03h-5.30zM74.39 107.29h5.30v6.03h-5.30zM111.35 107.29h5.30v6.03h-5.30zM185.25 107.29h5.30v6.03h-5.30zM232.76 107.29h5.30v6.03h-5.30zM296.11 107.29h5.30v6.03h-5.30zM401.69 107.29h5.30v6.03h-5.30zM470.32 107.29h5.30v6.03h-5.30zM523.11 107.29h5.30v6.03h-5.30zM544.23 107.29h5.30v6.03h-5.30zM565.34 107.29h5.30v6.03h-5.30zM53.28 113.30h5.30v6.03h-5.30zM69.12 113.30h5.30v6.03h-5.30zM100.79 113.30h5.30v6.03h-5.30zM106.07 113.30h5.30v6.03h-5.30zM111.35 113.30h5.30v6.03h-5.30zM148.30 113.30h5.30v6.03h-5.30zM153.58 113.30h5.30v6.03h-5.30zM290.83 113.30h5.30v6.03h-5.30zM333.07 113.30h5.30v6.03h-5.30zM364.74 113.30h5.30v6.03h-5.30zM375.30 113.30h5.30v6.03h-5.30zM501.99 113.30h5.30v6.03h-5.30zM507.27 113.30h5.30v6.03h-5.30zM523.11 113.30h5.30v6.03h-5.30zM533.67 113.30h5.30v6.03h-5.30zM554.78 113.30h5.30v6.03h-5.30zM275.00 119.32h5.30v6.03h-5.30zM327.79 119.32h5.30v6.03h-5.30zM359.46 119.32h5.30v6.03h-5.30zM517.83 119.32h5.30v6.03h-5.30zM528.39 119.32h5.30v6.03h-5.30zM538.95 119.32h5.30v6.03h-5.30zM549.50 119.32h5.30v6.03h-5.30zM63.84 125.33h5.30v6.03h-5.30zM179.97 125.33h5.30v6.03h-5.30zM216.93 125.33h5.30v6.03h-5.30zM243.32 125.33h5.30v6.03h-5.30zM253.88 125.33h5.30v6.03h-5.30zM275.00 125.33h5.30v6.03h-5.30zM338.34 125.33h5.30v6.03h-5.30zM359.46 125.33h5.30v6.03h-5.30zM433.37 125.33h5.30v6.03h-5.30zM475.60 125.33h5.30v6.03h-5.30zM512.55 125.33h5.30v6.03h-5.30zM560.06 125.33h5.30v6.03h-5.30zM48.00 131.35h5.30v6.03h-5.30zM58.56 131.35h5.30v6.03h-5.30zM238.04 131.35h5.30v6.03h-5.30zM501.99 131.35h5.30v6.03h-5.30zM544.23 131.35h5.30v6.03h-5.30zM554.78 131.35h5.30v6.03h-5.30zM116.63 137.36h5.30v6.03h-5.30zM143.02 137.36h5.30v6.03h-5.30zM153.58 137.36h5.30v6.03h-5.30zM216.93 137.36h5.30v6.03h-5.30zM343.62 137.36h5.30v6.03h-5.30zM359.46 137.36h5.30v6.03h-5.30zM406.97 137.36h5.30v6.03h-5.30zM443.93 137.36h5.30v6.03h-5.30zM480.88 137.36h5.30v6.03h-5.30zM111.35 143.38h5.30v6.03h-5.30zM222.21 143.38h5.30v6.03h-5.30zM253.88 143.38h5.30v6.03h-5.30zM311.95 143.38h5.30v6.03h-5.30zM317.23 143.38h5.30v6.03h-5.30zM327.79 143.38h5.30v6.03h-5.30zM333.07 143.38h5.30v6.03h-5.30zM359.46 143.38h5.30v6.03h-5.30zM364.74 143.38h5.30v6.03h-5.30zM454.48 143.38h5.30v6.03h-5.30zM565.34 143.38h5.30v6.03h-5.30zM259.16 149.39h5.30v6.03h-5.30zM327.79 149.39h5.30v6.03h-5.30zM422.81 149.39h5.30v6.03h-5.30zM438.65 149.39h5.30v6.03h-5.30zM443.93 149.39h5.30v6.03h-5.30zM465.04 149.39h5.30v6.03h-5.30zM480.88 149.39h5.30v6.03h-5.30zM486.16 149.39h5.30v6.03h-5.30zM512.55 149.39h5.30v6.03h-5.30zM48.00 155.41h5.30v6.03h-5.30zM58.56 155.41h5.30v6.03h-5.30zM143.02 155.41h5.30v6.03h-5.30zM227.49 155.41h5.30v6.03h-5.30zM269.72 155.41h5.30v6.03h-5.30zM354.18 155.41h5.30v6.03h-5.30zM391.13 155.41h5.30v6.03h-5.30zM428.09 155.41h5.30v6.03h-5.30zM449.20 155.41h5.30v6.03h-5.30zM459.76 155.41h5.30v6.03h-5.30zM480.88 155.41h5.30v6.03h-5.30zM491.44 155.41h5.30v6.03h-5.30zM512.55 155.41h5.30v6.03h-5.30zM528.39 155.41h5.30v6.03h-5.30zM533.67 155.41h5.30v6.03h-5.30zM58.56 161.42h5.30v6.03h-5.30zM84.95 161.42h5.30v6.03h-5.30zM211.65 161.42h5.30v6.03h-5.30zM354.18 161.42h5.30v6.03h-5.30zM375.30 161.42h5.30v6.03h-5.30zM454.48 161.42h5.30v6.03h-5.30zM486.16 161.42h5.30v6.03h-5.30zM491.44 161.42h5.30v6.03h-5.30zM512.55 161.42h5.30v6.03h-5.30zM528.39 161.42h5.30v6.03h-5.30zM533.67 161.42h5.30v6.03h-5.30zM48.00 167.44h5.30v6.03h-5.30zM63.84 167.44h5.30v6.03h-5.30zM137.74 167.44h5.30v6.03h-5.30zM179.97 167.44h5.30v6.03h-5.30zM206.37 167.44h5.30v6.03h-5.30zM227.49 167.44h5.30v6.03h-5.30zM238.04 167.44h5.30v6.03h-5.30zM343.62 167.44h5.30v6.03h-5.30zM354.18 167.44h5.30v6.03h-5.30zM364.74 167.44h5.30v6.03h-5.30zM380.58 167.44h5.30v6.03h-5.30zM528.39 167.44h5.30v6.03h-5.30zM533.67 167.44h5.30v6.03h-5.30zM538.95 167.44h5.30v6.03h-5.30zM565.34 167.44h5.30v6.03h-5.30zM95.51 173.45h5.30v6.03h-5.30zM158.86 173.45h5.30v6.03h-5.30zM190.53 173.45h5.30v6.03h-5.30zM227.49 173.45h5.30v6.03h-5.30zM238.04 173.45h5.30v6.03h-5.30zM264.44 173.45h5.30v6.03h-5.30zM327.79 173.45h5.30v6.03h-5.30zM343.62 173.45h5.30v6.03h-5.30zM375.30 173.45h5.30v6.03h-5.30zM454.48 173.45h5.30v6.03h-5.30zM465.04 173.45h5.30v6.03h-5.30zM480.88 173.45h5.30v6.03h-5.30zM222.21 179.47h5.30v6.03h-5.30zM232.76 179.47h5.30v6.03h-5.30zM354.18 179.47h5.30v6.03h-5.30zM433.37 179.47h5.30v6.03h-5.30zM438.65 179.47h5.30v6.03h-5.30zM63.84 185.48h5.30v6.03h-5.30zM100.79 185.48h5.30v6.03h-5.30zM121.91 185.48h5.30v6.03h-5.30zM185.25 185.48h5.30v6.03h-5.30zM232.76 185.48h5.30v6.03h-5.30zM317.23 185.48h5.30v6.03h-5.30zM322.51 185.48h5.30v6.03h-5.30zM327.79 185.48h5.30v6.03h-5.30zM422.81 185.48h5.30v6.03h-5.30zM438.65 185.48h5.30v6.03h-5.30zM470.32 185.48h5.30v6.03h-5.30zM501.99 185.48h5.30v6.03h-5.30zM90.23 191.50h5.30v6.03h-5.30zM127.19 191.50h5.30v6.03h-5.30zM190.53 191.50h5.30v6.03h-5.30zM195.81 191.50h5.30v6.03h-5.30zM296.11 191.50h5.30v6.03h-5.30zM333.07 191.50h5.30v6.03h-5.30zM338.34 191.50h5.30v6.03h-5.30zM354.18 191.50h5.30v6.03h-5.30zM375.30 191.50h5.30v6.03h-5.30zM412.25 191.50h5.30v6.03h-5.30zM454.48 191.50h5.30v6.03h-5.30zM470.32 191.50h5.30v6.03h-5.30zM90.23 197.51h5.30v6.03h-5.30zM121.91 197.51h5.30v6.03h-5.30zM127.19 197.51h5.30v6.03h-5.30zM190.53 197.51h5.30v6.03h-5.30zM227.49 197.51h5.30v6.03h-5.30zM301.39 197.51h5.30v6.03h-5.30zM327.79 197.51h5.30v6.03h-5.30zM338.34 197.51h5.30v6.03h-5.30zM343.62 197.51h5.30v6.03h-5.30zM364.74 197.51h5.30v6.03h-5.30zM412.25 197.51h5.30v6.03h-5.30zM58.56 203.53h5.30v6.03h-5.30zM90.23 203.53h5.30v6.03h-5.30zM111.35 203.53h5.30v6.03h-5.30zM148.30 203.53h5.30v6.03h-5.30zM164.14 203.53h5.30v6.03h-5.30zM185.25 203.53h5.30v6.03h-5.30zM206.37 203.53h5.30v6.03h-5.30zM306.67 203.53h5.30v6.03h-5.30zM311.95 203.53h5.30v6.03h-5.30zM354.18 203.53h5.30v6.03h-5.30zM359.46 203.53h5.30v6.03h-5.30zM364.74 203.53h5.30v6.03h-5.30zM385.86 203.53h5.30v6.03h-5.30zM433.37 203.53h5.30v6.03h-5.30zM79.67 209.54h5.30v6.03h-5.30zM148.30 209.54h5.30v6.03h-5.30zM216.93 209.54h5.30v6.03h-5.30zM306.67 209.54h5.30v6.03h-5.30zM322.51 209.54h5.30v6.03h-5.30zM333.07 209.54h5.30v6.03h-5.30zM375.30 209.54h5.30v6.03h-5.30zM380.58 209.54h5.30v6.03h-5.30zM417.53 209.54h5.30v6.03h-5.30zM169.42 215.56h5.30v6.03h-5.30zM185.25 215.56h5.30v6.03h-5.30zM195.81 215.56h5.30v6.03h-5.30zM216.93 215.56h5.30v6.03h-5.30zM227.49 215.56h5.30v6.03h-5.30zM280.28 215.56h5.30v6.03h-5.30zM343.62 215.56h5.30v6.03h-5.30zM348.90 215.56h5.30v6.03h-5.30zM417.53 215.56h5.30v6.03h-5.30zM486.16 215.56h5.30v6.03h-5.30zM507.27 215.56h5.30v6.03h-5.30zM528.39 215.56h5.30v6.03h-5.30zM565.34 215.56h5.30v6.03h-5.30zM48.00 221.57h5.30v6.03h-5.30zM53.28 221.57h5.30v6.03h-5.30zM137.74 221.57h5.30v6.03h-5.30zM148.30 221.57h5.30v6.03h-5.30zM153.58 221.57h5.30v6.03h-5.30zM164.14 221.57h5.30v6.03h-5.30zM185.25 221.57h5.30v6.03h-5.30zM190.53 221.57h5.30v6.03h-5.30zM216.93 221.57h5.30v6.03h-5.30zM280.28 221.57h5.30v6.03h-5.30zM290.83 221.57h5.30v6.03h-5.30zM306.67 221.57h5.30v6.03h-5.30zM322.51 221.57h5.30v6.03h-5.30zM327.79 221.57h5.30v6.03h-5.30zM359.46 221.57h5.30v6.03h-5.30zM375.30 221.57h5.30v6.03h-5.30zM417.53 221.57h5.30v6.03h-5.30zM470.32 221.57h5.30v6.03h-5.30zM111.35 227.59h5.30v6.03h-5.30zM227.49 227.59h5.30v6.03h-5.30zM333.07 227.59h5.30v6.03h-5.30zM338.34 227.59h5.30v6.03h-5.30zM343.62 227.59h5.30v6.03h-5.30zM375.30 227.59h5.30v6.03h-5.30zM454.48 227.59h5.30v6.03h-5.30zM507.27 227.59h5.30v6.03h-5.30zM512.55 227.59h5.30v6.03h-5.30zM95.51 233.60h5.30v6.03h-5.30zM280.28 233.60h5.30v6.03h-5.30zM343.62 233.60h5.30v6.03h-5.30zM359.46 233.60h5.30v6.03h-5.30zM438.65 233.60h5.30v6.03h-5.30zM465.04 233.60h5.30v6.03h-5.30zM475.60 233.60h5.30v6.03h-5.30zM528.39 233.60h5.30v6.03h-5.30zM533.67 233.60h5.30v6.03h-5.30zM554.78 233.60h5.30v6.03h-5.30zM169.42 239.62h5.30v6.03h-5.30zM280.28 239.62h5.30v6.03h-5.30zM285.56 239.62h5.30v6.03h-5.30zM290.83 239.62h5.30v6.03h-5.30zM296.11 239.62h5.30v6.03h-5.30zM354.18 239.62h5.30v6.03h-5.30zM475.60 239.62h5.30v6.03h-5.30zM480.88 239.62h5.30v6.03h-5.30zM486.16 239.62h5.30v6.03h-5.30zM501.99 239.62h5.30v6.03h-5.30zM507.27 239.62h5.30v6.03h-5.30zM554.78 239.62h5.30v6.03h-5.30zM74.39 245.63h5.30v6.03h-5.30zM306.67 245.63h5.30v6.03h-5.30zM343.62 245.63h5.30v6.03h-5.30zM348.90 245.63h5.30v6.03h-5.30zM354.18 245.63h5.30v6.03h-5.30zM465.04 245.63h5.30v6.03h-5.30zM501.99 245.63h5.30v6.03h-5.30zM517.83 245.63h5.30v6.03h-5.30zM317.23 251.65h5.30v6.03h-5.30zM343.62 251.65h5.30v6.03h-5.30zM465.04 251.65h5.30v6.03h-5.30zM538.95 251.65h5.30v6.03h-5.30zM554.78 251.65h5.30v6.03h-5.30zM164.14 257.66h5.30v6.03h-5.30zM179.97 257.66h5.30v6.03h-5.30zM417.53 257.66h5.30v6.03h-5.30zM433.37 257.66h5.30v6.03h-5.30zM438.65 257.66h5.30v6.03h-5.30zM470.32 257.66h5.30v6.03h-5.30zM475.60 257.66h5.30v6.03h-5.30zM480.88 257.66h5.30v6.03h-5.30zM496.71 257.66h5.30v6.03h-5.30zM507.27 257.66h5.30v6.03h-5.30zM121.91 263.68h5.30v6.03h-5.30zM190.53 263.68h5.30v6.03h-5.30zM380.58 263.68h5.30v6.03h-5.30zM480.88 263.68h5.30v6.03h-5.30zM544.23 263.68h5.30v6.03h-5.30zM100.79 269.69h5.30v6.03h-5.30zM127.19 269.69h5.30v6.03h-5.30zM143.02 269.69h5.30v6.03h-5.30zM148.30 269.69h5.30v6.03h-5.30zM153.58 269.69h5.30v6.03h-5.30zM158.86 269.69h5.30v6.03h-5.30zM211.65 269.69h5.30v6.03h-5.30zM216.93 269.69h5.30v6.03h-5.30zM311.95 269.69h5.30v6.03h-5.30zM338.34 269.69h5.30v6.03h-5.30zM343.62 269.69h5.30v6.03h-5.30zM348.90 269.69h5.30v6.03h-5.30zM375.30 269.69h5.30v6.03h-5.30zM380.58 269.69h5.30v6.03h-5.30zM391.13 269.69h5.30v6.03h-5.30zM412.25 269.69h5.30v6.03h-5.30zM422.81 269.69h5.30v6.03h-5.30zM438.65 269.69h5.30v6.03h-5.30zM443.93 269.69h5.30v6.03h-5.30zM523.11 269.69h5.30v6.03h-5.30zM538.95 269.69h5.30v6.03h-5.30zM560.06 269.69h5.30v6.03h-5.30zM48.00 275.71h5.30v6.03h-5.30zM148.30 275.71h5.30v6.03h-5.30zM211.65 275.71h5.30v6.03h-5.30zM243.32 275.71h5.30v6.03h-5.30zM338.34 275.71h5.30v6.03h-5.30zM359.46 275.71h5.30v6.03h-5.30zM375.30 275.71h5.30v6.03h-5.30zM380.58 275.71h5.30v6.03h-5.30zM385.86 275.71h5.30v6.03h-5.30zM412.25 275.71h5.30v6.03h-5.30zM422.81 275.71h5.30v6.03h-5.30zM528.39 275.71h5.30v6.03h-5.30zM570.62 275.71h5.30v6.03h-5.30zM280.28 281.72h5.30v6.03h-5.30zM343.62 281.72h5.30v6.03h-5.30zM359.46 281.72h5.30v6.03h-5.30zM391.13 281.72h5.30v6.03h-5.30zM412.25 281.72h5.30v6.03h-5.30zM428.09 281.72h5.30v6.03h-5.30zM433.37 281.72h5.30v6.03h-5.30zM438.65 281.72h5.30v6.03h-5.30zM454.48 281.72h5.30v6.03h-5.30zM470.32 281.72h5.30v6.03h-5.30zM533.67 281.72h5.30v6.03h-5.30zM538.95 281.72h5.30v6.03h-5.30zM153.58 287.74h5.30v6.03h-5.30zM232.76 287.74h5.30v6.03h-5.30zM338.34 287.74h5.30v6.03h-5.30zM370.02 287.74h5.30v6.03h-5.30zM375.30 287.74h5.30v6.03h-5.30zM412.25 287.74h5.30v6.03h-5.30zM459.76 287.74h5.30v6.03h-5.30zM560.06 287.74h5.30v6.03h-5.30zM565.34 287.74h5.30v6.03h-5.30zM111.35 293.75h5.30v6.03h-5.30zM127.19 293.75h5.30v6.03h-5.30zM232.76 293.75h5.30v6.03h-5.30zM385.86 293.75h5.30v6.03h-5.30zM443.93 293.75h5.30v6.03h-5.30zM449.20 293.75h5.30v6.03h-5.30zM475.60 293.75h5.30v6.03h-5.30zM507.27 293.75h5.30v6.03h-5.30zM538.95 293.75h5.30v6.03h-5.30zM79.67 299.77h5.30v6.03h-5.30zM106.07 299.77h5.30v6.03h-5.30zM153.58 299.77h5.30v6.03h-5.30zM391.13 299.77h5.30v6.03h-5.30zM406.97 299.77h5.30v6.03h-5.30zM512.55 299.77h5.30v6.03h-5.30zM84.95 305.78h5.30v6.03h-5.30zM143.02 305.78h5.30v6.03h-5.30zM169.42 305.78h5.30v6.03h-5.30zM174.70 305.78h5.30v6.03h-5.30zM348.90 305.78h5.30v6.03h-5.30zM406.97 305.78h5.30v6.03h-5.30zM438.65 305.78h5.30v6.03h-5.30zM443.93 305.78h5.30v6.03h-5.30zM475.60 305.78h5.30v6.03h-5.30zM501.99 305.78h5.30v6.03h-5.30zM507.27 305.78h5.30v6.03h-5.30zM512.55 305.78h5.30v6.03h-5.30zM179.97 311.80h5.30v6.03h-5.30zM248.60 311.80h5.30v6.03h-5.30zM275.00 311.80h5.30v6.03h-5.30zM280.28 311.80h5.30v6.03h-5.30zM327.79 311.80h5.30v6.03h-5.30zM338.34 311.80h5.30v6.03h-5.30zM422.81 311.80h5.30v6.03h-5.30zM433.37 311.80h5.30v6.03h-5.30zM443.93 311.80h5.30v6.03h-5.30zM501.99 311.80h5.30v6.03h-5.30zM538.95 311.80h5.30v6.03h-5.30zM153.58 317.81h5.30v6.03h-5.30zM169.42 317.81h5.30v6.03h-5.30zM174.70 317.81h5.30v6.03h-5.30zM179.97 317.81h5.30v6.03h-5.30zM280.28 317.81h5.30v6.03h-5.30zM391.13 317.81h5.30v6.03h-5.30zM443.93 317.81h5.30v6.03h-5.30zM470.32 317.81h5.30v6.03h-5.30zM501.99 317.81h5.30v6.03h-5.30zM517.83 317.81h5.30v6.03h-5.30zM74.39 323.83h5.30v6.03h-5.30zM90.23 323.83h5.30v6.03h-5.30zM106.07 323.83h5.30v6.03h-5.30zM243.32 323.83h5.30v6.03h-5.30zM248.60 323.83h5.30v6.03h-5.30zM301.39 323.83h5.30v6.03h-5.30zM385.86 323.83h5.30v6.03h-5.30zM406.97 323.83h5.30v6.03h-5.30zM438.65 323.83h5.30v6.03h-5.30zM443.93 323.83h5.30v6.03h-5.30zM480.88 323.83h5.30v6.03h-5.30zM496.71 323.83h5.30v6.03h-5.30zM501.99 323.83h5.30v6.03h-5.30zM74.39 329.84h5.30v6.03h-5.30zM106.07 329.84h5.30v6.03h-5.30zM148.30 329.84h5.30v6.03h-5.30zM164.14 329.84h5.30v6.03h-5.30zM206.37 329.84h5.30v6.03h-5.30zM243.32 329.84h5.30v6.03h-5.30zM253.88 329.84h5.30v6.03h-5.30zM264.44 329.84h5.30v6.03h-5.30zM285.56 329.84h5.30v6.03h-5.30zM296.11 329.84h5.30v6.03h-5.30zM396.41 329.84h5.30v6.03h-5.30zM422.81 329.84h5.30v6.03h-5.30zM438.65 329.84h5.30v6.03h-5.30zM454.48 329.84h5.30v6.03h-5.30zM459.76 329.84h5.30v6.03h-5.30zM480.88 329.84h5.30v6.03h-5.30zM501.99 329.84h5.30v6.03h-5.30zM507.27 329.84h5.30v6.03h-5.30zM554.78 329.84h5.30v6.03h-5.30zM106.07 335.86h5.30v6.03h-5.30zM111.35 335.86h5.30v6.03h-5.30zM143.02 335.86h5.30v6.03h-5.30zM179.97 335.86h5.30v6.03h-5.30zM296.11 335.86h5.30v6.03h-5.30zM359.46 335.86h5.30v6.03h-5.30zM391.13 335.86h5.30v6.03h-5.30zM480.88 335.86h5.30v6.03h-5.30zM501.99 335.86h5.30v6.03h-5.30zM507.27 335.86h5.30v6.03h-5.30zM565.34 335.86h5.30v6.03h-5.30zM111.35 341.87h5.30v6.03h-5.30zM121.91 341.87h5.30v6.03h-5.30zM164.14 341.87h5.30v6.03h-5.30zM174.70 341.87h5.30v6.03h-5.30zM179.97 341.87h5.30v6.03h-5.30zM211.65 341.87h5.30v6.03h-5.30zM243.32 341.87h5.30v6.03h-5.30zM327.79 341.87h5.30v6.03h-5.30zM391.13 341.87h5.30v6.03h-5.30zM396.41 341.87h5.30v6.03h-5.30zM406.97 341.87h5.30v6.03h-5.30zM480.88 341.87h5.30v6.03h-5.30zM491.44 341.87h5.30v6.03h-5.30zM501.99 341.87h5.30v6.03h-5.30zM58.56 347.89h5.30v6.03h-5.30zM74.39 347.89h5.30v6.03h-5.30zM111.35 347.89h5.30v6.03h-5.30zM121.91 347.89h5.30v6.03h-5.30zM396.41 347.89h5.30v6.03h-5.30zM401.69 347.89h5.30v6.03h-5.30zM406.97 347.89h5.30v6.03h-5.30zM491.44 347.89h5.30v6.03h-5.30zM501.99 347.89h5.30v6.03h-5.30zM507.27 347.89h5.30v6.03h-5.30zM554.78 347.89h5.30v6.03h-5.30z"/>
<path fill="#f8d3ba" d="M95.51 71.20h5.30v6.03h-5.30zM201.09 71.20h5.30v6.03h-5.30zM232.76 71.20h5.30v6.03h-5.30zM275.00 71.20h5.30v6.03h-5.30zM322.51 71.20h5.30v6.03h-5.30zM380.58 71.20h5.30v6.03h-5.30zM422.81 71.20h5.30v6.03h-5.30zM533.67 71.20h5.30v6.03h-5.30zM560.06 71.20h5.30v6.03h-5.30zM106.07 77.21h5.30v6.03h-5.30zM359.46 77.21h5.30v6.03h-5.30zM412.25 77.21h5.30v6.03h-5.30zM433.37 77.21h5.30v6.03h-5.30zM554.78 77.21h5.30v6.03h-5.30zM121.91 83.23h5.30v6.03h-5.30zM169.42 83.23h5.30v6.03h-5.30zM538.95 83.23h5.30v6.03h-5.30zM69.12 89.24h5.30v6.03h-5.30zM111.35 89.24h5.30v6.03h-5.30zM148.30 89.24h5.30v6.03h-5.30zM359.46 89.24h5.30v6.03h-5.30zM385.86 89.24h5.30v6.03h-5.30zM475.60 89.24h5.30v6.03h-5.30zM501.99 89.24h5.30v6.03h-5.30zM538.95 89.24h5.30v6.03h-5.30zM554.78 89.24h5.30v6.03h-5.30zM565.34 89.24h5.30v6.03h-5.30zM53.28 95.26h5.30v6.03h-5.30zM153.58 95.26h5.30v6.03h-5.30zM232.76 95.26h5.30v6.03h-5.30zM280.28 95.26h5.30v6.03h-5.30zM296.11 95.26h5.30v6.03h-5.30zM69.12 101.27h5.30v6.03h-5.30zM153.58 101.27h5.30v6.03h-5.30zM158.86 101.27h5.30v6.03h-5.30zM232.76 101.27h5.30v6.03h-5.30zM259.16 101.27h5.30v6.03h-5.30zM338.34 101.27h5.30v6.03h-5.30zM385.86 101.27h5.30v6.03h-5.30zM544.23 101.27h5.30v6.03h-5.30zM53.28 107.29h5.30v6.03h-5.30zM143.02 107.29h5.30v6.03h-5.30zM280.28 107.29h5.30v6.03h-5.30zM327.79 107.29h5.30v6.03h-5.30zM359.46 107.29h5.30v6.03h-5.30zM422.81 107.29h5.30v6.03h-5.30zM438.65 107.29h5.30v6.03h-5.30zM549.50 107.29h5.30v6.03h-5.30zM179.97 113.30h5.30v6.03h-5.30zM232.76 113.30h5.30v6.03h-5.30zM275.00 113.30h5.30v6.03h-5.30zM296.11 113.30h5.30v6.03h-5.30zM338.34 113.30h5.30v6.03h-5.30zM354.18 113.30h5.30v6.03h-5.30zM359.46 113.30h5.30v6.03h-5.30zM385.86 113.30h5.30v6.03h-5.30zM63.84 119.32h5.30v6.03h-5.30zM95.51 119.32h5.30v6.03h-5.30zM127.19 119.32h5.30v6.03h-5.30zM333.07 119.32h5.30v6.03h-5.30zM354.18 119.32h5.30v6.03h-5.30zM422.81 119.32h5.30v6.03h-5.30zM428.09 119.32h5.30v6.03h-5.30zM438.65 119.32h5.30v6.03h-5.30zM554.78 119.32h5.30v6.03h-5.30zM116.63 125.33h5.30v6.03h-5.30zM174.70 125.33h5.30v6.03h-5.30zM211.65 125.33h5.30v6.03h-5.30zM354.18 125.33h5.30v6.03h-5.30zM438.65 125.33h5.30v6.03h-5.30zM470.32 125.33h5.30v6.03h-5.30zM528.39 125.33h5.30v6.03h-5.30zM127.19 131.35h5.30v6.03h-5.30zM317.23 131.35h5.30v6.03h-5.30zM343.62 131.35h5.30v6.03h-5.30zM348.90 131.35h5.30v6.03h-5.30zM370.02 131.35h5.30v6.03h-5.30zM443.93 131.35h5.30v6.03h-5.30zM459.76 131.35h5.30v6.03h-5.30zM148.30 137.36h5.30v6.03h-5.30zM370.02 137.36h5.30v6.03h-5.30zM375.30 137.36h5.30v6.03h-5.30zM417.53 137.36h5.30v6.03h-5.30zM459.76 137.36h5.30v6.03h-5.30zM195.81 143.38h5.30v6.03h-5.30zM285.56 143.38h5.30v6.03h-5.30zM306.67 143.38h5.30v6.03h-5.30zM354.18 143.38h5.30v6.03h-5.30zM296.11 149.39h5.30v6.03h-5.30zM401.69 149.39h5.30v6.03h-5.30zM491.44 149.39h5.30v6.03h-5.30zM517.83 149.39h5.30v6.03h-5.30zM53.28 155.41h5.30v6.03h-5.30zM206.37 155.41h5.30v6.03h-5.30zM465.04 155.41h5.30v6.03h-5.30zM517.83 155.41h5.30v6.03h-5.30zM554.78 155.41h5.30v6.03h-5.30zM74.39 161.42h5.30v6.03h-5.30zM195.81 161.42h5.30v6.03h-5.30zM206.37 161.42h5.30v6.03h-5.30zM227.49 161.42h5.30v6.03h-5.30zM391.13 161.42h5.30v6.03h-5.30zM428.09 161.42h5.30v6.03h-5.30zM449.20 161.42h5.30v6.03h-5.30zM158.86 167.44h5.30v6.03h-5.30zM164.14 167.44h5.30v6.03h-5.30zM333.07 167.44h5.30v6.03h-5.30zM348.90 167.44h5.30v6.03h-5.30zM417.53 167.44h5.30v6.03h-5.30zM79.67 173.45h5.30v6.03h-5.30zM143.02 173.45h5.30v6.03h-5.30zM232.76 173.45h5.30v6.03h-5.30zM248.60 173.45h5.30v6.03h-5.30zM269.72 173.45h5.30v6.03h-5.30zM359.46 173.45h5.30v6.03h-5.30zM449.20 173.45h5.30v6.03h-5.30zM512.55 173.45h5.30v6.03h-5.30zM528.39 173.45h5.30v6.03h-5.30zM48.00 179.47h5.30v6.03h-5.30zM227.49 179.47h5.30v6.03h-5.30zM343.62 179.47h5.30v6.03h-5.30zM348.90 179.47h5.30v6.03h-5.30zM364.74 179.47h5.30v6.03h-5.30zM454.48 179.47h5.30v6.03h-5.30zM486.16 179.47h5.30v6.03h-5.30zM306.67 185.48h5.30v6.03h-5.30zM333.07 185.48h5.30v6.03h-5.30zM364.74 185.48h5.30v6.03h-5.30zM454.48 185.48h5.30v6.03h-5.30zM58.56 191.50h5.30v6.03h-5.30zM153.58 191.50h5.30v6.03h-5.30zM264.44 191.50h5.30v6.03h-5.30zM343.62 191.50h5.30v6.03h-5.30zM417.53 191.50h5.30v6.03h-5.30zM106.07 197.51h5.30v6.03h-5.30zM195.81 197.51h5.30v6.03h-5.30zM333.07 197.51h5.30v6.03h-5.30zM359.46 197.51h5.30v6.03h-5.30zM417.53 197.51h5.30v6.03h-5.30zM454.48 197.51h5.30v6.03h-5.30zM480.88 197.51h5.30v6.03h-5.30zM486.16 197.51h5.30v6.03h-5.30zM48.00 203.53h5.30v6.03h-5.30zM343.62 203.53h5.30v6.03h-5.30zM190.53 209.54h5.30v6.03h-5.30zM195.81 209.54h5.30v6.03h-5.30zM301.39 209.54h5.30v6.03h-5.30zM343.62 209.54h5.30v6.03h-5.30zM348.90 209.54h5.30v6.03h-5.30zM359.46 209.54h5.30v6.03h-5.30zM364.74 209.54h5.30v6.03h-5.30zM507.27 209.54h5.30v6.03h-5.30zM48.00 215.56h5.30v6.03h-5.30zM53.28 215.56h5.30v6.03h-5.30zM132.46 215.56h5.30v6.03h-5.30zM137.74 215.56h5.30v6.03h-5.30zM222.21 215.56h5.30v6.03h-5.30zM290.83 215.56h5.30v6.03h-5.30zM338.34 215.56h5.30v6.03h-5.30zM454.48 215.56h5.30v6.03h-5.30zM311.95 221.57h5.30v6.03h-5.30zM333.07 221.57h5.30v6.03h-5.30zM338.34 221.57h5.30v6.03h-5.30zM343.62 221.57h5.30v6.03h-5.30zM364.74 221.57h5.30v6.03h-5.30zM127.19 227.59h5.30v6.03h-5.30zM238.04 227.59h5.30v6.03h-5.30zM554.78 227.59h5.30v6.03h-5.30zM127.19 233.60h5.30v6.03h-5.30zM354.18 233.60h5.30v6.03h-5.30zM501.99 233.60h5.30v6.03h-5.30zM190.53 239.62h5.30v6.03h-5.30zM333.07 239.62h5.30v6.03h-5.30zM459.76 239.62h5.30v6.03h-5.30zM528.39 239.62h5.30v6.03h-5.30zM327.79 245.63h5.30v6.03h-5.30zM364.74 245.63h5.30v6.03h-5.30zM512.55 245.63h5.30v6.03h-5.30zM63.84 251.65h5.30v6.03h-5.30zM185.25 251.65h5.30v6.03h-5.30zM259.16 251.65h5.30v6.03h-5.30zM280.28 251.65h5.30v6.03h-5.30zM290.83 251.65h5.30v6.03h-5.30zM333.07 251.65h5.30v6.03h-5.30zM348.90 251.65h5.30v6.03h-5.30zM354.18 251.65h5.30v6.03h-5.30zM359.46 251.65h5.30v6.03h-5.30zM517.83 251.65h5.30v6.03h-5.30zM243.32 257.66h5.30v6.03h-5.30zM253.88 257.66h5.30v6.03h-5.30zM285.56 257.66h5.30v6.03h-5.30zM290.83 257.66h5.30v6.03h-5.30zM391.13 257.66h5.30v6.03h-5.30zM396.41 257.66h5.30v6.03h-5.30zM406.97 257.66h5.30v6.03h-5.30zM501.99 257.66h5.30v6.03h-5.30zM63.84 263.68h5.30v6.03h-5.30zM179.97 263.68h5.30v6.03h-5.30zM501.99 263.68h5.30v6.03h-5.30zM275.00 269.69h5.30v6.03h-5.30zM565.34 269.69h5.30v6.03h-5.30zM570.62 269.69h5.30v6.03h-5.30zM69.12 275.71h5.30v6.03h-5.30zM100.79 275.71h5.30v6.03h-5.30zM121.91 275.71h5.30v6.03h-5.30zM158.86 275.71h5.30v6.03h-5.30zM216.93 275.71h5.30v6.03h-5.30zM238.04 275.71h5.30v6.03h-5.30zM275.00 275.71h5.30v6.03h-5.30zM306.67 275.71h5.30v6.03h-5.30zM343.62 275.71h5.30v6.03h-5.30zM348.90 275.71h5.30v6.03h-5.30zM370.02 275.71h5.30v6.03h-5.30zM443.93 275.71h5.30v6.03h-5.30zM538.95 275.71h5.30v6.03h-5.30zM565.34 275.71h5.30v6.03h-5.30zM58.56 281.72h5.30v6.03h-5.30zM459.76 281.72h5.30v6.03h-5.30zM106.07 287.74h5.30v6.03h-5.30zM290.83 287.74h5.30v6.03h-5.30zM406.97 287.74h5.30v6.03h-5.30zM417.53 287.74h5.30v6.03h-5.30zM480.88 287.74h5.30v6.03h-5.30zM158.86 293.75h5.30v6.03h-5.30zM179.97 293.75h5.30v6.03h-5.30zM275.00 293.75h5.30v6.03h-5.30zM343.62 293.75h5.30v6.03h-5.30zM380.58 293.75h5.30v6.03h-5.30zM396.41 293.75h5.30v6.03h-5.30zM401.69 293.75h5.30v6.03h-5.30zM406.97 293.75h5.30v6.03h-5.30zM501.99 293.75h5.30v6.03h-5.30zM84.95 299.77h5.30v6.03h-5.30zM179.97 299.77h5.30v6.03h-5.30zM343.62 299.77h5.30v6.03h-5.30zM354.18 299.77h5.30v6.03h-5.30zM153.58 305.78h5.30v6.03h-5.30zM343.62 305.78h5.30v6.03h-5.30zM391.13 305.78h5.30v6.03h-5.30zM523.11 305.78h5.30v6.03h-5.30zM538.95 305.78h5.30v6.03h-5.30zM343.62 311.80h5.30v6.03h-5.30zM517.83 311.80h5.30v6.03h-5.30zM401.69 317.81h5.30v6.03h-5.30zM465.04 317.81h5.30v6.03h-5.30zM512.55 317.81h5.30v6.03h-5.30zM58.56 323.83h5.30v6.03h-5.30zM164.14 323.83h5.30v6.03h-5.30zM290.83 323.83h5.30v6.03h-5.30zM396.41 323.83h5.30v6.03h-5.30zM491.44 323.83h5.30v6.03h-5.30zM507.27 323.83h5.30v6.03h-5.30zM90.23 329.84h5.30v6.03h-5.30zM248.60 329.84h5.30v6.03h-5.30zM290.83 329.84h5.30v6.03h-5.30zM385.86 329.84h5.30v6.03h-5.30zM486.16 329.84h5.30v6.03h-5.30zM491.44 329.84h5.30v6.03h-5.30zM496.71 329.84h5.30v6.03h-5.30zM121.91 335.86h5.30v6.03h-5.30zM174.70 335.86h5.30v6.03h-5.30zM211.65 335.86h5.30v6.03h-5.30zM253.88 335.86h5.30v6.03h-5.30zM396.41 335.86h5.30v6.03h-5.30zM406.97 335.86h5.30v6.03h-5.30zM412.25 335.86h5.30v6.03h-5.30zM417.53 335.86h5.30v6.03h-5.30zM470.32 335.86h5.30v6.03h-5.30zM58.56 341.87h5.30v6.03h-5.30zM74.39 341.87h5.30v6.03h-5.30zM401.69 341.87h5.30v6.03h-5.30zM443.93 341.87h5.30v6.03h-5.30zM470.32 341.87h5.30v6.03h-5.30zM507.27 341.87h5.30v6.03h-5.30zM143.02 347.89h5.30v6.03h-5.30zM174.70 347.89h5.30v6.03h-5.30zM243.32 347.89h5.30v6.03h-5.30zM391.13 347.89h5.30v6.03h-5.30zM443.93 347.89h5.30v6.03h-5.30zM470.32 347.89h5.30v6.03h-5.30z"/>
</g>
<defs><linearGradient id="cb" x1="0" y1="0" x2="0" y2="1"><stop offset="0.0000" stop-color="#faebdd"/><stop offset="0.0312" stop-color="#f9dfcb"/><stop offset="0.0625" stop-color="#f8d3ba"/><stop offset="0.0938" stop-color="#f7c7a8"/><stop offset="0.1250" stop-color="#f6bb97"/><stop offset="0.1562" stop-color="#f6ae87"/><stop offset="0.1875" stop-color="#f6a178"/><stop offset="0.2188" stop-color="#f5946b"/><stop offset="0.2500" stop-color="#f4865e"/><stop offset="0.2812" stop-color="#f37852"/><stop offset="0.3125" stop-color="#f26948"/><stop offset="0.3438" stop-color="#ef5a41"/><stop offset="0.3750" stop-color="#ec4a3e"/><stop offset="0.4062" stop-color="#e63b40"/><stop offset="0.4375" stop-color="#de2e44"/><stop offset="0.4688" stop-color="#d5224a"/><stop offset="0.5000" stop-color="#cb1b4f"/><stop offset="0.5312" stop-color="#bf1654"/><stop offset="0.5625" stop-color="#b21758"/><stop offset="0.5938" stop-color="#a4195b"/><stop offset="0.6250" stop-color="#971c5b"/><stop offset="0.6562" stop-color="#891e5b"/><stop offset="0.6875" stop-color="#7b1f59"/><stop offset="0.7188" stop-color="#6e1f57"/><stop offset="0.7500" stop-color="#611f53"/><stop offset="0.7812" stop-color="#541e4e"/><stop offset="0.8125" stop-color="#481c48"/><stop offset="0.8438" stop-color="#3c1a42"/><stop offset="0.8750" stop-color="#30173a"/><stop offset="0.9062" stop-color="#241432"/><stop offset="0.9375" stop-color="#180f29"/><stop offset="0.9688" stop-color="#0d0a21"/><stop offset="1.0000" stop-color="#03051a"/></linearGradient></defs>
<rect x="22.4" y="74.6" width="14.2" height="278.4" fill="url(#cb)" stroke="#000" stroke-width="0.9"/>
<text x="18.1" y="356.2" class="tk" font-size="9" text-anchor="end">0.0</text>
<text x="18.1" y="300.5" class="tk" font-size="9" text-anchor="end">0.2</text>
<text x="18.1" y="244.8" class="tk" font-size="9" text-anchor="end">0.4</text>
<text x="18.1" y="189.2" class="tk" font-size="9" text-anchor="end">0.6</text>
<text x="18.1" y="133.5" class="tk" font-size="9" text-anchor="end">0.8</text>
<text x="18.1" y="77.8" class="tk" font-size="9" text-anchor="end">1.0</text>
<path d="M22.4 297.3h3M22.4 241.6h3M22.4 186.0h3M22.4 130.3h3" stroke="#000" stroke-width="0.8"/>
<text x="50.64" y="361.3" class="tk" font-size="7.9" text-anchor="middle">31</text>
<text x="66.48" y="361.3" class="tk" font-size="7.9" text-anchor="middle">89</text>
<text x="82.31" y="361.3" class="tk" font-size="7.9" text-anchor="middle">98</text>
<text x="98.15" y="361.3" class="tk" font-size="7.9" text-anchor="middle">75</text>
<text x="113.99" y="361.3" class="tk" font-size="7.9" text-anchor="middle">88</text>
<text x="129.82" y="361.3" class="tk" font-size="7.9" text-anchor="middle">9</text>
<text x="145.66" y="361.3" class="tk" font-size="7.9" text-anchor="middle">19</text>
<text x="161.50" y="361.3" class="tk" font-size="7.9" text-anchor="middle">51</text>
<text x="177.34" y="361.3" class="tk" font-size="7.9" text-anchor="middle">69</text>
<text x="193.17" y="361.3" class="tk" font-size="7.9" text-anchor="middle">41</text>
<text x="209.01" y="361.3" class="tk" font-size="7.9" text-anchor="middle">68</text>
<text x="224.85" y="361.3" class="tk" font-size="7.9" text-anchor="middle">7</text>
<text x="240.68" y="361.3" class="tk" font-size="7.9" text-anchor="middle">91</text>
<text x="256.52" y="361.3" class="tk" font-size="7.9" text-anchor="middle">12</text>
<text x="272.36" y="361.3" class="tk" font-size="7.9" text-anchor="middle">54</text>
<text x="288.19" y="361.3" class="tk" font-size="7.9" text-anchor="middle">93</text>
<text x="304.03" y="361.3" class="tk" font-size="7.9" text-anchor="middle">65</text>
<text x="319.87" y="361.3" class="tk" font-size="7.9" text-anchor="middle">99</text>
<text x="335.71" y="361.3" class="tk" font-size="7.9" text-anchor="middle">57</text>
<text x="351.54" y="361.3" class="tk" font-size="7.9" text-anchor="middle">56</text>
<text x="367.38" y="361.3" class="tk" font-size="7.9" text-anchor="middle">81</text>
<text x="383.22" y="361.3" class="tk" font-size="7.9" text-anchor="middle">14</text>
<text x="399.05" y="361.3" class="tk" font-size="7.9" text-anchor="middle">15</text>
<text x="414.89" y="361.3" class="tk" font-size="7.9" text-anchor="middle">24</text>
<text x="430.73" y="361.3" class="tk" font-size="7.9" text-anchor="middle">29</text>
<text x="446.56" y="361.3" class="tk" font-size="7.9" text-anchor="middle">52</text>
<text x="462.40" y="361.3" class="tk" font-size="7.9" text-anchor="middle">22</text>
<text x="478.24" y="361.3" class="tk" font-size="7.9" text-anchor="middle">92</text>
<text x="494.08" y="361.3" class="tk" font-size="7.9" text-anchor="middle">11</text>
<text x="509.91" y="361.3" class="tk" font-size="7.9" text-anchor="middle">83</text>
<text x="525.75" y="361.3" class="tk" font-size="7.9" text-anchor="middle">70</text>
<text x="541.59" y="361.3" class="tk" font-size="7.9" text-anchor="middle">77</text>
<text x="557.42" y="361.3" class="tk" font-size="7.9" text-anchor="middle">63</text>
<text x="573.26" y="361.3" class="tk" font-size="7.9" text-anchor="middle">39</text>
<text x="577.4" y="77.31" class="tk" font-size="7.9">C</text>
<text x="577.4" y="89.34" class="tk" font-size="7.9">V</text>
<text x="577.4" y="101.37" class="tk" font-size="7.9">Ga</text>
<text x="577.4" y="113.40" class="tk" font-size="7.9">B</text>
<text x="577.4" y="125.43" class="tk" font-size="7.9">Ti</text>
<text x="577.4" y="137.46" class="tk" font-size="7.9">Sr</text>
<text x="577.4" y="149.49" class="tk" font-size="7.9">Yb</text>
<text x="577.4" y="161.52" class="tk" font-size="7.9">Pd</text>
<text x="577.4" y="173.55" class="tk" font-size="7.9">Sc</text>
<text x="577.4" y="185.58" class="tk" font-size="7.9">Nd</text>
<text x="577.4" y="197.61" class="tk" font-size="7.9">Tb</text>
<text x="577.4" y="209.64" class="tk" font-size="7.9">Sm</text>
<text x="577.4" y="221.66" class="tk" font-size="7.9">Pr</text>
<text x="577.4" y="233.69" class="tk" font-size="7.9">Ce</text>
<text x="577.4" y="245.72" class="tk" font-size="7.9">Ta</text>
<text x="577.4" y="257.75" class="tk" font-size="7.9">Hf</text>
<text x="577.4" y="269.78" class="tk" font-size="7.9">W</text>
<text x="577.4" y="281.81" class="tk" font-size="7.9">Ca</text>
<text x="577.4" y="293.84" class="tk" font-size="7.9">Sb</text>
<text x="577.4" y="305.87" class="tk" font-size="7.9">Cr</text>
<text x="577.4" y="317.90" class="tk" font-size="7.9">Mo</text>
<text x="577.4" y="329.93" class="tk" font-size="7.9">Ag</text>
<text x="577.4" y="341.96" class="tk" font-size="7.9">Pb</text>
<text x="577.4" y="353.99" class="tk" font-size="7.9">Zn</text>
<path d="M50.64 353.90v-1.6M66.48 353.90v-1.6M82.31 353.90v-1.6M98.15 353.90v-1.6M113.99 353.90v-1.6M129.82 353.90v-1.6M145.66 353.90v-1.6M161.50 353.90v-1.6M177.34 353.90v-1.6M193.17 353.90v-1.6M209.01 353.90v-1.6M224.85 353.90v-1.6M240.68 353.90v-1.6M256.52 353.90v-1.6M272.36 353.90v-1.6M288.19 353.90v-1.6M304.03 353.90v-1.6M319.87 353.90v-1.6M335.71 353.90v-1.6M351.54 353.90v-1.6M367.38 353.90v-1.6M383.22 353.90v-1.6M399.05 353.90v-1.6M414.89 353.90v-1.6M430.73 353.90v-1.6M446.56 353.90v-1.6M462.40 353.90v-1.6M478.24 353.90v-1.6M494.08 353.90v-1.6M509.91 353.90v-1.6M525.75 353.90v-1.6M541.59 353.90v-1.6M557.42 353.90v-1.6M573.26 353.90v-1.6M575.90 74.21h-1.6M575.90 86.24h-1.6M575.90 98.27h-1.6M575.90 110.30h-1.6M575.90 122.33h-1.6M575.90 134.36h-1.6M575.90 146.39h-1.6M575.90 158.42h-1.6M575.90 170.45h-1.6M575.90 182.48h-1.6M575.90 194.51h-1.6M575.90 206.54h-1.6M575.90 218.56h-1.6M575.90 230.59h-1.6M575.90 242.62h-1.6M575.90 254.65h-1.6M575.90 266.68h-1.6M575.90 278.71h-1.6M575.90 290.74h-1.6M575.90 302.77h-1.6M575.90 314.80h-1.6M575.90 326.83h-1.6M575.90 338.86h-1.6M575.90 350.89h-1.6" stroke="#000" stroke-width="0.8" fill="none"/>
<text x="318.5" y="377.2" class="tx" font-size="14.2" text-anchor="middle">100 dimensions</text>
<text transform="translate(595.0,203.3) rotate(90)" class="tx" font-size="13.5" text-anchor="middle">47 elements</text>
<path d="M50.64 70.9V3.4M55.92 70.9V3.4M61.20 70.9V6.5M66.48 70.9V3.4M71.76 70.9V6.5M77.03 70.9V6.5M82.31 70.9V6.5M87.59 70.9V7.1M92.87 70.9V15.0M98.15 70.9V12.2M103.43 70.9V15.0M108.71 70.9V16.0M113.99 70.9V15.5M119.27 70.9V19.5M124.55 70.9V16.5M129.82 70.9V19.8M135.10 70.9V20.5M140.38 70.9V20.7M145.66 70.9V21.0M150.94 70.9V21.0M156.22 70.9V21.0M161.50 70.9V21.5M166.78 70.9V21.7M172.06 70.9V21.7M177.34 70.9V21.7M182.61 70.9V22.3M187.89 70.9V24.2M193.17 70.9V25.0M198.45 70.9V25.0M203.73 70.9V25.0M209.01 70.9V25.1M214.29 70.9V32.0M219.57 70.9V32.0M224.85 70.9V32.0M230.13 70.9V32.0M235.40 70.9V26.5M240.68 70.9V26.5M245.96 70.9V26.5M251.24 70.9V26.5M256.52 70.9V26.7M261.80 70.9V27.2M267.08 70.9V27.6M272.36 70.9V28.4M277.64 70.9V28.6M282.92 70.9V29.1M288.19 70.9V29.6M293.47 70.9V31.3M298.75 70.9V31.3M304.03 70.9V31.5M309.31 70.9V29.4M314.59 70.9V32.2M319.87 70.9V33.6M325.15 70.9V35.1M330.43 70.9V37.3M335.71 70.9V37.3M340.98 70.9V40.4M346.26 70.9V48.2M351.54 70.9V48.2M356.82 70.9V43.8M362.10 70.9V46.3M367.38 70.9V46.3M372.66 70.9V36.3M377.94 70.9V36.3M383.22 70.9V29.7M388.50 70.9V29.7M393.77 70.9V30.0M399.05 70.9V30.7M404.33 70.9V30.9M409.61 70.9V32.6M414.89 70.9V32.6M420.17 70.9V31.2M425.45 70.9V31.5M430.73 70.9V31.5M436.01 70.9V34.6M441.29 70.9V34.6M446.56 70.9V32.2M451.84 70.9V35.4M457.12 70.9V35.6M462.40 70.9V42.6M467.68 70.9V42.6M472.96 70.9V33.1M478.24 70.9V33.1M483.52 70.9V46.8M488.80 70.9V46.8M494.08 70.9V37.3M499.35 70.9V37.3M504.63 70.9V43.3M509.91 70.9V43.3M515.19 70.9V39.5M520.47 70.9V39.5M525.75 70.9V34.3M531.03 70.9V41.5M536.31 70.9V41.5M541.59 70.9V36.9M546.87 70.9V42.6M552.14 70.9V42.6M557.42 70.9V43.2M562.70 70.9V22.8M567.98 70.9V30.5M573.26 70.9V30.5M50.64 3.4H66.48M61.20 6.5H82.31M77.03 7.1H87.59M82.31 12.0H98.15M92.87 15.0H113.99M108.71 16.0H124.55M119.27 19.5H135.10M129.82 20.5H140.38M140.38 21.0H166.78M161.50 21.7H182.61M177.34 22.8H562.70M187.89 24.2H198.45M193.17 25.1H216.93M215.93 26.2H235.40M235.40 26.5H256.52M256.52 27.2H267.08M261.80 27.6H272.36M267.08 28.4H282.92M277.64 28.9H288.19M282.92 29.6H304.03M304.03 31.5H314.59M314.59 32.2H322.51M319.87 33.6H330.43M325.15 35.1H333.07M333.07 35.6H375.30M340.98 40.4H354.50M348.60 42.9H356.82M356.82 44.3H364.74M309.31 29.4H393.77M388.50 30.0H404.33M399.05 31.3H420.17M420.17 31.6H430.73M430.73 32.2H446.56M409.61 32.5H414.89M446.56 32.8H478.24M478.24 33.6H517.83M517.83 34.3H545.50M451.84 35.4H465.04M486.16 35.1H498.60M494.08 37.3H507.30M541.59 36.9H550.30M562.70 23.1H570.62M214.29 32.0H219.57M224.85 32.0H230.13M293.47 31.3H298.75M330.43 37.3H335.71M346.26 48.2H351.54M362.10 46.3H367.38M372.66 36.3H377.94M436.01 34.6H441.29M462.40 42.6H467.68M483.52 46.8H488.80M504.63 43.3H509.91M515.19 39.5H520.47M531.03 41.5H536.31M546.87 42.6H552.14M552.14 43.2H557.42M567.98 30.5H573.26M216.93 25.1V32.0M227.49 26.2V32.0M296.11 29.6V31.3M333.07 35.1V37.3M347.70 35.6V40.4M354.50 40.4V42.9M348.60 42.9V48.2M364.74 44.3V46.3M375.30 35.6V36.3M438.65 32.0V34.6M465.04 35.4V42.6M485.90 33.6V46.8M498.60 33.6V37.3M507.30 37.3V43.3M517.83 33.6V39.5M533.67 34.3V41.5M550.30 36.9V42.6M570.62 23.1V30.5M545.50 34.3V36.9" stroke="#000" stroke-width="0.8" fill="none" stroke-linecap="square"/>
<text x="3.4" y="15.3" font-family="'Liberation Sans', Arial, sans-serif" font-weight="bold" font-size="21">a</text>
<text x="7.5" y="393.9" font-family="'Liberation Sans', Arial, sans-serif" font-weight="bold" font-size="21">b</text>
<text x="217.3" y="393.7" font-family="'Liberation Sans', Arial, sans-serif" font-weight="bold" font-size="21">c</text>
<text x="427.6" y="392.6" font-family="'Liberation Sans', Arial, sans-serif" font-weight="bold" font-size="21">d</text>
<circle cx="111.4" cy="401.5" r="2.85" fill="#ffffff" stroke="#2a2a2a" stroke-width="0.65"/>
<circle cx="138.6" cy="400.9" r="2.85" fill="#ffffff" stroke="#2a2a2a" stroke-width="0.65"/>
<circle cx="147.1" cy="417.7" r="2.85" fill="#f3e27c" stroke="#2a2a2a" stroke-width="0.65"/>
<circle cx="109.6" cy="434.0" r="2.85" fill="#f3e27c" stroke="#2a2a2a" stroke-width="0.65"/>
<circle cx="146.8" cy="440.0" r="2.85" fill="#85868b" stroke="#2a2a2a" stroke-width="0.65"/>
<circle cx="162.3" cy="445.6" r="2.85" fill="#ea6840" stroke="#2a2a2a" stroke-width="0.65"/>
<circle cx="118.9" cy="448.0" r="2.85" fill="#f3e27c" stroke="#2a2a2a" stroke-width="0.65"/>
<circle cx="174.7" cy="452.9" r="2.85" fill="#ecb2f0" stroke="#2a2a2a" stroke-width="0.65"/>
<circle cx="157.5" cy="459.7" r="2.85" fill="#ea6840" stroke="#2a2a2a" stroke-width="0.65"/>
<circle cx="110.9" cy="461.3" r="2.85" fill="#f3e27c" stroke="#2a2a2a" stroke-width="0.65"/>
<circle cx="123.2" cy="465.4" r="2.85" fill="#ea6840" stroke="#2a2a2a" stroke-width="0.65"/>
<circle cx="98.1" cy="467.2" r="2.85" fill="#ffffff" stroke="#2a2a2a" stroke-width="0.65"/>
<circle cx="116.2" cy="474.4" r="2.85" fill="#ffffff" stroke="#2a2a2a" stroke-width="0.65"/>
<circle cx="133.0" cy="478.9" r="2.85" fill="#ea6840" stroke="#2a2a2a" stroke-width="0.65"/>
<circle cx="103.2" cy="480.8" r="2.85" fill="#ffffff" stroke="#2a2a2a" stroke-width="0.65"/>
<circle cx="147.7" cy="481.6" r="2.85" fill="#ea6840" stroke="#2a2a2a" stroke-width="0.65"/>
<circle cx="77.2" cy="482.9" r="2.85" fill="#ea6840" stroke="#2a2a2a" stroke-width="0.65"/>
<circle cx="194.5" cy="488.1" r="2.85" fill="#ecb2f0" stroke="#2a2a2a" stroke-width="0.65"/>
<circle cx="100.5" cy="489.0" r="2.85" fill="#ea6840" stroke="#2a2a2a" stroke-width="0.65"/>
<circle cx="42.0" cy="489.5" r="2.85" fill="#9de266" stroke="#2a2a2a" stroke-width="0.65"/>
<circle cx="66.4" cy="494.3" r="2.85" fill="#9de266" stroke="#2a2a2a" stroke-width="0.65"/>
<circle cx="76.0" cy="494.6" r="2.85" fill="#ea6840" stroke="#2a2a2a" stroke-width="0.65"/>
<circle cx="94.1" cy="495.4" r="2.85" fill="#85868b" stroke="#2a2a2a" stroke-width="0.65"/>
<circle cx="54.2" cy="496.7" r="2.85" fill="#9de266" stroke="#2a2a2a" stroke-width="0.65"/>
<circle cx="170.2" cy="497.8" r="2.85" fill="#ecb2f0" stroke="#2a2a2a" stroke-width="0.65"/>
<circle cx="55.3" cy="501.8" r="2.85" fill="#9de266" stroke="#2a2a2a" stroke-width="0.65"/>
<circle cx="56.9" cy="502.6" r="2.85" fill="#9de266" stroke="#2a2a2a" stroke-width="0.65"/>
<circle cx="82.5" cy="504.5" r="2.85" fill="#ea6840" stroke="#2a2a2a" stroke-width="0.65"/>
<circle cx="154.3" cy="506.1" r="2.85" fill="#ecb2f0" stroke="#2a2a2a" stroke-width="0.65"/>
<circle cx="191.0" cy="508.4" r="2.85" fill="#85868b" stroke="#2a2a2a" stroke-width="0.65"/>
<circle cx="49.5" cy="511.1" r="2.85" fill="#9de266" stroke="#2a2a2a" stroke-width="0.65"/>
<circle cx="57.7" cy="513.8" r="2.85" fill="#9de266" stroke="#2a2a2a" stroke-width="0.65"/>
<circle cx="99.3" cy="515.1" r="2.85" fill="#85868b" stroke="#2a2a2a" stroke-width="0.65"/>
<circle cx="130.3" cy="515.7" r="2.85" fill="#ea6840" stroke="#2a2a2a" stroke-width="0.65"/>
<circle cx="89.7" cy="519.1" r="2.85" fill="#ea6840" stroke="#2a2a2a" stroke-width="0.65"/>
<circle cx="151.8" cy="521.5" r="2.85" fill="#85868b" stroke="#2a2a2a" stroke-width="0.65"/>
<circle cx="65.5" cy="523.0" r="2.85" fill="#9de266" stroke="#2a2a2a" stroke-width="0.65"/>
<circle cx="200.0" cy="523.1" r="2.85" fill="#ecb2f0" stroke="#2a2a2a" stroke-width="0.65"/>
<circle cx="43.1" cy="525.8" r="2.85" fill="#9de266" stroke="#2a2a2a" stroke-width="0.65"/>
<circle cx="98.9" cy="530.2" r="2.85" fill="#ecb2f0" stroke="#2a2a2a" stroke-width="0.65"/>
<circle cx="65.5" cy="530.5" r="2.85" fill="#9de266" stroke="#2a2a2a" stroke-width="0.65"/>
<circle cx="130.9" cy="535.1" r="2.85" fill="#ecb2f0" stroke="#2a2a2a" stroke-width="0.65"/>
<circle cx="93.6" cy="540.7" r="2.85" fill="#ea6840" stroke="#2a2a2a" stroke-width="0.65"/>
<circle cx="175.0" cy="541.1" r="2.85" fill="#85868b" stroke="#2a2a2a" stroke-width="0.65"/>
<circle cx="147.0" cy="554.3" r="2.85" fill="#ecb2f0" stroke="#2a2a2a" stroke-width="0.65"/>
<circle cx="199.8" cy="567.2" r="2.85" fill="#ecb2f0" stroke="#2a2a2a" stroke-width="0.65"/>
<circle cx="199.8" cy="572.3" r="2.85" fill="#ecb2f0" stroke="#2a2a2a" stroke-width="0.65"/>
<text x="107.8" y="401.3" class="lb" font-size="6.5" text-anchor="end">Ca</text>
<text x="142.4" y="400.3" class="lb" font-size="6.5" text-anchor="start">Mg</text>
<text x="147.1" y="413.4" class="lb" font-size="6.5" text-anchor="middle">P</text>
<text x="109.6" y="429.7" class="lb" font-size="6.5" text-anchor="middle">C</text>
<text x="146.8" y="435.7" class="lb" font-size="6.5" text-anchor="middle">Al</text>
<text x="162.3" y="441.3" class="lb" font-size="6.5" text-anchor="middle">Mn</text>
<text x="118.9" y="443.7" class="lb" font-size="6.5" text-anchor="middle">B</text>
<text x="174.7" y="448.6" class="lb" font-size="6.5" text-anchor="middle">Fe</text>
<text x="157.5" y="455.4" class="lb" font-size="6.5" text-anchor="middle">Cr</text>
<text x="110.9" y="457.0" class="lb" font-size="6.5" text-anchor="middle">Si</text>
<text x="123.2" y="461.1" class="lb" font-size="6.5" text-anchor="middle">Ti</text>
<text x="98.1" y="462.9" class="lb" font-size="6.5" text-anchor="middle">Sr</text>
<text x="116.2" y="470.1" class="lb" font-size="6.5" text-anchor="middle">Be</text>
<text x="133.0" y="474.6" class="lb" font-size="6.5" text-anchor="middle">V</text>
<text x="103.2" y="476.5" class="lb" font-size="6.5" text-anchor="middle">Ba</text>
<text x="147.7" y="477.3" class="lb" font-size="6.5" text-anchor="middle">Mo</text>
<text x="77.2" y="478.6" class="lb" font-size="6.5" text-anchor="middle">Sc</text>
<text x="194.5" y="483.8" class="lb" font-size="6.5" text-anchor="middle">Zn</text>
<text x="102.7" y="497.2" class="lb" font-size="6.5" text-anchor="start">Zr</text>
<text x="42.0" y="485.2" class="lb" font-size="6.5" text-anchor="middle">La</text>
<text x="66.4" y="490.0" class="lb" font-size="6.5" text-anchor="middle">Ce</text>
<text x="79.9" y="491.6" class="lb" font-size="6.5" text-anchor="middle">Y</text>
<text x="94.1" y="491.1" class="lb" font-size="6.5" text-anchor="middle">Ga</text>
<text x="54.2" y="492.4" class="lb" font-size="6.5" text-anchor="middle">Nd</text>
<text x="170.2" y="493.5" class="lb" font-size="6.5" text-anchor="middle">Ni</text>
<text x="51.5" y="504.1" class="lb" font-size="6.5" text-anchor="end">Gd</text>
<text x="60.7" y="504.9" class="lb" font-size="6.5" text-anchor="start">Sm</text>
<text x="82.5" y="500.2" class="lb" font-size="6.5" text-anchor="middle">Hf</text>
<text x="154.3" y="501.8" class="lb" font-size="6.5" text-anchor="middle">Co</text>
<text x="191.0" y="504.1" class="lb" font-size="6.5" text-anchor="middle">Pb</text>
<text x="47.3" y="508.5" class="lb" font-size="6.5" text-anchor="end">Dy</text>
<text x="56.9" y="522.8" class="lb" font-size="6.5" text-anchor="end">Yb</text>
<text x="99.3" y="510.8" class="lb" font-size="6.5" text-anchor="middle">Ge</text>
<text x="130.3" y="511.4" class="lb" font-size="6.5" text-anchor="middle">W</text>
<text x="89.7" y="514.8" class="lb" font-size="6.5" text-anchor="middle">Nb</text>
<text x="151.8" y="517.2" class="lb" font-size="6.5" text-anchor="middle">Sb</text>
<text x="65.5" y="518.7" class="lb" font-size="6.5" text-anchor="middle">Tb</text>
<text x="200.0" y="518.8" class="lb" font-size="6.5" text-anchor="middle">Cu</text>
<text x="43.1" y="521.5" class="lb" font-size="6.5" text-anchor="middle">Pr</text>
<text x="98.9" y="525.9" class="lb" font-size="6.5" text-anchor="middle">Ru</text>
<text x="65.5" y="540.1" class="lb" font-size="6.5" text-anchor="middle">Er</text>
<text x="130.9" y="530.8" class="lb" font-size="6.5" text-anchor="middle">Pd</text>
<text x="93.6" y="536.4" class="lb" font-size="6.5" text-anchor="middle">Ta</text>
<text x="175.0" y="536.8" class="lb" font-size="6.5" text-anchor="middle">Sn</text>
<text x="147.0" y="550.0" class="lb" font-size="6.5" text-anchor="middle">Pt</text>
<text x="199.8" y="562.9" class="lb" font-size="6.5" text-anchor="middle">Ag</text>
<text x="196.0" y="574.6" class="lb" font-size="6.5" text-anchor="end">Au</text>
<path d="M34.1 392.0V580.9" stroke="#7a7a7a" stroke-width="1.6"/>
<path d="M208.0 392.0V580.9" stroke="#bbb" stroke-width="1.7"/>
<path d="M33.6 392.5H208.5" stroke="#222" stroke-width="1.0"/>
<path d="M33.6 580.4H208.5" stroke="#222" stroke-width="1.0"/>
<text x="41.4" y="588.9" class="ak" font-size="9" text-anchor="middle">−0.4</text>
<text x="79.6" y="588.9" class="ak" font-size="9" text-anchor="middle">−0.2</text>
<text x="117.8" y="588.9" class="ak" font-size="9" text-anchor="middle">0.0</text>
<text x="156.0" y="588.9" class="ak" font-size="9" text-anchor="middle">0.2</text>
<text x="194.2" y="588.9" class="ak" font-size="9" text-anchor="middle">0.4</text>
<text x="31.8" y="414.9" class="ak" font-size="9" text-anchor="end">0.4</text>
<text x="31.8" y="455.8" class="ak" font-size="9" text-anchor="end">0.2</text>
<text x="31.8" y="496.7" class="ak" font-size="9" text-anchor="end">0.0</text>
<text x="31.8" y="537.6" class="ak" font-size="9" text-anchor="end">−0.2</text>
<text x="31.8" y="578.5" class="ak" font-size="9" text-anchor="end">−0.4</text>
<path d="M41.4 580.3v-2M79.6 580.3v-2M117.8 580.3v-2M156.0 580.3v-2M194.2 580.3v-2M34.4 411.7h2M34.4 452.6h2M34.4 493.5h2M34.4 534.4h2M34.4 575.3h2" stroke="#333" stroke-width="0.7"/>
<g transform="translate(121.00 596.50)"><text x="-15.30" y="3.2" class="tx" font-size="8.9" textLength="14.6" lengthAdjust="spacingAndGlyphs">PCA</text><text x="7.10" y="3.2" font-family="'DejaVu Sans', sans-serif" font-style="italic" font-size="7.9" fill="#000" stroke="#000" stroke-width="0.15">d<tspan font-size="5.4" dy="1.7">1</tspan></text></g>
<g transform="translate(7.70 486.40) rotate(-90)"><text x="-15.30" y="3.2" class="tx" font-size="8.9" textLength="14.6" lengthAdjust="spacingAndGlyphs">PCA</text><text x="7.10" y="3.2" font-family="'DejaVu Sans', sans-serif" font-style="italic" font-size="7.9" fill="#000" stroke="#000" stroke-width="0.15">d<tspan font-size="5.4" dy="1.7">2</tspan></text></g>
<circle cx="354.9" cy="401.5" r="2.85" fill="#9de266" stroke="#2a2a2a" stroke-width="0.65"/>
<circle cx="324.3" cy="410.1" r="2.85" fill="#9de266" stroke="#2a2a2a" stroke-width="0.65"/>
<circle cx="380.2" cy="416.6" r="2.85" fill="#9de266" stroke="#2a2a2a" stroke-width="0.65"/>
<circle cx="351.7" cy="419.0" r="2.85" fill="#9de266" stroke="#2a2a2a" stroke-width="0.65"/>
<circle cx="344.5" cy="420.3" r="2.85" fill="#9de266" stroke="#2a2a2a" stroke-width="0.65"/>
<circle cx="330.3" cy="423.6" r="2.85" fill="#9de266" stroke="#2a2a2a" stroke-width="0.65"/>
<circle cx="354.9" cy="426.3" r="2.85" fill="#9de266" stroke="#2a2a2a" stroke-width="0.65"/>
<circle cx="338.8" cy="429.9" r="2.85" fill="#9de266" stroke="#2a2a2a" stroke-width="0.65"/>
<circle cx="371.6" cy="430.4" r="2.85" fill="#9de266" stroke="#2a2a2a" stroke-width="0.65"/>
<circle cx="375.6" cy="431.5" r="2.85" fill="#9de266" stroke="#2a2a2a" stroke-width="0.65"/>
<circle cx="313.3" cy="437.0" r="2.85" fill="#ea6840" stroke="#2a2a2a" stroke-width="0.65"/>
<circle cx="353.0" cy="447.4" r="2.85" fill="#ea6840" stroke="#2a2a2a" stroke-width="0.65"/>
<circle cx="284.1" cy="451.5" r="2.85" fill="#ecb2f0" stroke="#2a2a2a" stroke-width="0.65"/>
<circle cx="326.2" cy="455.0" r="2.85" fill="#ea6840" stroke="#2a2a2a" stroke-width="0.65"/>
<circle cx="328.3" cy="459.9" r="2.85" fill="#ea6840" stroke="#2a2a2a" stroke-width="0.65"/>
<circle cx="270.0" cy="460.8" r="2.85" fill="#ecb2f0" stroke="#2a2a2a" stroke-width="0.65"/>
<circle cx="329.4" cy="462.3" r="2.85" fill="#ea6840" stroke="#2a2a2a" stroke-width="0.65"/>
<circle cx="390.5" cy="462.8" r="2.85" fill="#85868b" stroke="#2a2a2a" stroke-width="0.65"/>
<circle cx="390.5" cy="466.0" r="2.85" fill="#85868b" stroke="#2a2a2a" stroke-width="0.65"/>
<circle cx="270.4" cy="467.5" r="2.85" fill="#ecb2f0" stroke="#2a2a2a" stroke-width="0.65"/>
<circle cx="336.7" cy="469.3" r="2.85" fill="#ea6840" stroke="#2a2a2a" stroke-width="0.65"/>
<circle cx="359.2" cy="478.5" r="2.85" fill="#ffffff" stroke="#2a2a2a" stroke-width="0.65"/>
<circle cx="361.4" cy="477.7" r="2.85" fill="#ffffff" stroke="#2a2a2a" stroke-width="0.65"/>
<circle cx="401.6" cy="487.5" r="2.85" fill="#f3e27c" stroke="#2a2a2a" stroke-width="0.65"/>
<circle cx="332.0" cy="491.2" r="2.85" fill="#ea6840" stroke="#2a2a2a" stroke-width="0.65"/>
<circle cx="282.9" cy="495.4" r="2.85" fill="#ea6840" stroke="#2a2a2a" stroke-width="0.65"/>
<circle cx="302.4" cy="498.2" r="2.85" fill="#ea6840" stroke="#2a2a2a" stroke-width="0.65"/>
<circle cx="363.8" cy="498.5" r="2.85" fill="#ffffff" stroke="#2a2a2a" stroke-width="0.65"/>
<circle cx="383.5" cy="499.5" r="2.85" fill="#f3e27c" stroke="#2a2a2a" stroke-width="0.65"/>
<circle cx="243.8" cy="501.7" r="2.85" fill="#f3e27c" stroke="#2a2a2a" stroke-width="0.65"/>
<circle cx="323.4" cy="506.3" r="2.85" fill="#ea6840" stroke="#2a2a2a" stroke-width="0.65"/>
<circle cx="273.6" cy="510.1" r="2.85" fill="#85868b" stroke="#2a2a2a" stroke-width="0.65"/>
<circle cx="314.7" cy="512.7" r="2.85" fill="#ecb2f0" stroke="#2a2a2a" stroke-width="0.65"/>
<circle cx="315.6" cy="517.1" r="2.85" fill="#ecb2f0" stroke="#2a2a2a" stroke-width="0.65"/>
<circle cx="319.7" cy="521.2" r="2.85" fill="#ea6840" stroke="#2a2a2a" stroke-width="0.65"/>
<circle cx="307.3" cy="528.9" r="2.85" fill="#ea6840" stroke="#2a2a2a" stroke-width="0.65"/>
<circle cx="371.9" cy="533.5" r="2.85" fill="#85868b" stroke="#2a2a2a" stroke-width="0.65"/>
<circle cx="271.8" cy="535.0" r="2.85" fill="#ffffff" stroke="#2a2a2a" stroke-width="0.65"/>
<circle cx="334.7" cy="539.4" r="2.85" fill="#ecb2f0" stroke="#2a2a2a" stroke-width="0.65"/>
<circle cx="264.1" cy="541.5" r="2.85" fill="#ffffff" stroke="#2a2a2a" stroke-width="0.65"/>
<circle cx="356.8" cy="542.2" r="2.85" fill="#85868b" stroke="#2a2a2a" stroke-width="0.65"/>
<circle cx="362.0" cy="544.6" r="2.85" fill="#85868b" stroke="#2a2a2a" stroke-width="0.65"/>
<circle cx="285.2" cy="545.1" r="2.85" fill="#f3e27c" stroke="#2a2a2a" stroke-width="0.65"/>
<circle cx="310.5" cy="545.1" r="2.85" fill="#ecb2f0" stroke="#2a2a2a" stroke-width="0.65"/>
<circle cx="340.6" cy="549.6" r="2.85" fill="#ecb2f0" stroke="#2a2a2a" stroke-width="0.65"/>
<circle cx="353.1" cy="568.9" r="2.85" fill="#ecb2f0" stroke="#2a2a2a" stroke-width="0.65"/>
<circle cx="353.7" cy="573.5" r="2.85" fill="#ecb2f0" stroke="#2a2a2a" stroke-width="0.65"/>
<text x="357.9" y="400.9" class="lb" font-size="6.5" text-anchor="start">Pr</text>
<text x="324.3" y="405.8" class="lb" font-size="6.5" text-anchor="middle">Gd</text>
<text x="380.2" y="412.3" class="lb" font-size="6.5" text-anchor="middle">Yb</text>
<text x="351.7" y="414.7" class="lb" font-size="6.5" text-anchor="middle">Nd</text>
<text x="344.5" y="416.0" class="lb" font-size="6.5" text-anchor="middle">La</text>
<text x="330.3" y="419.3" class="lb" font-size="6.5" text-anchor="middle">Sm</text>
<text x="357.1" y="434.5" class="lb" font-size="6.5" text-anchor="start">Dy</text>
<text x="338.8" y="425.6" class="lb" font-size="6.5" text-anchor="middle">Ce</text>
<text x="371.6" y="426.1" class="lb" font-size="6.5" text-anchor="middle">Tb</text>
<text x="375.6" y="441.1" class="lb" font-size="6.5" text-anchor="middle">Er</text>
<text x="313.3" y="432.7" class="lb" font-size="6.5" text-anchor="middle">Sc</text>
<text x="353.0" y="443.1" class="lb" font-size="6.5" text-anchor="middle">Y</text>
<text x="284.1" y="447.2" class="lb" font-size="6.5" text-anchor="middle">Ru</text>
<text x="326.2" y="450.7" class="lb" font-size="6.5" text-anchor="middle">Hf</text>
<text x="331.3" y="459.3" class="lb" font-size="6.5" text-anchor="start">Ta</text>
<text x="270.0" y="456.5" class="lb" font-size="6.5" text-anchor="middle">Pd</text>
<text x="328.6" y="471.3" class="lb" font-size="6.5" text-anchor="end">Nb</text>
<text x="390.5" y="458.5" class="lb" font-size="6.5" text-anchor="middle">Ga</text>
<text x="390.5" y="475.6" class="lb" font-size="6.5" text-anchor="middle">Ge</text>
<text x="274.2" y="469.8" class="lb" font-size="6.5" text-anchor="start">Pt</text>
<text x="336.7" y="465.0" class="lb" font-size="6.5" text-anchor="middle">Zr</text>
<text x="359.2" y="474.2" class="lb" font-size="6.5" text-anchor="middle">Sr</text>
<text x="365.2" y="480.0" class="lb" font-size="6.5" text-anchor="start">Ba</text>
<text x="401.6" y="483.2" class="lb" font-size="6.5" text-anchor="middle">Si</text>
<text x="332.0" y="486.9" class="lb" font-size="6.5" text-anchor="middle">W</text>
<text x="282.9" y="491.1" class="lb" font-size="6.5" text-anchor="middle">Ti</text>
<text x="302.4" y="493.9" class="lb" font-size="6.5" text-anchor="middle">V</text>
<text x="363.8" y="494.2" class="lb" font-size="6.5" text-anchor="middle">Be</text>
<text x="383.5" y="495.2" class="lb" font-size="6.5" text-anchor="middle">B</text>
<text x="243.8" y="497.4" class="lb" font-size="6.5" text-anchor="middle">C</text>
<text x="323.4" y="502.0" class="lb" font-size="6.5" text-anchor="middle">Mo</text>
<text x="273.6" y="505.8" class="lb" font-size="6.5" text-anchor="middle">Al</text>
<text x="314.7" y="508.7" class="lb" font-size="6.5" text-anchor="middle">Co</text>
<text x="319.2" y="516.1" class="lb" font-size="6.5" text-anchor="start">Ni</text>
<text x="322.6" y="530.8" class="lb" font-size="6.5" text-anchor="middle">Cr</text>
<text x="307.3" y="524.6" class="lb" font-size="6.5" text-anchor="middle">Mn</text>
<text x="371.9" y="529.2" class="lb" font-size="6.5" text-anchor="middle">Sb</text>
<text x="271.8" y="530.7" class="lb" font-size="6.5" text-anchor="middle">Mg</text>
<text x="334.7" y="535.1" class="lb" font-size="6.5" text-anchor="middle">Zn</text>
<text x="263.6" y="537.3" class="lb" font-size="6.5" text-anchor="middle">Ca</text>
<text x="356.8" y="537.9" class="lb" font-size="6.5" text-anchor="middle">Pb</text>
<text x="362.0" y="554.2" class="lb" font-size="6.5" text-anchor="middle">Sn</text>
<text x="285.2" y="540.8" class="lb" font-size="6.5" text-anchor="middle">P</text>
<text x="310.5" y="540.8" class="lb" font-size="6.5" text-anchor="middle">Fe</text>
<text x="343.7" y="545.8" class="lb" font-size="6.5" text-anchor="middle">Cu</text>
<text x="353.1" y="564.6" class="lb" font-size="6.5" text-anchor="middle">Ag</text>
<text x="357.5" y="575.8" class="lb" font-size="6.5" text-anchor="start">Au</text>
<path d="M236.1 392.9V581.8" stroke="#808080" stroke-width="1.6"/>
<path d="M409.5 392.9V581.8" stroke="#333" stroke-width="1.1"/>
<path d="M235.6 393.4H410.0" stroke="#666" stroke-width="1.3"/>
<path d="M235.6 581.3H410.0" stroke="#333" stroke-width="1.1"/>
<text x="275.1" y="589.8" class="ak" font-size="9" text-anchor="middle">1</text>
<text x="314.6" y="589.8" class="ak" font-size="9" text-anchor="middle">2</text>
<text x="354.1" y="589.8" class="ak" font-size="9" text-anchor="middle">3</text>
<text x="393.6" y="589.8" class="ak" font-size="9" text-anchor="middle">4</text>
<text x="233.7" y="418.3" class="ak" font-size="9" text-anchor="end">3</text>
<text x="233.7" y="451.3" class="ak" font-size="9" text-anchor="end">2</text>
<text x="233.7" y="484.4" class="ak" font-size="9" text-anchor="end">1</text>
<text x="233.7" y="517.5" class="ak" font-size="9" text-anchor="end">0</text>
<text x="233.7" y="550.6" class="ak" font-size="9" text-anchor="end">−1</text>
<text x="233.7" y="583.7" class="ak" font-size="9" text-anchor="end">−2</text>
<path d="M275.1 581.2v-2M314.6 581.2v-2M354.1 581.2v-2M393.6 581.2v-2M236.3 415.1h2M236.3 448.1h2M236.3 481.2h2M236.3 514.3h2M236.3 547.4h2M236.3 580.5h2" stroke="#333" stroke-width="0.7"/>
<g transform="translate(322.95 597.40)"><text x="-18.50" y="3.2" class="tx" font-size="8.9" textLength="21.0" lengthAdjust="spacingAndGlyphs">t-SNE</text><text x="10.30" y="3.2" font-family="'DejaVu Sans', sans-serif" font-style="italic" font-size="7.9" fill="#000" stroke="#000" stroke-width="0.15">d<tspan font-size="5.4" dy="1.7">1</tspan></text></g>
<g transform="translate(216.50 487.20) rotate(-90)"><text x="-18.50" y="3.2" class="tx" font-size="8.9" textLength="21.0" lengthAdjust="spacingAndGlyphs">t-SNE</text><text x="10.30" y="3.2" font-family="'DejaVu Sans', sans-serif" font-style="italic" font-size="7.9" fill="#000" stroke="#000" stroke-width="0.15">d<tspan font-size="5.4" dy="1.7">2</tspan></text></g>
<circle cx="508.9" cy="402.5" r="2.85" fill="#9de266" stroke="#2a2a2a" stroke-width="0.65"/>
<circle cx="512.3" cy="407.2" r="2.85" fill="#9de266" stroke="#2a2a2a" stroke-width="0.65"/>
<circle cx="553.5" cy="408.8" r="2.85" fill="#9de266" stroke="#2a2a2a" stroke-width="0.65"/>
<circle cx="485.1" cy="410.6" r="2.85" fill="#9de266" stroke="#2a2a2a" stroke-width="0.65"/>
<circle cx="542.6" cy="413.4" r="2.85" fill="#9de266" stroke="#2a2a2a" stroke-width="0.65"/>
<circle cx="504.2" cy="416.3" r="2.85" fill="#9de266" stroke="#2a2a2a" stroke-width="0.65"/>
<circle cx="508.9" cy="419.8" r="2.85" fill="#9de266" stroke="#2a2a2a" stroke-width="0.65"/>
<circle cx="551.0" cy="423.9" r="2.85" fill="#9de266" stroke="#2a2a2a" stroke-width="0.65"/>
<circle cx="524.5" cy="424.7" r="2.85" fill="#9de266" stroke="#2a2a2a" stroke-width="0.65"/>
<circle cx="559.6" cy="428.4" r="2.85" fill="#9de266" stroke="#2a2a2a" stroke-width="0.65"/>
<circle cx="476.7" cy="435.7" r="2.85" fill="#ea6840" stroke="#2a2a2a" stroke-width="0.65"/>
<circle cx="522.4" cy="440.4" r="2.85" fill="#ea6840" stroke="#2a2a2a" stroke-width="0.65"/>
<circle cx="477.0" cy="447.9" r="2.85" fill="#ea6840" stroke="#2a2a2a" stroke-width="0.65"/>
<circle cx="590.7" cy="453.9" r="2.85" fill="#ffffff" stroke="#2a2a2a" stroke-width="0.65"/>
<circle cx="534.3" cy="459.1" r="2.85" fill="#ea6840" stroke="#2a2a2a" stroke-width="0.65"/>
<circle cx="510.2" cy="460.4" r="2.85" fill="#85868b" stroke="#2a2a2a" stroke-width="0.65"/>
<circle cx="578.1" cy="461.7" r="2.85" fill="#ffffff" stroke="#2a2a2a" stroke-width="0.65"/>
<circle cx="471.3" cy="463.9" r="2.85" fill="#ea6840" stroke="#2a2a2a" stroke-width="0.65"/>
<circle cx="494.0" cy="469.3" r="2.85" fill="#85868b" stroke="#2a2a2a" stroke-width="0.65"/>
<circle cx="460.8" cy="473.0" r="2.85" fill="#ea6840" stroke="#2a2a2a" stroke-width="0.65"/>
<circle cx="568.9" cy="476.2" r="2.85" fill="#ffffff" stroke="#2a2a2a" stroke-width="0.65"/>
<circle cx="520.0" cy="476.9" r="2.85" fill="#f3e27c" stroke="#2a2a2a" stroke-width="0.65"/>
<circle cx="555.1" cy="488.4" r="2.85" fill="#f3e27c" stroke="#2a2a2a" stroke-width="0.65"/>
<circle cx="488.6" cy="496.2" r="2.85" fill="#ea6840" stroke="#2a2a2a" stroke-width="0.65"/>
<circle cx="565.8" cy="496.2" r="2.85" fill="#f3e27c" stroke="#2a2a2a" stroke-width="0.65"/>
<circle cx="529.5" cy="498.9" r="2.85" fill="#ea6840" stroke="#2a2a2a" stroke-width="0.65"/>
<circle cx="604.5" cy="506.3" r="2.85" fill="#ffffff" stroke="#2a2a2a" stroke-width="0.65"/>
<circle cx="448.4" cy="506.3" r="2.85" fill="#ecb2f0" stroke="#2a2a2a" stroke-width="0.65"/>
<circle cx="540.0" cy="510.9" r="2.85" fill="#85868b" stroke="#2a2a2a" stroke-width="0.65"/>
<circle cx="573.5" cy="511.8" r="2.85" fill="#ffffff" stroke="#2a2a2a" stroke-width="0.65"/>
<circle cx="512.3" cy="520.5" r="2.85" fill="#ea6840" stroke="#2a2a2a" stroke-width="0.65"/>
<circle cx="459.5" cy="521.4" r="2.85" fill="#ecb2f0" stroke="#2a2a2a" stroke-width="0.65"/>
<circle cx="563.0" cy="521.4" r="2.85" fill="#ea6840" stroke="#2a2a2a" stroke-width="0.65"/>
<circle cx="587.9" cy="524.4" r="2.85" fill="#f3e27c" stroke="#2a2a2a" stroke-width="0.65"/>
<circle cx="523.3" cy="526.4" r="2.85" fill="#ea6840" stroke="#2a2a2a" stroke-width="0.65"/>
<circle cx="471.8" cy="529.9" r="2.85" fill="#ecb2f0" stroke="#2a2a2a" stroke-width="0.65"/>
<circle cx="529.9" cy="534.9" r="2.85" fill="#ecb2f0" stroke="#2a2a2a" stroke-width="0.65"/>
<circle cx="505.1" cy="535.8" r="2.85" fill="#ecb2f0" stroke="#2a2a2a" stroke-width="0.65"/>
<circle cx="567.3" cy="536.3" r="2.85" fill="#ea6840" stroke="#2a2a2a" stroke-width="0.65"/>
<circle cx="543.7" cy="545.0" r="2.85" fill="#ecb2f0" stroke="#2a2a2a" stroke-width="0.65"/>
<circle cx="477.3" cy="547.4" r="2.85" fill="#ecb2f0" stroke="#2a2a2a" stroke-width="0.65"/>
<circle cx="469.2" cy="550.0" r="2.85" fill="#ecb2f0" stroke="#2a2a2a" stroke-width="0.65"/>
<circle cx="504.6" cy="551.4" r="2.85" fill="#ecb2f0" stroke="#2a2a2a" stroke-width="0.65"/>
<circle cx="524.8" cy="553.7" r="2.85" fill="#ecb2f0" stroke="#2a2a2a" stroke-width="0.65"/>
<circle cx="495.7" cy="563.8" r="2.85" fill="#85868b" stroke="#2a2a2a" stroke-width="0.65"/>
<circle cx="514.7" cy="566.5" r="2.85" fill="#85868b" stroke="#2a2a2a" stroke-width="0.65"/>
<circle cx="512.9" cy="571.7" r="2.85" fill="#85868b" stroke="#2a2a2a" stroke-width="0.65"/>
<text x="506.7" y="399.9" class="lb" font-size="6.5" text-anchor="end">Sm</text>
<text x="516.1" y="409.5" class="lb" font-size="6.5" text-anchor="start">Nd</text>
<text x="553.5" y="404.5" class="lb" font-size="6.5" text-anchor="middle">Pr</text>
<text x="485.1" y="406.3" class="lb" font-size="6.5" text-anchor="middle">Dy</text>
<text x="542.6" y="409.1" class="lb" font-size="6.5" text-anchor="middle">La</text>
<text x="504.2" y="412.0" class="lb" font-size="6.5" text-anchor="middle">Yb</text>
<text x="511.8" y="428.9" class="lb" font-size="6.5" text-anchor="middle">Er</text>
<text x="551.0" y="419.6" class="lb" font-size="6.5" text-anchor="middle">Gd</text>
<text x="524.5" y="420.4" class="lb" font-size="6.5" text-anchor="middle">Tb</text>
<text x="559.6" y="424.1" class="lb" font-size="6.5" text-anchor="middle">Ce</text>
<text x="476.7" y="431.4" class="lb" font-size="6.5" text-anchor="middle">Sc</text>
<text x="522.4" y="436.1" class="lb" font-size="6.5" text-anchor="middle">Y</text>
<text x="479.6" y="445.9" class="lb" font-size="6.5" text-anchor="start">Hf</text>
<text x="590.7" y="449.6" class="lb" font-size="6.5" text-anchor="middle">Ba</text>
<text x="534.3" y="454.8" class="lb" font-size="6.5" text-anchor="middle">Zr</text>
<text x="510.2" y="456.1" class="lb" font-size="6.5" text-anchor="middle">Ga</text>
<text x="578.1" y="457.4" class="lb" font-size="6.5" text-anchor="middle">Sr</text>
<text x="471.3" y="459.6" class="lb" font-size="6.5" text-anchor="middle">Nb</text>
<text x="494.0" y="465.0" class="lb" font-size="6.5" text-anchor="middle">Ge</text>
<text x="460.8" y="468.7" class="lb" font-size="6.5" text-anchor="middle">Ta</text>
<text x="568.9" y="471.9" class="lb" font-size="6.5" text-anchor="middle">Be</text>
<text x="520.0" y="472.6" class="lb" font-size="6.5" text-anchor="middle">Si</text>
<text x="555.1" y="484.1" class="lb" font-size="6.5" text-anchor="middle">B</text>
<text x="488.6" y="491.9" class="lb" font-size="6.5" text-anchor="middle">W</text>
<text x="565.8" y="491.9" class="lb" font-size="6.5" text-anchor="middle">C</text>
<text x="529.5" y="494.6" class="lb" font-size="6.5" text-anchor="middle">Ti</text>
<text x="604.5" y="502.0" class="lb" font-size="6.5" text-anchor="middle">Ca</text>
<text x="448.4" y="502.0" class="lb" font-size="6.5" text-anchor="middle">Ru</text>
<text x="540.0" y="506.6" class="lb" font-size="6.5" text-anchor="middle">Al</text>
<text x="573.5" y="507.5" class="lb" font-size="6.5" text-anchor="middle">Mg</text>
<text x="512.3" y="516.2" class="lb" font-size="6.5" text-anchor="middle">V</text>
<text x="459.5" y="517.1" class="lb" font-size="6.5" text-anchor="middle">Pd</text>
<text x="563.0" y="517.1" class="lb" font-size="6.5" text-anchor="middle">Cr</text>
<text x="587.9" y="520.1" class="lb" font-size="6.5" text-anchor="middle">P</text>
<text x="523.3" y="522.1" class="lb" font-size="6.5" text-anchor="middle">Mo</text>
<text x="471.8" y="525.6" class="lb" font-size="6.5" text-anchor="middle">Pt</text>
<text x="529.9" y="530.6" class="lb" font-size="6.5" text-anchor="middle">Ni</text>
<text x="505.1" y="531.5" class="lb" font-size="6.5" text-anchor="middle">Co</text>
<text x="567.3" y="532.0" class="lb" font-size="6.5" text-anchor="middle">Mn</text>
<text x="543.7" y="540.7" class="lb" font-size="6.5" text-anchor="middle">Fe</text>
<text x="477.3" y="543.1" class="lb" font-size="6.5" text-anchor="middle">Ag</text>
<text x="469.2" y="545.7" class="lb" font-size="6.5" text-anchor="middle">Au</text>
<text x="504.6" y="547.1" class="lb" font-size="6.5" text-anchor="middle">Cu</text>
<text x="524.8" y="549.4" class="lb" font-size="6.5" text-anchor="middle">Zn</text>
<text x="495.7" y="559.5" class="lb" font-size="6.5" text-anchor="middle">Sn</text>
<text x="514.7" y="562.2" class="lb" font-size="6.5" text-anchor="middle">Pb</text>
<text x="509.1" y="574.0" class="lb" font-size="6.5" text-anchor="end">Sb</text>
<path d="M440.6 394.0V580.9" stroke="#6a6a6a" stroke-width="1.3"/>
<path d="M612.4 394.0V580.9" stroke="#5a5a5a" stroke-width="1.3"/>
<path d="M440.1 394.5H612.9" stroke="#333" stroke-width="1.1"/>
<path d="M440.1 580.4H612.9" stroke="#333" stroke-width="1.1"/>
<text x="468.8" y="589.1" class="ak" font-size="9" text-anchor="middle">−1.0</text>
<text x="497.4" y="589.1" class="ak" font-size="9" text-anchor="middle">−0.5</text>
<text x="526.0" y="589.1" class="ak" font-size="9" text-anchor="middle">0.0</text>
<text x="554.6" y="589.1" class="ak" font-size="9" text-anchor="middle">0.5</text>
<text x="583.2" y="589.1" class="ak" font-size="9" text-anchor="middle">1.0</text>
<text x="611.9" y="589.1" class="ak" font-size="9" text-anchor="middle">1.5</text>
<text x="438.1" y="424.6" class="ak" font-size="9" text-anchor="end">1</text>
<text x="438.1" y="453.5" class="ak" font-size="9" text-anchor="end">0</text>
<text x="438.1" y="482.4" class="ak" font-size="9" text-anchor="end">−1</text>
<text x="438.1" y="511.2" class="ak" font-size="9" text-anchor="end">−2</text>
<text x="438.1" y="540.1" class="ak" font-size="9" text-anchor="end">−3</text>
<text x="438.1" y="568.9" class="ak" font-size="9" text-anchor="end">−4</text>
<path d="M468.8 580.5v-2M497.4 580.5v-2M526.0 580.5v-2M554.6 580.5v-2M583.2 580.5v-2M611.9 580.5v-2M440.7 421.4h2M440.7 450.3h2M440.7 479.2h2M440.7 508.0h2M440.7 536.9h2M440.7 565.7h2" stroke="#333" stroke-width="0.7"/>
<g transform="translate(526.50 596.70)"><text x="-18.70" y="3.2" class="tx" font-size="8.9" textLength="21.4" lengthAdjust="spacingAndGlyphs">UMAP</text><text x="10.50" y="3.2" font-family="'DejaVu Sans', sans-serif" font-style="italic" font-size="7.9" fill="#000" stroke="#000" stroke-width="0.15">d<tspan font-size="5.4" dy="1.7">1</tspan></text></g>
<g transform="translate(421.20 487.50) rotate(-90)"><text x="-18.70" y="3.2" class="tx" font-size="8.9" textLength="21.4" lengthAdjust="spacingAndGlyphs">UMAP</text><text x="10.50" y="3.2" font-family="'DejaVu Sans', sans-serif" font-style="italic" font-size="7.9" fill="#000" stroke="#000" stroke-width="0.15">d<tspan font-size="5.4" dy="1.7">2</tspan></text></g>
<circle cx="64.7" cy="615.6" r="6.1" fill="#ffffff" stroke="#aaa" stroke-width="0.9"/>
<text x="78.8" y="618.2" class="tx" font-size="8.3">Group 1-2</text>
<circle cx="133.4" cy="616.4" r="6.1" fill="#85868b" stroke="#555" stroke-width="0.9"/>
<text x="146.7" y="618.7" class="tx" font-size="8.3">Post-group 3</text>
<circle cx="205.6" cy="617.3" r="6.1" fill="#9de266" stroke="#3f7a22" stroke-width="0.9"/>
<text x="218.9" y="620.6" class="tx" font-size="8.3">Rare earth metals</text>
<circle cx="295.5" cy="618.2" r="6.1" fill="#f3e27c" stroke="#9a8a30" stroke-width="0.9"/>
<text x="309.1" y="620.6" class="tx" font-size="8.3">Nonmetals</text>
<circle cx="362.5" cy="618.2" r="6.1" fill="#ea6840" stroke="#8a3a1c" stroke-width="0.9"/>
<text x="373.8" y="620.6" class="tx" font-size="8.3">Pre-transition metals</text>
<circle cx="461.3" cy="618.4" r="6.1" fill="#ecb2f0" stroke="#9a6a9a" stroke-width="0.9"/>
<text x="471.4" y="620.6" class="tx" font-size="8.3">Post-transition metals</text>
</svg>
</body></html>
